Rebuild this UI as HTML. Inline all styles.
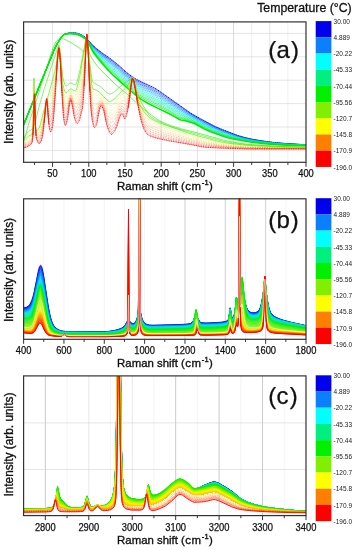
<!DOCTYPE html>
<html><head><meta charset="utf-8"><style>
html,body{margin:0;padding:0;background:#fff;width:355px;height:550px;overflow:hidden}
svg{display:block}
</style></head><body>
<svg width="355" height="550" viewBox="0 0 355 550" font-family="'Liberation Sans', Arial, Helvetica, sans-serif">
<rect width="355" height="550" fill="#fff"/>
<text x="257.2" y="12.1" font-size="12.3" fill="#111" stroke="#111" stroke-width="0.3">Temperature (°C)</text>
<g stroke="#d4d4d4" stroke-width="0.6"><line x1="52.56" y1="21.9" x2="52.56" y2="162.3" stroke="#d2d2d2"/><line x1="70.67" y1="21.9" x2="70.67" y2="162.3" stroke="#e6e6e6"/><line x1="88.77" y1="21.9" x2="88.77" y2="162.3" stroke="#bdbdbd"/><line x1="106.87" y1="21.9" x2="106.87" y2="162.3" stroke="#e6e6e6"/><line x1="124.97" y1="21.9" x2="124.97" y2="162.3" stroke="#d2d2d2"/><line x1="143.08" y1="21.9" x2="143.08" y2="162.3" stroke="#e6e6e6"/><line x1="161.18" y1="21.9" x2="161.18" y2="162.3" stroke="#bdbdbd"/><line x1="179.28" y1="21.9" x2="179.28" y2="162.3" stroke="#e6e6e6"/><line x1="197.38" y1="21.9" x2="197.38" y2="162.3" stroke="#d2d2d2"/><line x1="215.49" y1="21.9" x2="215.49" y2="162.3" stroke="#e6e6e6"/><line x1="233.59" y1="21.9" x2="233.59" y2="162.3" stroke="#bdbdbd"/><line x1="251.69" y1="21.9" x2="251.69" y2="162.3" stroke="#e6e6e6"/><line x1="269.79" y1="21.9" x2="269.79" y2="162.3" stroke="#d2d2d2"/><line x1="287.90" y1="21.9" x2="287.90" y2="162.3" stroke="#e6e6e6"/><line x1="23.6" y1="33.40" x2="306.0" y2="33.40"/><line x1="23.6" y1="56.80" x2="306.0" y2="56.80"/><line x1="23.6" y1="80.20" x2="306.0" y2="80.20"/><line x1="23.6" y1="103.60" x2="306.0" y2="103.60"/><line x1="23.6" y1="127.00" x2="306.0" y2="127.00"/><line x1="23.6" y1="150.40" x2="306.0" y2="150.40"/></g>
<clipPath id="clipa"><rect x="23.6" y="21.9" width="282.4" height="140.4"/></clipPath><g clip-path="url(#clipa)" fill="none" stroke-linejoin="round"><path d="M23.6 124.4L23.8 124.4 53.6 51.2 55.4 47.2 57.4 43.4 61.2 37.3 62.8 35.7 64.4 34.5 66.6 33.6 69.0 33.1 75.6 33.0 77.6 33.4 81.0 34.8 83.0 35.8 85.4 37.5 87.8 39.8 92.8 45.3 96.0 48.2 102.2 53.0 109.2 57.8 112.6 60.4 119.2 65.8 126.6 72.5 133.0 77.3 136.2 79.3 153.6 87.6 157.2 89.6 190.8 113.2 200.4 118.7 215.6 126.7 222.0 129.4 238.0 135.6 244.8 137.5 252.2 139.2 262.2 140.9 274.8 142.6 288.4 143.7 305.8 144.7" stroke="#0000f0" stroke-width="0.95" stroke-dasharray="1.6 0.4"/><path d="M23.6 124.4L23.8 124.4 53.6 51.2 55.4 47.2 57.6 43.0 61.2 37.3 62.8 35.7 64.4 34.5 66.6 33.7 69.0 33.1 75.6 33.1 77.6 33.5 81.2 34.9 83.2 36.0 85.6 37.8 88.0 40.2 92.8 45.7 96.4 49.0 102.4 53.8 112.6 61.3 119.2 66.8 126.6 73.4 133.2 78.4 136.6 80.5 153.8 88.9 157.2 90.7 190.6 113.6 200.8 119.4 215.2 126.9 222.2 129.9 237.6 135.7 244.4 137.7 252.0 139.4 261.8 141.0 274.6 142.7 288.6 143.8 305.8 144.8" stroke="#0025f4" stroke-width="0.7" stroke-dasharray="1.4 0.5"/><path d="M23.6 124.4L23.8 124.4 53.6 51.2 55.4 47.2 57.6 43.0 61.2 37.3 62.8 35.7 64.4 34.5 66.8 33.6 69.2 33.1 75.6 33.1 77.8 33.6 81.2 35.0 83.2 36.1 85.6 37.8 88.0 40.3 93.0 46.3 96.8 49.9 102.6 54.6 112.6 62.1 119.2 67.7 126.6 74.4 133.4 79.5 136.8 81.6 157.2 91.8 178.8 106.5 190.2 113.9 201.4 120.2 214.6 127.1 222.4 130.4 237.2 135.8 244.2 137.8 251.8 139.5 261.8 141.2 274.6 142.8 288.8 143.9 305.8 144.8" stroke="#0049f9" stroke-width="0.7" stroke-dasharray="1.4 0.5"/><path d="M23.6 124.4L23.8 124.4 53.6 51.2 55.4 47.2 57.6 43.0 61.2 37.3 62.8 35.7 64.4 34.5 66.6 33.7 69.2 33.2 75.6 33.2 77.8 33.7 81.2 35.1 83.4 36.3 85.6 37.9 88.0 40.4 93.0 46.7 97.0 50.5 102.8 55.4 114.2 64.4 126.8 75.5 133.6 80.6 137.4 82.9 157.2 93.0 179.0 107.6 190.0 114.4 202.6 121.4 213.8 127.1 222.2 130.7 236.4 135.8 243.4 137.8 251.4 139.6 261.6 141.3 274.4 142.9 289.0 144.0 305.8 144.9" stroke="#006efd" stroke-width="0.7" stroke-dasharray="1.4 0.5"/><path d="M23.6 124.4L23.8 124.4 53.6 51.2 55.4 47.2 57.6 43.0 61.2 37.3 62.8 35.7 64.4 34.5 66.6 33.7 69.2 33.2 75.6 33.3 77.8 33.8 81.2 35.2 83.4 36.4 85.6 38.0 88.0 40.5 93.0 47.1 97.4 51.4 103.0 56.3 115.0 66.0 126.6 76.2 133.8 81.8 138.0 84.3 157.2 94.1 180.4 109.4 191.4 115.8 204.0 122.6 212.8 127.1 221.8 131.0 235.4 135.8 242.6 137.9 251.2 139.8 261.4 141.4 274.2 143.0 289.2 144.1 305.8 145.0" stroke="#008ffd" stroke-width="0.7" stroke-dasharray="1.4 0.5"/><path d="M23.6 124.4L23.8 124.4 53.6 51.2 55.4 47.2 57.4 43.4 61.2 37.3 62.8 35.7 64.4 34.4 66.6 33.7 69.2 33.2 75.4 33.4 77.6 33.8 81.0 35.2 83.2 36.4 85.6 38.1 88.0 40.7 93.2 47.7 97.6 52.2 103.2 57.1 116.8 68.5 126.4 77.0 134.2 83.0 137.0 84.8 141.2 87.1 158.0 95.8 180.4 110.3 203.4 122.9 211.6 127.0 220.8 131.0 233.4 135.5 240.8 137.7 250.6 139.9 260.8 141.5 274.0 143.1 289.4 144.2 305.8 145.0" stroke="#00acf9" stroke-width="0.7" stroke-dasharray="1.4 0.5"/><path d="M23.6 124.4L23.8 124.4 53.6 51.2 55.4 47.2 57.6 43.0 61.2 37.3 62.8 35.7 64.4 34.4 66.6 33.7 69.2 33.3 75.4 33.4 77.6 33.9 81.0 35.3 83.2 36.5 85.6 38.2 88.0 40.8 93.2 48.1 98.0 53.1 103.4 58.0 117.0 69.6 126.2 77.8 134.4 84.2 137.4 86.1 141.8 88.6 158.4 97.2 180.0 110.9 195.6 119.1 204.6 124.0 210.2 126.8 218.8 130.7 229.2 134.4 239.2 137.5 250.2 140.0 260.6 141.7 273.8 143.2 289.6 144.4 305.8 145.1" stroke="#00c9f4" stroke-width="0.7" stroke-dasharray="1.4 0.5"/><path d="M23.6 124.4L23.8 124.4 53.6 51.2 55.4 47.2 57.6 43.0 61.2 37.3 62.8 35.7 64.4 34.4 66.6 33.7 69.2 33.3 75.4 33.5 77.6 34.0 81.2 35.4 83.4 36.7 85.6 38.3 88.0 41.0 93.2 48.5 98.4 54.1 104.4 59.6 125.8 78.5 134.6 85.4 137.8 87.5 142.0 89.9 158.8 98.7 179.8 111.8 195.4 119.5 204.2 124.4 208.6 126.6 217.4 130.5 228.0 134.4 238.6 137.6 249.6 140.1 260.2 141.8 273.6 143.3 289.8 144.5 305.8 145.2" stroke="#00e6f0" stroke-width="0.7" stroke-dasharray="1.4 0.5"/><path d="M23.6 124.4L23.8 124.4 53.6 51.2 57.2 43.7 61.2 37.3 62.6 35.8 64.2 34.6 65.6 34.0 68.8 33.4 74.2 33.5 77.0 33.9 80.6 35.3 83.2 36.6 85.6 38.3 88.0 41.1 93.4 49.2 96.0 52.2 99.0 55.2 105.8 61.7 125.4 79.1 131.2 83.9 135.6 87.2 142.8 91.6 159.6 100.4 179.6 112.6 185.8 115.4 195.2 120.0 207.8 126.7 217.0 130.9 227.6 134.7 238.0 137.8 249.4 140.3 260.2 142.0 273.4 143.4 290.0 144.6 305.8 145.3" stroke="#00e9d0" stroke-width="0.7" stroke-dasharray="1.4 0.5"/><path d="M23.6 124.4L23.8 124.4 53.6 51.2 57.0 44.1 61.0 37.6 62.4 36.0 64.2 34.5 65.2 34.1 68.6 33.4 73.4 33.5 76.4 33.8 79.2 34.8 82.6 36.4 85.6 38.4 88.0 41.2 92.2 48.0 93.8 50.2 97.0 53.8 102.2 59.0 110.6 66.9 125.4 80.2 131.6 85.3 136.4 88.9 143.4 93.2 161.0 102.4 173.8 110.0 179.4 113.5 185.8 116.1 195.2 120.5 207.2 127.0 216.6 131.2 227.4 135.1 237.6 138.0 249.2 140.5 260.0 142.1 273.2 143.6 290.2 144.7 305.8 145.3" stroke="#00ecb0" stroke-width="0.7" stroke-dasharray="1.4 0.5"/><path d="M23.6 124.4L23.8 124.4 53.6 51.2 56.8 44.5 61.0 37.6 62.0 36.4 64.0 34.7 65.2 34.1 68.0 33.6 70.2 33.4 72.8 33.5 76.2 33.9 78.8 34.7 82.4 36.3 85.6 38.5 88.0 41.4 93.4 50.1 96.0 53.3 99.2 56.7 105.8 63.4 113.2 70.3 126.0 81.8 134.0 88.3 138.2 91.3 142.0 93.7 161.8 104.1 171.0 109.4 179.8 114.8 186.0 117.0 195.0 121.0 205.6 126.8 214.2 130.7 225.8 135.0 236.2 137.9 250.8 141.0 266.8 143.1 285.2 144.5 305.8 145.4" stroke="#00ef90" stroke-width="0.7" stroke-dasharray="1.4 0.5"/><path d="M23.6 124.4L23.8 124.4 53.6 51.2 56.8 44.5 61.0 37.6 62.0 36.4 64.0 34.7 65.0 34.2 67.8 33.6 70.0 33.4 72.6 33.5 76.0 33.9 78.8 34.8 82.6 36.5 85.8 38.8 88.2 41.9 92.2 48.8 93.8 51.1 97.2 55.2 102.8 61.2 108.8 67.2 115.4 73.4 126.2 83.0 134.4 89.8 138.8 93.0 142.6 95.3 165.2 107.3 174.0 112.3 179.6 115.7 186.0 117.8 195.0 121.6 205.8 127.5 214.0 131.2 225.6 135.4 235.0 138.0 250.4 141.2 266.2 143.2 274.0 143.9 285.4 144.7 305.8 145.5" stroke="#00ef6e" stroke-width="0.7" stroke-dasharray="1.4 0.5"/><path d="M23.6 124.4L23.8 124.4 53.6 51.2 56.6 44.8 60.8 37.8 61.8 36.6 63.8 34.8 65.0 34.2 67.2 33.7 69.6 33.5 72.2 33.6 76.0 34.0 78.8 34.9 82.6 36.6 85.8 38.9 88.0 41.7 92.2 49.2 94.2 52.2 97.6 56.3 104.4 63.7 111.4 70.8 120.6 79.3 128.6 86.2 136.2 92.4 139.6 94.9 143.8 97.4 166.2 109.1 174.0 113.5 179.4 116.8 181.0 117.4 186.2 118.8 195.0 122.3 205.8 128.2 213.8 131.7 225.4 135.8 233.8 138.1 250.2 141.4 265.6 143.3 273.6 144.0 285.4 144.8 305.8 145.6" stroke="#00ee49" stroke-width="0.7"/><path d="M23.6 124.4L23.8 124.4 53.6 51.2 56.6 44.8 60.8 37.8 61.8 36.6 63.8 34.8 65.0 34.1 67.0 33.8 69.6 33.5 72.0 33.6 76.0 34.1 78.8 35.0 82.6 36.8 85.8 39.0 88.0 41.9 92.4 50.1 94.4 53.1 98.0 57.5 106.0 66.5 112.0 72.6 120.4 80.4 129.2 88.0 137.4 94.7 140.6 97.0 145.2 99.8 151.8 103.3 167.2 111.0 174.0 114.7 179.2 117.9 181.0 118.5 186.2 119.7 195.0 122.9 205.8 128.9 213.6 132.2 225.2 136.3 232.8 138.3 250.0 141.6 265.2 143.5 273.4 144.2 285.8 144.9 305.8 145.7" stroke="#00ec25" stroke-width="0.7"/><path d="M23.6 124.4L23.8 124.4 53.6 51.2 56.6 44.8 60.8 37.8 61.8 36.6 63.8 34.8 65.0 34.1 66.6 33.9 69.4 33.6 71.8 33.7 75.8 34.2 78.8 35.1 82.8 37.0 85.8 39.2 88.0 42.1 92.4 50.7 94.6 54.1 98.2 58.7 107.0 68.9 112.4 74.5 119.6 81.2 129.0 89.5 138.2 97.2 142.4 100.1 148.8 103.7 156.0 107.4 167.8 113.0 174.2 116.4 179.0 119.3 181.0 120.0 186.4 120.9 194.4 123.6 196.8 124.7 205.4 129.6 210.0 131.6 223.8 136.5 228.0 137.8 231.8 138.7 250.2 142.0 265.0 143.7 273.2 144.4 286.6 145.2 305.8 145.8" stroke="#00eb00" stroke-width="1.6"/><path d="M23.6 139.0L24.6 137.5 26.0 134.0 27.6 127.6 29.4 121.6 46.4 69.4 51.4 52.9 53.2 47.7 55.2 43.0 56.4 41.1 58.4 39.8 60.8 38.7 62.0 38.5 63.6 38.9 67.0 40.5 72.8 43.6 79.2 47.9 80.4 48.8 83.0 51.4 84.2 52.0 84.6 51.6 85.0 49.9 86.4 41.2 86.8 40.1 87.0 40.1 87.6 42.6 88.8 51.2 90.4 55.6 91.8 58.1 95.0 63.0 97.6 66.2 101.2 70.3 115.2 84.2 127.2 94.2 137.4 103.7 141.4 107.2 147.4 112.0 156.2 118.6 159.4 120.7 163.8 122.8 171.6 125.9 181.0 128.8 200.6 133.7 223.0 140.0 228.8 141.3 237.8 142.9 248.4 144.4 268.4 145.8 288.0 146.7 305.8 147.0" stroke="#14ec00" stroke-width="0.6"/><path d="M23.6 140.0L25.4 135.7 26.8 133.3 28.2 131.8 31.2 129.8 32.4 128.7 33.4 127.3 34.2 125.4 35.6 120.7 38.8 107.7 44.0 89.6 58.4 45.5 58.8 45.0 59.0 45.1 59.4 46.4 62.6 75.5 63.4 79.7 64.8 84.4 65.6 85.8 66.0 86.0 66.4 85.9 67.4 85.4 69.6 83.4 70.8 83.0 71.8 83.3 74.4 84.8 75.4 85.0 76.2 84.1 77.2 81.4 80.2 69.2 85.8 39.2 86.4 36.8 86.8 36.0 87.0 36.1 87.2 36.8 87.6 39.7 88.8 53.2 91.2 74.2 92.0 79.4 92.8 82.0 94.0 83.0 99.8 86.2 107.6 93.2 108.8 93.8 110.0 94.0 111.6 93.6 113.6 92.6 118.6 88.0 121.6 85.5 126.8 81.9 129.6 79.5 130.6 79.0 131.4 79.2 132.2 80.3 133.4 83.3 135.8 90.5 139.0 102.4 139.8 104.6 141.0 106.9 143.8 111.4 146.8 115.2 149.8 117.9 153.8 120.3 157.6 122.0 164.2 124.6 179.8 129.4 216.4 139.5 223.0 141.1 228.6 142.3 242.4 144.3 254.6 145.3 282.6 146.8 305.8 147.3" stroke="#33ed00" stroke-width="0.6"/><path d="M23.6 141.0L25.8 138.5 27.8 136.7 28.6 136.1 30.6 135.3 31.4 134.7 32.0 134.0 32.2 133.1 32.8 124.7 33.4 110.0 34.0 78.0 34.8 107.8 35.6 127.4 36.0 131.0 37.0 130.6 38.0 129.4 39.2 127.7 40.4 124.5 43.8 110.7 49.0 92.9 54.8 71.3 56.2 64.8 58.0 49.6 58.4 47.2 58.8 46.1 59.0 46.1 59.4 47.3 60.6 55.8 62.8 83.8 63.6 87.5 64.6 90.9 65.4 92.6 66.0 93.0 67.0 92.5 69.4 89.7 70.4 89.0 71.6 89.2 74.2 90.7 75.4 91.0 76.2 90.1 77.2 87.3 80.4 73.1 85.8 39.8 86.4 36.9 86.8 36.0 87.0 36.1 87.4 38.6 88.8 57.9 90.6 75.7 91.6 83.9 92.4 87.9 92.8 88.7 93.2 89.0 96.4 90.2 99.6 92.2 103.6 96.6 107.0 100.0 108.4 101.0 109.8 101.4 111.4 100.9 114.0 99.3 116.6 97.0 121.0 92.0 125.2 88.4 126.8 86.8 128.4 84.4 132.2 77.8 132.6 77.2 133.0 77.0 133.4 77.4 133.8 78.4 136.0 88.0 138.2 95.2 139.8 99.6 142.2 104.2 149.0 114.8 149.8 115.8 151.2 117.0 154.6 119.3 163.2 123.6 170.0 126.6 182.4 131.1 195.8 135.3 215.8 140.7 222.4 142.2 228.2 143.2 242.2 144.9 256.4 145.9 283.6 147.1 305.8 147.5" stroke="#52ee00" stroke-width="0.7"/><path d="M23.6 142.0L27.8 138.1 31.2 136.2 32.0 135.2 32.2 134.4 32.8 126.6 33.4 112.7 34.0 82.5 34.2 84.9 35.2 118.7 35.8 130.4 36.0 131.6 36.4 132.0 37.0 132.0 38.0 131.3 39.0 130.2 39.6 129.2 41.0 125.0 46.6 100.8 47.0 100.1 48.6 98.3 49.8 95.7 51.0 92.1 52.6 86.2 54.2 78.8 55.6 71.2 56.4 65.3 58.0 50.3 58.4 47.7 58.8 46.4 59.0 46.4 59.4 47.8 60.6 57.3 62.8 87.2 63.6 91.9 64.6 95.6 65.4 97.3 65.8 97.5 66.4 97.2 67.6 95.7 69.6 91.7 70.6 90.6 71.0 90.6 71.6 91.1 74.4 94.6 75.6 95.2 76.0 95.0 76.6 94.0 77.6 91.1 80.8 77.3 82.8 65.6 84.4 53.7 86.0 39.8 86.8 35.8 87.0 35.8 87.2 36.8 87.6 40.8 89.0 61.8 90.6 79.9 91.6 88.5 92.4 92.7 93.0 93.8 94.4 94.9 96.8 95.2 99.0 94.6 100.0 94.7 100.8 95.1 101.8 96.2 104.0 99.1 106.8 103.4 108.0 104.7 109.0 105.5 110.0 105.9 111.0 105.8 112.2 105.2 113.8 104.1 116.8 101.0 121.2 95.0 123.0 93.8 124.6 93.2 125.8 92.0 127.0 90.4 128.2 88.0 132.2 77.9 132.6 77.4 133.0 77.3 133.4 77.7 134.0 79.5 136.0 88.7 138.2 96.8 139.8 101.7 141.2 105.0 142.8 108.1 148.0 116.4 149.8 118.7 153.2 121.1 156.6 122.9 166.2 127.1 172.4 129.5 179.6 132.0 196.2 136.9 214.0 141.3 220.8 142.7 227.0 143.8 238.8 145.2 249.8 146.0 281.2 147.3 305.8 147.7" stroke="#a8f000" stroke-width="0.55" stroke-dasharray="0.8 0.9"/><path d="M23.6 143.0L27.8 139.4 31.0 137.6 32.0 136.4 32.2 135.7 32.8 128.4 33.4 115.2 34.0 86.8 34.2 87.4 34.4 92.6 35.4 124.0 36.0 132.3 36.2 132.8 36.8 133.3 38.2 133.0 39.2 132.1 40.2 130.0 41.4 126.2 42.6 121.3 46.6 100.5 46.8 100.2 47.0 100.2 48.6 102.1 49.8 101.2 51.0 98.5 52.8 91.8 55.4 75.9 58.0 50.9 58.4 48.1 58.8 46.7 59.0 46.7 59.4 48.2 60.6 58.7 62.8 90.5 63.6 96.0 64.6 100.1 65.2 101.5 65.6 101.9 66.0 101.8 66.6 101.2 67.6 99.3 69.6 93.7 70.2 92.5 70.6 92.1 71.0 92.2 71.6 92.9 74.0 97.6 74.8 98.7 75.4 99.3 75.8 99.4 76.6 98.7 77.8 95.6 80.0 87.1 82.6 73.4 84.2 60.2 86.0 40.8 86.8 35.5 87.0 35.6 87.2 36.6 87.6 40.9 89.0 63.6 90.6 84.0 91.6 92.9 92.4 97.3 92.8 98.3 93.6 99.5 94.2 100.0 95.0 100.2 96.8 99.8 98.6 97.7 99.6 97.0 100.4 96.8 101.2 97.1 102.2 98.3 103.8 100.8 106.2 105.8 107.2 107.5 108.6 109.2 109.8 110.1 110.8 110.3 111.6 110.2 113.2 109.1 114.6 107.8 117.0 104.8 119.4 100.6 121.2 98.0 122.0 97.5 123.0 97.1 124.2 97.4 124.6 97.3 125.8 96.0 127.0 94.1 128.2 91.2 132.0 78.6 132.4 77.7 132.8 77.5 133.4 78.1 134.0 79.8 137.0 93.7 139.4 102.6 141.6 108.5 144.0 113.2 148.0 119.3 150.0 121.6 152.0 123.0 154.4 124.3 162.6 127.8 169.2 130.3 177.0 132.9 196.6 138.4 211.4 141.8 225.2 144.3 237.8 145.6 249.2 146.4 281.0 147.6 305.8 147.9" stroke="#f4f000" stroke-width="0.55" stroke-dasharray="0.8 0.9"/><path d="M23.6 143.9L28.0 140.6 30.8 139.0 31.8 137.9 32.2 136.9 32.8 130.1 33.4 117.7 34.0 91.0 34.2 89.8 35.6 128.1 36.0 132.8 36.2 133.7 36.8 134.5 38.2 134.8 39.2 134.2 40.2 132.3 41.4 128.9 43.0 122.1 46.6 100.1 46.8 100.0 47.0 100.4 48.4 105.2 48.8 106.1 49.4 106.4 50.0 106.3 50.4 105.9 51.0 104.5 52.8 97.9 54.0 90.2 55.6 77.3 58.0 51.5 58.4 48.5 58.8 47.0 59.0 47.0 59.4 48.7 60.4 57.8 62.8 93.6 63.6 100.0 64.6 104.5 65.2 105.9 65.6 106.1 66.0 105.9 66.6 105.1 67.6 102.8 69.6 95.6 70.2 94.1 70.6 93.5 71.0 93.7 71.6 94.7 74.6 102.1 75.8 103.5 76.4 103.4 76.8 102.9 78.0 100.0 80.0 92.8 82.8 78.4 84.2 65.0 86.2 39.6 86.8 35.3 87.0 35.3 87.2 36.4 87.6 40.9 89.2 68.5 90.6 87.9 91.6 97.2 92.4 101.7 93.0 103.3 94.0 104.8 94.6 105.1 95.4 105.0 96.8 104.2 98.6 100.6 99.8 99.1 100.6 98.5 101.2 98.6 102.2 99.8 103.8 102.6 106.2 108.9 107.4 111.2 108.6 113.0 110.2 114.4 111.0 114.7 112.0 114.4 113.4 113.3 114.8 111.8 117.0 108.6 119.4 103.8 121.2 101.0 122.0 100.5 123.0 100.4 124.2 101.2 124.6 101.3 125.2 100.7 126.0 99.6 127.0 97.7 128.2 94.3 132.0 78.8 132.4 77.9 132.8 77.8 133.4 78.4 134.2 81.0 137.2 95.8 139.2 103.8 140.8 108.9 142.8 113.8 145.6 118.7 149.0 123.3 150.0 124.2 151.8 125.4 156.0 127.4 163.2 130.2 169.0 132.2 185.0 136.8 204.0 141.5 213.2 143.2 221.8 144.5 234.8 145.9 248.2 146.9 280.6 147.8 305.8 148.1" stroke="#ffbe00" stroke-width="0.55" stroke-dasharray="0.8 0.9"/><path d="M23.6 144.7L28.0 141.8 30.6 140.4 31.6 139.3 32.2 138.0 32.8 131.7 33.4 120.0 34.2 92.1 34.6 97.9 35.6 128.3 36.0 133.4 36.2 134.5 36.8 135.7 38.2 136.5 38.8 136.5 39.2 136.2 40.4 134.1 41.8 130.0 43.2 123.3 45.8 104.4 46.6 99.8 46.8 99.9 47.0 100.6 48.8 109.9 49.6 111.2 50.2 111.5 50.6 111.1 51.2 109.7 52.8 103.7 53.8 96.7 55.4 82.4 57.8 54.1 58.4 48.9 58.8 47.3 59.0 47.3 59.4 49.1 60.4 58.8 62.0 85.5 63.0 98.7 63.8 105.1 64.6 108.6 65.0 109.7 65.4 110.2 66.0 109.9 66.6 108.8 67.6 106.1 69.2 98.8 70.0 96.1 70.6 94.9 71.0 95.1 71.4 95.8 72.6 99.2 74.0 104.1 75.0 106.3 75.6 107.2 76.2 107.6 76.8 107.3 77.2 106.7 78.4 103.6 80.0 98.2 82.8 84.3 84.2 69.5 85.6 47.9 86.4 37.9 86.8 35.1 87.0 35.1 87.2 36.2 87.6 41.0 89.4 74.0 90.6 91.6 91.4 99.6 92.4 105.9 93.2 108.1 94.0 109.5 94.6 109.9 95.6 109.5 96.8 108.4 98.6 103.4 99.8 101.2 100.6 100.2 101.0 100.0 101.4 100.2 102.4 101.6 103.8 104.4 106.2 111.8 107.4 114.6 108.8 116.9 110.6 118.7 111.4 118.8 112.2 118.4 113.8 117.0 115.0 115.6 117.0 112.3 119.2 107.3 121.2 103.7 122.0 103.4 123.0 103.5 124.2 104.9 124.6 105.0 125.2 104.5 126.2 102.8 127.2 100.5 128.4 96.4 131.8 79.9 132.2 78.3 132.6 77.9 133.0 78.1 133.4 78.8 134.2 81.3 137.2 96.9 139.4 106.4 141.0 111.7 142.8 116.4 145.6 121.6 148.6 125.5 149.6 126.4 151.0 127.3 154.8 129.2 167.2 133.5 182.2 137.6 203.2 142.5 219.0 145.0 231.8 146.3 247.6 147.3 280.0 148.1 305.8 148.3" stroke="#ff8b00" stroke-width="0.55" stroke-dasharray="0.8 0.9"/><path d="M23.6 145.6L30.2 141.8 31.4 140.6 32.2 139.1 32.8 133.3 33.4 122.2 34.0 98.7 34.2 94.3 34.4 93.7 35.6 128.5 36.2 135.3 37.0 137.0 38.4 138.2 39.0 138.2 39.4 137.9 40.2 136.6 41.0 134.8 42.0 131.6 42.8 128.1 43.4 124.2 45.8 104.6 46.6 99.5 47.0 100.8 48.8 113.4 49.6 115.7 50.2 116.5 50.6 116.4 51.2 115.2 52.6 110.2 53.6 103.3 55.4 85.4 57.4 58.9 58.2 50.8 58.8 47.5 59.0 47.5 59.4 49.5 60.4 59.8 62.0 87.9 63.0 101.7 63.8 108.8 64.6 112.4 65.2 113.9 65.6 114.0 66.2 113.2 66.8 111.8 67.6 109.2 69.2 100.8 70.0 97.6 70.6 96.2 71.0 96.4 71.4 97.3 72.6 101.3 74.0 107.1 75.0 109.6 75.6 110.8 76.2 111.4 76.8 111.4 77.4 110.6 78.6 107.8 80.0 103.3 82.8 89.9 84.2 73.8 86.4 38.1 86.8 34.9 87.0 34.9 87.8 44.2 89.4 76.2 91.0 99.7 91.8 106.5 92.4 109.8 93.4 112.8 94.0 113.9 94.4 114.3 95.4 114.0 96.6 112.8 97.2 111.3 99.0 104.9 100.4 102.0 100.8 101.6 101.2 101.5 102.2 102.6 103.8 106.0 106.2 114.6 108.4 119.7 109.8 121.7 110.8 122.6 111.6 122.7 112.8 121.9 114.6 119.9 116.4 116.9 117.4 114.9 119.2 110.2 121.0 106.6 121.8 106.1 123.0 106.4 124.2 108.3 124.6 108.5 125.4 107.7 126.4 105.8 127.4 102.9 128.4 99.0 131.4 82.1 132.2 78.5 132.6 78.1 133.2 78.7 134.0 80.8 137.2 98.0 138.8 105.5 140.6 112.5 142.6 118.4 145.2 123.6 147.6 126.9 149.8 128.9 153.8 130.9 165.2 134.7 178.8 138.2 202.4 143.5 215.6 145.4 228.8 146.6 247.0 147.7 279.4 148.3 305.8 148.5" stroke="#ff5c00" stroke-width="0.55" stroke-dasharray="0.8 0.9"/><path d="M23.6 146.3L25.6 145.5 30.0 143.0 31.2 141.9 32.2 140.1 32.8 134.7 33.4 124.2 34.0 102.1 34.4 94.0 35.6 128.6 36.2 136.0 37.0 138.1 38.6 139.9 39.0 139.9 39.4 139.7 40.2 138.5 41.0 136.9 42.2 133.1 43.4 126.2 45.8 104.7 46.6 99.2 47.0 100.9 48.8 116.7 49.6 119.8 50.2 121.2 50.4 121.3 50.8 121.0 51.4 119.7 52.8 114.2 53.6 107.9 55.4 88.1 57.4 59.6 58.2 51.3 58.8 47.8 59.0 47.8 59.4 49.8 60.4 60.8 61.8 86.8 63.0 104.5 63.8 112.2 64.6 116.0 65.2 117.5 65.6 117.5 66.2 116.6 66.8 115.0 67.6 112.1 69.2 102.6 70.0 99.0 70.6 97.4 71.0 97.6 71.4 98.7 72.6 103.2 74.0 109.8 75.0 112.7 75.8 114.4 76.4 115.1 77.0 115.0 77.6 114.3 78.8 111.6 80.0 108.1 82.4 97.6 82.8 95.1 84.2 77.7 86.4 38.3 86.8 34.7 87.0 34.7 87.4 38.1 88.0 47.6 89.4 78.3 90.8 101.0 92.2 112.5 93.4 116.8 94.0 118.1 94.4 118.4 94.8 118.4 95.4 118.0 96.8 116.0 98.8 107.7 100.4 103.5 100.8 102.9 101.2 102.8 101.6 103.0 102.2 103.9 103.8 107.6 106.2 117.2 108.4 122.8 110.0 125.4 111.0 126.3 111.8 126.3 113.0 125.3 114.8 123.1 116.4 120.2 117.4 118.0 119.2 112.9 121.0 109.0 121.4 108.6 121.8 108.6 123.0 109.1 124.2 111.5 124.6 111.8 125.4 111.0 126.4 108.9 127.4 105.8 128.4 101.5 131.4 82.6 132.2 78.6 132.4 78.2 132.6 78.2 133.4 79.3 134.2 81.8 137.2 99.0 138.8 107.0 140.6 114.4 142.6 120.6 144.8 125.4 146.8 128.3 149.4 130.8 153.0 132.6 156.2 133.8 163.6 136.0 176.0 139.0 201.6 144.4 211.6 145.7 226.4 147.0 246.4 148.1 305.8 148.6" stroke="#ff3500" stroke-width="0.55" stroke-dasharray="0.8 0.9"/><path d="M23.6 147.0L26.0 146.2 30.2 143.8 31.8 141.8 32.4 140.0 33.4 126.0 34.4 94.3 34.6 95.7 35.4 124.8 35.8 132.2 36.2 136.6 37.0 139.1 38.6 141.4 39.0 141.5 39.4 141.3 40.2 140.3 41.2 138.3 42.4 134.3 43.6 126.4 45.8 104.8 46.6 99.0 47.0 101.0 48.8 119.7 49.6 123.6 50.2 125.4 50.4 125.6 50.8 125.5 51.4 124.3 52.8 118.8 53.6 112.0 55.2 93.3 57.2 62.7 58.2 51.7 58.8 48.0 59.0 48.0 59.4 50.2 60.4 61.6 61.8 88.8 63.2 109.5 63.8 115.3 64.6 119.2 65.2 120.8 65.6 120.7 66.2 119.6 66.8 117.8 67.6 114.7 69.2 104.2 70.2 99.4 70.6 98.5 71.0 98.7 71.4 99.9 72.6 105.0 74.2 113.1 75.4 116.6 76.0 117.9 76.6 118.5 77.2 118.4 78.0 117.4 79.4 114.2 80.0 112.3 82.4 102.2 82.8 99.8 84.2 81.3 86.4 38.5 86.8 34.5 87.0 34.5 87.4 38.1 88.0 47.8 89.4 80.2 90.8 104.0 92.2 115.8 93.4 120.4 94.0 121.8 94.4 122.2 94.8 122.1 95.4 121.7 96.8 119.4 98.8 109.8 100.4 104.9 100.8 104.2 101.2 103.9 101.6 104.2 102.2 105.1 103.8 108.9 106.4 120.2 108.6 126.1 110.2 128.7 111.0 129.6 111.4 129.7 112.0 129.4 113.2 128.3 114.8 126.3 116.6 122.7 117.4 120.8 119.2 115.3 121.0 111.2 121.4 110.8 121.8 110.8 123.0 111.5 124.2 114.3 124.6 114.7 125.4 113.9 126.4 111.7 127.4 108.3 128.4 103.7 131.2 84.3 132.0 79.5 132.4 78.4 132.8 78.5 133.2 79.2 134.2 82.1 137.4 101.0 138.8 108.2 140.6 116.1 142.6 122.7 144.6 127.2 146.4 130.1 149.0 132.5 152.2 134.2 155.4 135.3 161.2 136.9 170.8 139.2 201.0 145.3 208.4 146.2 223.2 147.3 246.2 148.4 305.8 148.8" stroke="#ff1900" stroke-width="0.55" stroke-dasharray="0.8 0.9"/><path d="M23.6 147.6L26.0 146.9 30.0 144.8 31.6 142.9 32.2 141.8 32.4 140.9 33.0 134.3 33.6 123.5 34.4 94.6 34.6 95.2 35.4 124.9 35.8 132.4 36.2 137.2 37.0 139.9 38.6 142.6 39.0 142.8 39.4 142.6 40.2 141.7 41.2 140.0 42.4 136.0 43.6 127.8 45.8 104.9 46.6 98.7 47.0 101.2 48.8 122.3 49.6 126.8 50.2 129.0 50.4 129.3 50.8 129.3 51.4 128.2 52.8 122.7 53.6 115.6 55.2 95.7 57.2 63.3 58.2 52.0 58.8 48.2 59.0 48.2 59.4 50.5 60.4 62.3 61.8 90.4 63.2 111.8 63.8 117.9 64.6 122.0 65.2 123.6 65.6 123.4 66.2 122.3 67.0 119.5 67.8 115.7 69.2 105.6 70.2 100.5 70.6 99.4 70.8 99.4 71.0 99.7 71.4 101.0 72.6 106.5 74.2 115.3 75.4 119.1 76.2 120.9 76.8 121.5 77.4 121.3 78.2 120.3 79.6 117.3 80.0 116.0 82.4 106.2 83.0 101.9 84.2 84.3 86.4 38.7 86.8 34.3 87.0 34.3 87.4 38.0 88.2 51.7 89.4 81.8 90.8 106.6 92.2 118.6 93.4 123.4 94.0 124.9 94.4 125.4 94.8 125.3 95.4 124.8 96.8 122.2 98.8 111.6 100.4 106.0 100.8 105.2 101.2 104.9 101.6 105.1 102.2 106.0 103.8 110.1 106.2 121.5 107.6 126.0 109.0 129.3 110.2 131.4 111.0 132.3 111.8 132.4 112.6 131.8 114.2 129.9 115.2 128.2 117.2 123.8 119.2 117.4 120.6 113.9 121.2 112.9 121.6 112.7 122.0 112.8 123.0 113.6 124.4 117.1 124.6 117.3 125.0 117.0 126.6 113.5 128.2 106.7 131.4 83.4 132.0 79.7 132.4 78.4 132.8 78.7 133.2 79.4 134.2 82.3 137.4 101.9 139.0 110.4 140.6 117.5 142.6 124.4 144.4 128.7 146.2 131.7 148.6 134.0 151.6 135.6 156.6 137.2 167.8 139.8 191.0 144.1 200.6 146.0 206.0 146.8 219.6 147.7 246.2 148.8 305.8 148.9" stroke="#ff0700" stroke-width="0.55" stroke-dasharray="0.8 0.9"/><path d="M23.6 148.0L26.0 147.4 29.8 145.5 31.4 143.8 32.2 142.3 32.4 141.5 33.0 135.2 33.6 125.0 34.4 94.8 34.6 94.8 35.4 125.0 35.8 132.6 36.2 137.6 36.6 139.4 37.2 140.9 38.6 143.5 39.0 143.7 39.4 143.6 40.2 142.8 41.2 141.1 42.4 137.2 43.6 128.8 45.8 104.9 46.6 98.6 47.0 101.2 48.6 122.3 49.2 126.6 49.8 130.0 50.4 131.9 50.6 132.0 51.0 131.7 51.6 130.3 52.8 125.4 53.6 118.0 55.2 97.2 57.2 63.7 58.2 52.2 58.8 48.3 59.0 48.3 59.4 50.7 60.4 62.8 61.8 91.6 63.2 113.3 63.8 119.7 64.6 123.9 65.2 125.5 65.6 125.3 66.2 124.0 67.2 120.4 67.8 117.2 69.2 106.6 70.2 101.1 70.6 100.1 70.8 100.0 71.0 100.4 71.4 101.7 72.6 107.5 74.2 116.8 75.4 120.8 76.2 122.8 76.8 123.5 77.2 123.6 77.6 123.3 78.4 122.2 79.6 119.8 80.0 118.5 81.4 112.4 82.4 109.0 83.0 104.6 84.2 86.4 86.4 38.8 86.8 34.2 87.0 34.2 87.4 38.0 88.2 51.8 89.4 82.9 90.8 108.3 92.2 120.5 93.4 125.5 94.0 127.1 94.4 127.6 94.8 127.5 95.4 126.9 96.8 124.1 98.8 112.8 100.4 106.8 100.8 105.9 101.2 105.6 101.6 105.8 102.2 106.7 103.8 110.9 106.2 122.8 107.6 127.6 109.0 131.0 110.2 133.3 111.0 134.3 111.8 134.3 112.6 133.7 114.2 131.7 115.2 130.1 117.2 125.5 119.2 118.8 120.6 115.2 121.2 114.1 121.6 114.0 122.0 114.1 123.0 115.0 124.4 118.9 124.6 119.0 125.0 118.8 125.6 117.7 126.6 115.2 128.2 108.0 131.4 83.6 132.0 79.8 132.4 78.5 132.8 78.8 133.2 79.5 134.2 82.5 137.4 102.4 138.8 110.1 140.4 117.7 142.4 125.0 144.2 129.6 146.0 132.8 148.2 134.9 151.0 136.4 156.0 138.0 166.6 140.4 190.8 144.6 200.8 146.6 205.8 147.3 217.6 148.0 246.4 149.0 305.8 149.0" stroke="#ff0000" stroke-width="0.8" stroke-dasharray="1.3 0.5"/><path d="M33.0 135.2L33.6 125.0 34.4 94.8 34.6 94.8 35.4 125.0 36.0 135.5 M44.2 123.0L45.8 104.9 46.4 99.3 46.6 98.6 46.8 99.4 47.0 101.2 48.8 124.0 M56.2 80.2L57.4 61.1 58.4 50.4 58.8 48.3 59.0 48.3 59.2 49.1 59.6 52.7 60.4 62.8 61.8 91.6 M84.2 86.4L85.4 58.1 86.2 42.4 86.6 35.9 86.8 34.2 87.0 34.2 87.4 38.0 88.2 51.8 89.8 91.1 M128.2 108.0L129.2 101.2 131.4 83.6 132.0 79.8 132.2 78.9 132.4 78.5 132.8 78.8 133.2 79.5 133.8 81.0 134.2 82.5 135.8 91.8 137.4 102.4" stroke="#ff1a00" stroke-width="0.9"/></g>
<rect x="23.6" y="21.9" width="282.4" height="140.4" fill="none" stroke="#333" stroke-width="1.2"/>
<g stroke="#333" stroke-width="1"><line x1="52.56" y1="162.3" x2="52.56" y2="166.8"/><line x1="88.77" y1="162.3" x2="88.77" y2="166.8"/><line x1="124.97" y1="162.3" x2="124.97" y2="166.8"/><line x1="161.18" y1="162.3" x2="161.18" y2="166.8"/><line x1="197.38" y1="162.3" x2="197.38" y2="166.8"/><line x1="233.59" y1="162.3" x2="233.59" y2="166.8"/><line x1="269.79" y1="162.3" x2="269.79" y2="166.8"/><line x1="306.00" y1="162.3" x2="306.00" y2="166.8"/><line x1="34.46" y1="162.3" x2="34.46" y2="164.9"/><line x1="70.67" y1="162.3" x2="70.67" y2="164.9"/><line x1="106.87" y1="162.3" x2="106.87" y2="164.9"/><line x1="143.08" y1="162.3" x2="143.08" y2="164.9"/><line x1="179.28" y1="162.3" x2="179.28" y2="164.9"/><line x1="215.49" y1="162.3" x2="215.49" y2="164.9"/><line x1="251.69" y1="162.3" x2="251.69" y2="164.9"/><line x1="287.90" y1="162.3" x2="287.90" y2="164.9"/></g>
<g font-size="10.4" text-anchor="middle" fill="#111" stroke="#111" stroke-width="0.25"><text x="52.56" y="177.4" textLength="10.40" lengthAdjust="spacingAndGlyphs">50</text><text x="88.77" y="177.4" textLength="15.60" lengthAdjust="spacingAndGlyphs">100</text><text x="124.97" y="177.4" textLength="15.60" lengthAdjust="spacingAndGlyphs">150</text><text x="161.18" y="177.4" textLength="15.60" lengthAdjust="spacingAndGlyphs">200</text><text x="197.38" y="177.4" textLength="15.60" lengthAdjust="spacingAndGlyphs">250</text><text x="233.59" y="177.4" textLength="15.60" lengthAdjust="spacingAndGlyphs">300</text><text x="269.79" y="177.4" textLength="15.60" lengthAdjust="spacingAndGlyphs">350</text><text x="306.00" y="177.4" textLength="15.60" lengthAdjust="spacingAndGlyphs">400</text></g>
<g font-size="11.4" fill="#111" stroke="#111" stroke-width="0.35"><text x="117.1" y="189.8">Raman shift</text><text x="181.0" y="189.8" letter-spacing="0.45">(cm</text><text x="201.7" y="185.2" font-size="7.6" letter-spacing="0.4">-1</text><text x="209.0" y="189.8">)</text></g>
<text transform="translate(12.9,91.9) rotate(-90)" text-anchor="middle" font-size="11.85" fill="#111" stroke="#111" stroke-width="0.35">Intensity (arb. units)</text>
<g font-size="24" fill="#111" stroke="#111" stroke-width="0.25"><text x="268.3" y="57.5">(</text><text x="276.6" y="57.5">a</text><text x="290.9" y="57.5">)</text></g>
<rect x="315.7" y="21.10" width="15.7" height="16.25" fill="#0000ee"/><rect x="315.7" y="37.30" width="15.7" height="16.25" fill="#0a80ff"/><rect x="315.7" y="53.50" width="15.7" height="16.25" fill="#00ffff"/><rect x="315.7" y="69.70" width="15.7" height="16.25" fill="#00f080"/><rect x="315.7" y="85.90" width="15.7" height="16.25" fill="#00f000"/><rect x="315.7" y="102.10" width="15.7" height="16.25" fill="#80f000"/><rect x="315.7" y="118.30" width="15.7" height="16.25" fill="#ffff00"/><rect x="315.7" y="134.50" width="15.7" height="16.25" fill="#ff8000"/><rect x="315.7" y="150.70" width="15.7" height="16.25" fill="#ff0000"/>
<g font-size="6.5" fill="#222"><text x="333.6" y="23.80">30.00</text><text x="333.6" y="40.00">4.889</text><text x="333.6" y="56.20">-20.22</text><text x="333.6" y="72.40">-45.33</text><text x="333.6" y="88.60">-70.44</text><text x="333.6" y="104.80">-95.56</text><text x="333.6" y="121.00">-120.7</text><text x="333.6" y="137.20">-145.8</text><text x="333.6" y="153.40">-170.9</text><text x="333.6" y="169.60">-196.0</text></g>
<g stroke="#ececec" stroke-width="0.6"><line x1="43.77" y1="198.8" x2="43.77" y2="339.3"/><line x1="63.94" y1="198.8" x2="63.94" y2="339.3"/><line x1="84.11" y1="198.8" x2="84.11" y2="339.3"/><line x1="104.29" y1="198.8" x2="104.29" y2="339.3"/><line x1="124.46" y1="198.8" x2="124.46" y2="339.3"/><line x1="144.63" y1="198.8" x2="144.63" y2="339.3"/><line x1="164.80" y1="198.8" x2="164.80" y2="339.3"/><line x1="184.97" y1="198.8" x2="184.97" y2="339.3" stroke="#c4c4c4" stroke-width="0.8"/><line x1="205.14" y1="198.8" x2="205.14" y2="339.3"/><line x1="225.31" y1="198.8" x2="225.31" y2="339.3" stroke="#c4c4c4" stroke-width="0.8"/><line x1="245.49" y1="198.8" x2="245.49" y2="339.3"/><line x1="265.66" y1="198.8" x2="265.66" y2="339.3" stroke="#c4c4c4" stroke-width="0.8"/><line x1="285.83" y1="198.8" x2="285.83" y2="339.3"/></g>
<clipPath id="clipb"><rect x="23.6" y="198.8" width="282.4" height="140.5"/></clipPath><g clip-path="url(#clipb)" fill="none" stroke-linejoin="round"><clipPath id="arb"><path d="M23.6 193.8L23.6 333.1 30.0 333.8 31.6 333.7 33.0 333.2 34.2 332.2 35.2 330.9 38.8 324.3 39.4 323.6 40.1 323.4 40.8 323.7 41.6 324.7 44.8 331.4 46.4 333.8 47.4 334.7 48.4 335.3 49.6 335.7 51.4 336.0 57.8 336.6 60.8 336.6 62.0 336.2 63.8 334.6 64.3 334.4 65.0 334.7 66.8 336.4 67.6 336.7 68.8 336.9 108.2 336.9 117.6 336.7 123.0 336.4 125.2 336.0 125.8 335.7 126.4 335.2 127.0 333.8 127.4 331.6 127.8 322.6 128.5 209.4 129.0 315.1 129.4 330.4 129.6 332.2 130.0 334.0 130.4 334.8 131.2 335.5 132.8 335.7 134.8 335.5 136.4 334.8 137.4 333.8 138.2 331.8 138.6 329.1 138.8 324.8 139.0 310.8 139.6 164.3 140.2 303.8 140.4 322.5 140.8 330.5 141.2 332.4 141.6 333.3 142.4 334.4 143.8 335.2 145.6 335.6 148.2 335.8 183.4 335.7 193.0 335.5 194.8 335.2 195.6 334.6 196.2 333.3 197.2 329.5 197.5 329.1 197.8 329.6 199.0 333.9 199.6 334.8 200.4 335.2 202.4 335.4 206.8 335.4 224.2 335.1 227.2 334.7 228.4 334.2 229.0 333.0 229.8 329.5 230.2 328.6 230.4 329.0 231.2 332.3 231.6 333.3 232.0 333.6 232.4 333.7 233.2 333.6 233.8 333.3 234.4 332.6 235.0 331.1 236.0 325.9 236.4 324.6 236.6 324.6 236.8 325.0 237.4 326.8 237.6 327.0 237.8 326.8 238.2 324.8 238.4 322.0 238.8 300.7 239.5 163.2 240.2 302.1 240.6 322.8 241.0 327.6 241.6 330.3 242.1 331.2 242.6 331.8 243.2 332.2 244.2 332.5 247.8 332.8 253.6 332.7 257.4 332.3 260.0 331.6 261.4 330.7 262.0 330.0 262.4 329.1 262.8 327.7 263.2 324.8 263.6 318.4 264.6 281.0 264.9 276.6 265.2 284.7 265.8 310.0 266.2 320.6 266.8 327.5 267.2 329.2 268.0 330.8 269.0 331.8 270.4 332.5 272.4 333.0 275.0 333.4 281.2 333.9 306.0 335.2 306.0 193.8 Z"/></clipPath><g clip-path="url(#arb)" stroke="none" opacity="0.62"><path d="M23.6 307.8 26.6 307.1 28.4 306.1 30.0 304.1 31.6 300.8 33.0 296.6 34.2 291.7 38.6 269.6 39.6 266.5 40.2 265.5 40.6 265.3 41.2 265.7 41.8 266.9 43.2 272.6 48.0 304.5 50.6 317.5 52.0 322.0 53.4 325.0 55.2 327.4 57.6 329.2 61.2 330.8 65.0 331.4 87.2 331.7 107.6 331.5 115.8 330.1 119.2 329.1 121.8 328.0 123.4 326.9 124.6 325.7 127.4 320.9 128.3 320.0 129.0 320.3 131.0 322.7 132.4 323.6 133.2 323.6 134.0 323.4 135.4 322.1 136.6 319.9 137.6 316.4 138.2 312.1 138.4 308.5 138.8 268.4 139.3 144.9 139.8 274.6 140.2 308.1 140.6 312.7 141.4 316.5 142.6 320.0 144.2 322.6 145.6 323.8 147.2 324.5 149.2 325.0 152.0 325.2 179.0 324.6 188.0 324.0 190.4 323.5 192.0 322.5 193.2 320.9 195.2 316.7 196.1 315.9 196.6 316.1 197.0 316.7 199.6 321.4 200.6 322.3 202.0 322.8 206.2 323.0 216.2 322.6 222.0 322.1 225.8 321.4 227.8 320.3 228.6 318.9 230.2 307.8 231.6 316.7 232.0 317.3 232.4 317.3 233.2 316.7 233.8 315.9 234.4 314.4 235.0 311.4 236.4 299.2 236.6 299.1 236.8 299.9 237.8 305.1 238.0 305.5 238.4 305.3 239.2 302.9 241.2 293.7 241.6 292.6 242.1 292.0 242.6 292.5 243.0 293.6 246.2 306.5 247.2 309.0 248.2 310.5 250.0 312.0 252.6 312.7 255.6 312.5 257.0 311.9 258.0 311.2 259.6 309.2 261.0 305.5 262.2 299.9 264.0 289.1 264.4 287.5 264.8 287.0 265.2 287.4 265.6 288.9 267.8 302.7 269.0 308.2 270.6 312.4 272.6 315.0 274.4 316.4 276.6 317.6 283.2 320.2 292.8 322.7 306.0 325.6 L306.0 341.3 L23.6 341.3 Z" fill="#0000f0"/><path d="M23.6 308.3 26.6 307.7 28.4 306.7 30.0 304.8 31.6 301.6 33.0 297.5 34.2 292.7 38.6 270.9 39.6 267.8 40.2 266.9 40.6 266.7 41.2 267.2 41.8 268.4 43.2 274.1 48.0 305.5 49.4 313.1 50.6 318.1 52.0 322.5 53.4 325.3 55.4 327.8 57.8 329.5 61.6 331.1 65.4 331.5 89.2 331.8 104.4 331.8 108.0 331.6 116.2 330.2 119.4 329.2 121.8 328.2 123.4 327.1 124.6 325.9 127.4 321.2 128.3 320.3 129.0 320.5 131.0 322.9 132.4 323.8 133.2 323.9 134.0 323.6 135.6 322.1 136.8 319.6 137.6 316.7 138.2 312.5 138.4 308.9 138.8 269.4 139.3 145.2 139.8 274.4 140.2 308.4 140.6 313.0 141.4 316.8 142.6 320.3 144.2 322.9 145.6 324.0 147.2 324.7 149.4 325.2 152.2 325.4 179.4 324.8 188.2 324.2 190.6 323.6 192.2 322.5 193.4 320.6 195.2 316.5 196.1 315.6 196.8 316.2 198.6 320.0 199.6 321.6 200.6 322.5 202.0 323.0 206.4 323.2 216.4 322.8 222.2 322.3 226.0 321.5 227.8 320.5 228.6 319.1 230.2 307.9 231.6 316.9 232.0 317.5 232.4 317.5 233.2 316.9 233.8 316.1 234.4 314.6 235.0 311.5 236.4 299.0 236.6 299.0 236.8 299.7 237.8 305.1 238.0 305.5 238.4 305.3 239.2 302.8 241.2 293.2 241.6 292.0 242.1 291.4 242.6 291.9 243.0 293.1 246.0 306.0 246.8 308.3 247.8 310.2 249.2 311.8 251.0 312.7 253.4 313.0 255.8 312.7 257.4 312.0 258.6 311.0 259.6 309.5 260.4 307.7 262.0 301.2 264.0 288.8 264.4 287.2 264.9 286.5 265.2 287.0 265.6 288.6 267.6 301.7 268.8 307.7 270.4 312.2 272.4 315.0 274.2 316.4 276.4 317.7 283.0 320.2 292.4 322.7 306.0 325.7 L306.0 341.3 L23.6 341.3 Z" fill="#0018f3"/><path d="M23.6 308.8 26.6 308.2 28.4 307.3 30.0 305.5 31.6 302.4 33.0 298.4 34.2 293.6 38.6 272.2 39.6 269.2 40.2 268.3 40.6 268.1 41.2 268.6 41.8 269.8 43.0 274.5 48.0 306.5 49.4 313.8 50.6 318.7 52.0 322.9 53.4 325.6 55.2 327.8 57.6 329.6 61.2 331.1 64.8 331.6 88.4 331.9 104.4 331.9 108.0 331.7 116.2 330.3 119.4 329.4 121.8 328.4 123.4 327.3 124.6 326.1 127.4 321.5 128.3 320.6 129.0 320.8 131.0 323.2 132.4 324.0 134.0 323.9 135.6 322.4 136.8 319.9 137.6 317.0 138.2 312.8 138.4 309.3 138.8 270.3 139.3 145.6 139.8 274.2 140.2 308.7 140.6 313.3 141.4 317.1 142.6 320.6 144.2 323.1 145.6 324.2 147.2 324.9 149.4 325.4 152.2 325.6 179.6 325.0 188.4 324.4 190.8 323.8 192.2 322.7 193.4 320.7 195.4 316.0 196.1 315.3 196.8 316.0 199.4 321.5 200.4 322.6 201.8 323.2 206.0 323.4 216.2 323.0 222.2 322.5 226.0 321.8 227.8 320.8 228.6 319.3 230.2 308.0 231.6 317.1 232.0 317.7 232.4 317.7 233.2 317.1 233.8 316.3 234.4 314.7 235.0 311.5 236.4 298.8 236.6 298.8 236.8 299.6 237.8 305.1 238.0 305.5 238.4 305.3 239.2 302.7 241.2 292.6 241.6 291.4 242.1 290.8 242.6 291.3 243.0 292.6 246.0 306.1 246.8 308.4 247.8 310.4 249.2 312.0 251.0 313.0 253.4 313.3 256.0 312.9 257.6 312.2 258.8 311.0 259.8 309.4 260.6 307.4 262.0 301.4 264.0 288.5 264.4 286.8 264.9 286.1 265.2 286.7 265.6 288.3 267.6 301.9 268.8 307.9 270.4 312.5 272.4 315.2 274.2 316.6 276.4 317.8 282.8 320.3 292.0 322.7 306.0 325.8 L306.0 341.3 L23.6 341.3 Z" fill="#0030f6"/><path d="M23.6 309.3 26.6 308.8 28.4 307.9 30.0 306.2 31.6 303.2 33.0 299.2 34.2 294.6 38.6 273.4 39.6 270.5 40.2 269.7 40.6 269.5 41.2 270.0 41.8 271.3 43.0 276.0 47.8 306.3 49.2 313.6 50.4 318.6 51.8 322.8 53.2 325.6 55.0 327.8 57.6 329.7 61.2 331.2 64.6 331.7 88.2 332.0 108.0 331.8 116.2 330.4 119.4 329.6 121.8 328.6 123.4 327.5 124.6 326.3 127.4 321.7 128.3 320.9 129.0 321.1 131.0 323.4 132.4 324.3 134.0 324.1 135.6 322.6 136.8 320.2 137.6 317.3 138.2 313.2 138.4 309.7 138.8 271.3 139.3 146.0 139.8 274.0 140.2 309.0 140.6 313.7 141.4 317.5 142.6 320.8 144.2 323.3 145.6 324.4 147.2 325.1 149.4 325.6 152.2 325.8 179.6 325.2 188.6 324.5 191.0 323.9 192.4 322.6 193.4 320.9 195.4 315.8 196.1 315.1 196.8 315.8 199.4 321.7 200.4 322.8 201.8 323.4 206.0 323.6 216.2 323.2 222.2 322.7 226.0 322.0 227.8 321.0 228.6 319.5 230.2 308.2 231.6 317.3 232.0 317.9 232.4 317.9 233.2 317.3 233.8 316.5 234.4 314.9 235.0 311.6 236.4 298.6 236.6 298.6 236.8 299.4 237.8 305.2 238.0 305.5 238.4 305.4 239.2 302.7 241.2 292.1 241.6 290.8 242.1 290.1 242.6 290.8 243.0 292.1 245.8 305.6 246.8 308.6 247.8 310.7 249.2 312.3 251.0 313.2 253.4 313.6 256.0 313.2 257.6 312.5 258.8 311.4 259.8 309.8 260.6 307.8 262.0 301.7 264.0 288.2 264.4 286.4 264.9 285.7 265.2 286.3 265.6 288.0 267.6 302.1 268.8 308.2 270.2 312.3 271.2 314.1 272.2 315.2 273.8 316.5 276.0 317.8 282.6 320.3 291.6 322.7 306.0 325.8 L306.0 341.3 L23.6 341.3 Z" fill="#0047f8"/><path d="M23.6 309.9 26.6 309.3 28.4 308.5 30.0 306.9 31.6 304.0 32.8 300.8 34.0 296.4 38.6 274.7 39.6 271.9 40.2 271.1 40.6 270.9 41.2 271.4 41.8 272.7 43.0 277.4 47.8 307.2 49.2 314.4 50.4 319.1 51.8 323.2 53.2 325.9 55.0 328.0 57.6 329.8 61.2 331.3 64.6 331.8 88.2 332.1 108.0 331.9 116.2 330.6 119.4 329.7 121.8 328.7 123.4 327.7 124.6 326.5 127.4 322.0 128.3 321.2 129.0 321.4 131.0 323.6 132.4 324.5 134.0 324.3 135.6 322.9 136.8 320.5 137.6 317.6 138.2 313.5 138.4 310.1 138.8 272.2 139.3 146.3 139.8 273.8 140.2 309.3 140.6 314.0 141.4 317.8 142.6 321.1 144.2 323.5 145.6 324.7 147.2 325.3 149.4 325.8 152.2 326.0 179.8 325.4 188.8 324.7 191.0 324.1 192.4 322.9 193.6 320.6 195.4 315.6 196.1 314.8 196.8 315.6 198.4 319.9 199.4 321.9 200.4 323.0 201.6 323.6 205.6 323.8 215.8 323.5 222.0 323.0 226.0 322.2 227.8 321.2 228.6 319.8 230.2 308.3 231.6 317.5 232.0 318.1 232.4 318.1 233.2 317.5 233.8 316.7 234.4 315.1 235.0 311.8 236.4 298.5 236.6 298.5 236.8 299.3 237.8 305.2 238.0 305.6 238.4 305.4 239.2 302.6 241.2 291.6 241.6 290.2 242.1 289.5 242.6 290.2 243.0 291.6 245.8 305.7 246.6 308.3 247.6 310.6 249.0 312.4 250.8 313.4 253.4 313.9 256.0 313.5 257.6 312.8 258.8 311.7 259.8 310.1 260.6 308.1 262.0 301.9 264.2 286.9 264.9 285.3 265.2 285.9 265.6 287.7 267.6 302.3 268.8 308.5 270.2 312.6 271.2 314.3 272.2 315.5 273.8 316.7 276.0 318.0 282.4 320.4 291.0 322.6 306.0 325.9 L306.0 341.3 L23.6 341.3 Z" fill="#005ffb"/><path d="M23.6 310.4 26.8 309.8 28.6 309.0 30.2 307.3 31.6 304.8 32.8 301.6 34.0 297.3 38.6 276.0 39.6 273.2 40.2 272.5 40.6 272.4 41.2 272.9 41.8 274.2 43.0 278.9 47.8 308.2 49.2 315.1 50.4 319.7 51.8 323.6 53.4 326.5 55.4 328.5 57.8 330.1 61.4 331.5 64.8 331.9 89.4 332.2 108.2 332.0 116.4 330.7 119.6 329.8 122.0 328.8 123.4 327.9 124.6 326.8 127.4 322.3 128.3 321.4 129.0 321.6 131.0 323.9 132.4 324.7 134.0 324.6 135.6 323.1 136.8 320.7 137.6 318.0 138.2 313.9 138.4 310.5 138.8 273.1 139.3 146.7 139.8 273.6 140.2 309.6 140.6 314.3 141.4 318.1 142.6 321.4 144.2 323.8 145.6 324.9 147.2 325.5 149.4 326.0 152.4 326.2 180.2 325.5 189.0 324.9 191.0 324.3 192.4 323.1 193.6 320.7 195.4 315.4 196.1 314.6 196.8 315.4 199.2 321.8 200.2 323.1 201.6 323.8 205.8 324.0 216.2 323.7 222.4 323.2 226.2 322.4 227.8 321.5 228.6 320.0 230.2 308.4 231.2 315.9 231.8 318.1 232.2 318.4 232.8 318.1 234.0 316.4 235.0 311.9 236.4 298.3 236.6 298.3 236.8 299.2 237.8 305.2 238.0 305.6 238.4 305.5 239.2 302.6 241.2 291.1 241.6 289.6 242.1 288.9 242.6 289.6 243.0 291.1 245.8 305.8 246.6 308.5 247.6 310.8 249.0 312.6 251.0 313.8 253.6 314.2 256.2 313.8 257.8 313.0 259.0 311.8 260.0 310.1 260.8 307.8 262.2 301.0 264.2 286.6 264.9 284.9 265.2 285.5 265.6 287.4 267.4 301.2 268.6 307.9 270.0 312.4 271.0 314.3 272.0 315.5 273.6 316.8 275.6 317.9 282.0 320.4 290.4 322.6 306.0 326.0 L306.0 341.3 L23.6 341.3 Z" fill="#0077fe"/><path d="M23.6 310.9 26.8 310.4 28.6 309.6 30.2 308.0 31.6 305.6 32.8 302.5 34.0 298.2 38.6 277.4 39.6 274.7 40.2 273.9 40.6 273.8 41.2 274.4 41.8 275.7 43.0 280.4 47.6 308.1 49.0 315.0 50.2 319.6 51.6 323.6 53.2 326.5 55.2 328.6 57.8 330.2 61.4 331.6 64.8 332.0 90.2 332.3 108.4 332.1 116.6 330.8 119.8 329.9 122.0 329.0 123.4 328.1 124.6 327.0 127.4 322.5 128.3 321.7 129.0 321.9 131.0 324.1 132.4 325.0 134.0 324.8 135.6 323.4 137.0 320.5 138.0 316.0 138.4 311.0 138.6 301.5 139.3 147.0 139.8 273.4 140.2 309.9 140.6 314.6 141.4 318.4 142.6 321.6 144.2 324.0 145.6 325.1 147.2 325.7 149.4 326.2 152.4 326.3 180.4 325.7 189.2 325.0 191.2 324.4 192.6 323.0 193.6 320.9 195.4 315.2 196.1 314.3 196.8 315.3 199.2 322.0 200.2 323.3 201.4 324.0 205.4 324.3 215.8 323.9 222.4 323.4 226.2 322.6 227.8 321.7 228.6 320.2 230.2 308.6 231.2 316.1 231.8 318.3 232.2 318.6 232.8 318.3 234.0 316.6 235.0 312.0 236.4 298.1 236.6 298.2 236.8 299.1 237.8 305.3 238.0 305.7 238.4 305.6 239.4 301.5 241.2 290.6 241.6 289.0 242.1 288.3 242.6 289.1 243.0 290.7 245.8 306.0 246.6 308.7 247.6 311.1 249.0 312.9 251.0 314.0 253.6 314.4 256.2 314.1 257.8 313.3 259.0 312.1 260.0 310.4 260.8 308.2 262.2 301.2 264.2 286.3 264.9 284.5 265.2 285.1 265.6 287.1 267.4 301.4 268.6 308.3 270.0 312.7 270.8 314.2 272.0 315.7 273.6 317.0 275.6 318.1 281.8 320.4 289.8 322.5 306.0 326.0 L306.0 341.3 L23.6 341.3 Z" fill="#008cfd"/><path d="M23.6 311.4 26.8 310.9 28.6 310.2 30.2 308.7 31.6 306.4 32.8 303.4 34.0 299.2 38.6 278.8 39.6 276.1 40.2 275.4 40.6 275.4 41.0 275.7 41.6 276.7 42.8 281.0 47.6 309.0 49.0 315.7 50.2 320.2 51.6 324.0 53.2 326.8 55.2 328.7 57.8 330.4 61.2 331.7 64.4 332.1 89.6 332.4 108.4 332.2 116.6 330.9 119.8 330.1 122.0 329.2 123.4 328.3 124.6 327.2 127.4 322.8 128.3 322.0 129.0 322.2 131.0 324.4 132.4 325.2 134.0 325.0 135.6 323.6 137.0 320.8 138.0 316.3 138.4 311.4 138.6 302.1 139.3 147.4 139.8 273.2 140.2 310.1 140.6 315.0 141.4 318.7 142.6 321.9 144.0 324.0 145.4 325.2 147.0 325.9 149.2 326.3 152.2 326.5 180.4 325.9 185.8 325.6 189.4 325.2 191.4 324.5 192.6 323.3 193.6 321.1 195.4 315.0 196.1 314.0 196.8 315.1 198.4 320.4 199.2 322.3 200.2 323.6 201.4 324.2 205.6 324.5 216.0 324.2 222.4 323.6 226.2 322.9 227.8 321.9 228.6 320.4 230.2 308.7 231.2 316.3 231.8 318.5 232.2 318.8 232.8 318.5 234.0 316.8 235.0 312.1 236.4 298.0 236.6 298.0 236.8 298.9 237.8 305.4 238.0 305.8 238.4 305.7 239.4 301.5 241.2 290.1 241.6 288.4 242.1 287.7 242.6 288.5 243.0 290.2 245.8 306.2 246.6 309.0 247.6 311.3 249.0 313.1 251.0 314.3 253.6 314.7 256.2 314.4 257.8 313.6 259.0 312.5 260.0 310.8 260.8 308.5 262.2 301.5 264.2 286.0 264.9 284.1 265.2 284.7 265.6 286.8 267.4 301.6 268.6 308.6 270.0 313.0 271.8 315.7 273.4 317.1 275.4 318.2 281.4 320.5 288.8 322.3 306.0 326.1 L306.0 341.3 L23.6 341.3 Z" fill="#009ffa"/><path d="M23.6 311.9 26.8 311.5 28.6 310.8 30.2 309.4 31.6 307.2 32.8 304.2 34.0 300.2 38.4 280.9 39.4 278.0 40.0 277.1 40.4 276.9 41.0 277.2 41.6 278.3 42.8 282.6 47.6 310.0 49.0 316.5 50.2 320.8 51.6 324.4 53.2 327.0 55.2 328.9 57.8 330.5 61.2 331.8 64.3 332.3 90.4 332.5 108.6 332.2 116.8 331.0 119.8 330.3 122.0 329.4 123.4 328.5 124.6 327.4 127.4 323.1 128.3 322.3 129.0 322.5 131.0 324.6 132.4 325.4 134.0 325.3 135.6 323.9 137.0 321.0 138.0 316.7 138.4 311.8 138.6 302.6 139.3 147.8 139.8 272.9 140.2 310.4 140.6 315.3 141.2 318.3 142.4 321.7 144.0 324.2 145.4 325.4 147.0 326.1 149.2 326.5 152.2 326.7 180.6 326.1 186.0 325.8 189.6 325.4 191.6 324.6 192.8 323.2 193.8 320.6 195.4 314.8 196.1 313.8 196.4 314.0 196.8 314.9 199.0 322.1 200.0 323.6 201.2 324.3 205.2 324.7 215.6 324.4 222.2 323.9 226.2 323.1 227.8 322.1 228.6 320.6 230.2 308.9 231.2 316.5 231.8 318.7 232.2 319.0 232.8 318.7 234.0 317.0 235.0 312.2 236.4 297.9 236.6 297.9 236.8 298.9 237.8 305.5 238.0 305.9 238.4 305.8 239.4 301.5 241.2 289.6 241.6 287.9 242.1 287.0 242.6 288.0 243.0 289.7 245.6 305.5 246.4 308.6 247.4 311.2 248.8 313.2 250.8 314.5 253.6 315.0 256.4 314.6 257.8 313.9 259.0 312.8 260.0 311.2 260.8 308.9 262.2 301.8 264.2 285.7 264.9 283.7 265.2 284.3 265.6 286.5 267.4 301.9 268.4 308.0 269.8 312.9 270.6 314.4 271.8 316.0 273.2 317.1 275.2 318.3 281.2 320.5 288.2 322.3 306.0 326.2 L306.0 341.3 L23.6 341.3 Z" fill="#00b2f8"/><path d="M23.6 312.4 26.8 312.0 28.6 311.4 30.2 310.1 31.6 307.9 32.8 305.1 34.0 301.1 38.4 282.2 39.4 279.5 40.0 278.6 40.4 278.4 41.0 278.8 41.6 279.9 42.8 284.1 47.6 311.0 48.8 316.4 50.2 321.3 51.6 324.7 53.2 327.3 55.2 329.1 58.0 330.7 61.6 332.0 64.8 332.4 92.4 332.6 104.6 332.6 109.0 332.3 116.8 331.2 119.8 330.4 122.0 329.6 123.4 328.7 124.6 327.6 127.4 323.4 128.3 322.6 129.2 322.9 131.4 325.2 132.6 325.7 134.2 325.4 135.8 323.8 137.2 320.7 138.0 317.0 138.4 312.2 138.6 303.2 139.3 148.1 139.8 272.7 140.2 310.7 140.6 315.6 141.2 318.6 142.4 322.0 144.0 324.5 145.4 325.6 147.0 326.3 149.2 326.7 152.2 326.9 180.8 326.3 186.2 326.0 189.6 325.6 191.6 324.8 192.8 323.4 193.8 320.8 195.4 314.7 196.1 313.5 196.4 313.8 196.8 314.8 199.0 322.4 200.0 323.9 201.2 324.6 205.2 324.9 215.6 324.6 222.2 324.1 226.2 323.3 227.8 322.4 228.6 320.9 230.2 309.0 231.2 316.7 231.8 319.0 232.2 319.2 232.8 319.0 234.0 317.2 234.6 315.0 235.0 312.3 236.4 297.7 236.6 297.8 236.8 298.8 237.8 305.6 238.0 306.1 238.2 306.2 238.4 305.9 239.4 301.6 241.2 289.1 241.6 287.3 242.1 286.4 242.6 287.4 243.0 289.3 245.6 305.7 246.4 308.9 247.4 311.5 248.8 313.5 250.8 314.8 253.6 315.3 256.4 314.9 258.0 314.1 259.2 312.9 260.2 311.1 261.0 308.6 262.2 302.2 264.2 285.4 264.9 283.2 265.2 284.0 265.6 286.3 267.2 300.6 268.4 308.3 269.8 313.2 270.6 314.7 271.6 316.0 273.0 317.2 275.0 318.4 280.8 320.5 287.2 322.2 306.0 326.2 L306.0 341.3 L23.6 341.3 Z" fill="#00c5f5"/><path d="M23.6 312.9 26.8 312.6 28.6 312.0 30.2 310.8 31.6 308.7 32.8 305.9 34.0 302.0 38.4 283.6 39.4 280.9 40.0 280.1 40.4 279.9 40.8 280.1 41.4 281.0 42.6 284.8 47.6 311.9 48.8 317.1 50.2 321.8 51.6 325.1 53.2 327.5 55.2 329.3 58.2 331.0 61.6 332.2 65.0 332.5 93.4 332.7 104.8 332.7 109.2 332.4 117.0 331.3 119.8 330.6 122.0 329.7 123.4 328.9 124.6 327.8 127.4 323.6 128.3 322.8 129.2 323.2 131.4 325.4 132.6 325.9 134.2 325.6 135.8 324.1 137.2 321.0 138.0 317.4 138.4 312.6 138.6 303.7 139.3 148.5 139.8 272.5 140.2 311.0 140.6 316.0 141.2 318.9 142.4 322.3 144.0 324.7 145.4 325.8 147.0 326.5 149.2 326.9 152.2 327.1 181.0 326.5 186.4 326.2 189.8 325.7 191.8 324.9 193.0 323.3 194.0 320.3 195.4 314.5 196.1 313.3 196.4 313.6 196.8 314.7 198.2 320.3 199.0 322.6 199.8 323.9 201.0 324.7 205.0 325.1 215.6 324.9 222.6 324.3 226.4 323.5 227.8 322.6 228.6 321.1 230.2 309.1 231.2 316.9 231.8 319.2 232.2 319.5 232.8 319.2 234.0 317.4 234.6 315.2 235.0 312.5 236.4 297.6 236.6 297.7 236.8 298.7 237.8 305.7 238.0 306.2 238.2 306.3 238.4 306.1 239.4 301.6 241.2 288.7 241.6 286.7 242.1 285.8 242.6 286.8 243.0 288.9 245.6 305.9 246.4 309.1 247.4 311.8 249.0 314.0 251.0 315.2 253.8 315.6 256.6 315.2 258.0 314.5 259.2 313.3 260.2 311.5 261.0 309.0 262.4 301.0 264.2 285.1 264.9 282.8 265.2 283.6 265.6 286.0 267.2 300.8 268.4 308.7 269.8 313.5 270.6 315.0 271.6 316.3 273.0 317.4 275.0 318.6 280.6 320.6 286.6 322.1 306.0 326.3 L306.0 341.3 L23.6 341.3 Z" fill="#00d8f2"/><path d="M23.6 313.4 27.0 313.1 28.8 312.5 30.2 311.4 31.6 309.4 32.8 306.7 34.0 302.9 38.4 284.8 39.4 282.2 40.0 281.4 40.4 281.2 40.8 281.4 41.4 282.3 42.6 286.1 47.4 311.8 48.6 317.1 50.0 321.8 51.6 325.5 53.2 327.8 55.2 329.5 58.2 331.1 61.6 332.3 64.8 332.6 93.8 332.8 104.8 332.8 109.4 332.5 117.2 331.4 120.0 330.7 122.2 329.8 124.6 328.0 127.4 323.9 128.3 323.1 129.2 323.5 131.4 325.7 132.6 326.2 134.2 325.9 135.8 324.4 137.2 321.3 138.0 317.7 138.4 313.0 138.6 304.3 139.3 148.8 139.8 272.2 140.2 311.3 140.6 316.3 141.2 319.2 142.4 322.6 144.0 324.9 145.4 326.0 147.0 326.7 149.2 327.1 152.4 327.3 181.2 326.7 186.6 326.4 190.0 325.9 191.8 325.2 193.0 323.6 194.0 320.6 195.4 314.3 196.1 313.0 196.4 313.3 196.8 314.5 198.8 322.5 199.8 324.2 201.0 325.0 205.2 325.4 215.8 325.1 222.6 324.5 226.4 323.7 227.8 322.9 228.6 321.3 230.2 309.3 231.2 317.1 231.8 319.4 232.2 319.7 232.8 319.4 234.0 317.7 234.6 315.4 235.0 312.6 236.4 297.5 236.6 297.6 236.8 298.6 237.8 305.9 238.0 306.4 238.2 306.5 238.4 306.2 239.4 301.7 241.4 287.0 242.1 285.1 242.6 286.2 243.0 288.4 245.6 306.2 246.4 309.4 247.4 312.1 249.0 314.3 251.0 315.5 253.8 316.0 256.6 315.5 258.0 314.8 259.2 313.7 260.2 311.9 261.0 309.4 262.4 301.4 264.2 284.8 264.9 282.4 265.2 283.2 265.6 285.8 267.2 301.2 268.2 308.0 269.6 313.3 270.4 315.0 271.4 316.3 272.8 317.6 274.6 318.6 280.2 320.7 285.8 322.1 306.0 326.4 L306.0 341.3 L23.6 341.3 Z" fill="#00e6eb"/><path d="M23.6 314.0 27.0 313.7 28.8 313.1 30.4 311.9 31.8 309.8 33.0 306.9 34.2 302.9 38.4 285.4 39.4 282.7 40.0 281.9 40.4 281.8 40.8 281.9 41.4 282.9 42.6 286.7 47.4 312.4 48.6 317.6 50.0 322.2 51.4 325.5 53.0 327.8 55.0 329.5 58.0 331.2 61.4 332.4 64.4 332.8 93.4 333.0 104.8 332.9 109.4 332.7 117.2 331.6 120.0 330.9 122.2 330.0 124.6 328.3 127.4 324.2 128.3 323.4 129.2 323.8 131.4 326.0 132.6 326.4 134.2 326.2 135.8 324.7 137.2 321.7 138.0 318.1 138.4 313.4 138.6 304.9 139.3 149.2 139.8 272.0 140.2 311.6 140.6 316.7 141.2 319.6 142.4 322.9 143.8 325.0 145.2 326.2 146.8 326.9 149.0 327.3 152.0 327.5 181.4 327.0 186.8 326.6 190.2 326.1 192.0 325.3 193.0 323.9 194.0 320.8 195.4 314.1 196.1 312.6 196.6 313.5 198.8 322.8 199.6 324.3 200.8 325.2 204.8 325.7 215.2 325.4 222.4 324.9 226.4 324.0 227.8 323.1 228.6 321.6 230.2 309.5 231.2 317.4 231.8 319.7 232.2 320.0 232.8 319.7 234.0 317.9 234.6 315.7 235.0 312.8 236.4 297.5 236.6 297.6 236.8 298.6 237.8 306.1 238.0 306.6 238.2 306.7 238.4 306.4 239.4 301.7 241.4 286.3 242.1 284.3 242.4 284.8 242.8 286.5 245.4 305.4 246.2 309.0 247.2 312.0 248.8 314.5 250.8 315.8 253.6 316.4 256.6 315.9 258.2 315.1 259.4 313.8 260.4 311.9 261.2 309.1 262.4 301.8 264.2 284.5 264.9 281.9 265.2 282.8 265.6 285.5 267.2 301.5 268.2 308.5 269.6 313.8 270.4 315.4 271.4 316.7 272.8 317.9 274.6 319.0 280.2 321.0 285.8 322.4 306.0 326.6 L306.0 341.3 L23.6 341.3 Z" fill="#00e8d6"/><path d="M23.6 314.6 27.0 314.3 28.8 313.8 30.4 312.6 31.8 310.5 33.0 307.6 34.2 303.7 38.6 285.3 39.6 282.9 40.4 282.3 40.8 282.5 41.4 283.4 42.6 287.3 47.2 312.1 48.4 317.4 49.8 322.1 51.4 325.8 53.0 328.1 55.0 329.8 58.0 331.4 61.4 332.5 64.3 332.9 93.4 333.1 104.8 333.1 109.4 332.8 117.2 331.8 120.0 331.1 122.2 330.2 124.6 328.5 127.4 324.5 128.3 323.7 129.2 324.0 131.4 326.2 132.6 326.7 134.2 326.4 135.8 325.0 137.2 322.0 138.0 318.5 138.4 313.9 138.6 305.5 139.3 149.6 139.8 271.8 140.2 311.9 140.6 317.0 141.2 319.9 142.4 323.2 143.8 325.3 145.2 326.5 146.8 327.1 149.0 327.6 152.0 327.8 181.4 327.2 186.8 326.9 190.2 326.4 192.0 325.6 193.2 323.8 194.0 321.0 195.4 313.9 196.1 312.2 196.6 313.3 198.0 320.2 198.8 323.1 199.6 324.7 200.8 325.5 204.8 325.9 215.2 325.7 222.4 325.1 226.4 324.3 227.8 323.4 228.6 321.9 230.2 309.7 231.2 317.6 231.8 320.0 232.2 320.3 232.8 320.0 234.0 318.2 234.6 315.9 235.0 313.1 236.4 297.4 236.6 297.5 236.8 298.6 237.8 306.3 238.0 306.8 238.2 306.9 238.4 306.7 239.4 301.8 241.4 285.6 242.1 283.4 242.4 284.0 242.8 285.8 245.4 305.6 246.2 309.4 247.2 312.4 248.8 314.9 250.8 316.2 253.8 316.8 256.8 316.3 258.4 315.4 259.6 314.0 260.4 312.3 261.2 309.6 262.4 302.2 264.2 284.2 264.9 281.5 265.2 282.4 265.6 285.3 267.2 301.9 268.2 309.0 269.4 313.7 270.2 315.5 271.2 316.9 272.6 318.2 274.4 319.3 279.8 321.2 285.6 322.6 306.0 326.8 L306.0 341.3 L23.6 341.3 Z" fill="#00eac1"/><path d="M23.6 315.1 27.0 314.9 28.8 314.4 30.4 313.3 31.8 311.2 33.0 308.4 34.2 304.4 38.6 285.9 39.6 283.4 40.4 282.8 40.8 283.0 41.4 284.0 42.6 287.9 47.2 312.8 48.4 318.0 49.8 322.6 51.2 325.8 52.8 328.2 54.8 329.8 57.8 331.4 61.0 332.6 64.0 333.0 92.2 333.3 109.2 333.0 117.0 332.0 119.8 331.3 122.0 330.5 124.6 328.7 127.4 324.7 128.3 324.0 129.2 324.3 131.4 326.5 132.6 327.0 134.2 326.7 135.8 325.3 137.2 322.3 138.0 318.8 138.4 314.3 138.6 306.1 139.3 150.0 139.8 271.6 140.2 312.3 140.6 317.4 141.2 320.3 142.4 323.5 143.8 325.6 145.2 326.7 146.8 327.4 149.0 327.8 152.0 328.0 181.6 327.5 187.0 327.2 190.4 326.6 192.2 325.8 193.2 324.1 194.0 321.3 195.6 312.8 196.1 311.9 196.6 313.0 198.6 322.9 199.4 324.7 200.6 325.7 202.0 326.1 204.6 326.2 215.2 326.0 222.6 325.4 226.6 324.5 228.0 323.5 228.6 322.2 230.2 309.9 231.2 317.9 231.8 320.3 232.2 320.6 232.8 320.3 234.0 318.5 234.6 316.2 235.0 313.3 236.4 297.4 236.8 298.7 237.8 306.5 238.0 307.0 238.2 307.2 238.4 306.9 239.4 301.9 241.4 284.8 242.1 282.6 242.4 283.2 242.8 285.2 245.4 305.9 246.2 309.7 247.2 312.8 248.6 315.0 249.6 315.9 250.8 316.6 253.8 317.1 256.8 316.7 258.4 315.8 259.6 314.4 260.4 312.8 261.2 310.1 262.4 302.6 264.2 284.0 264.9 281.0 265.4 283.3 267.2 302.3 268.2 309.5 269.4 314.2 270.2 316.0 271.2 317.3 272.6 318.6 274.4 319.6 279.8 321.5 285.6 322.9 306.0 327.0 L306.0 341.3 L23.6 341.3 Z" fill="#00ecac"/><path d="M23.6 315.7 27.0 315.5 28.8 315.1 30.4 313.9 31.8 311.9 33.0 309.1 34.2 305.2 38.6 286.5 39.6 284.0 40.4 283.3 40.8 283.6 41.4 284.5 42.6 288.5 47.0 312.4 48.2 317.8 49.6 322.5 51.0 325.8 52.6 328.2 54.6 329.9 57.6 331.5 61.0 332.8 64.0 333.2 92.2 333.4 109.2 333.1 117.0 332.1 119.8 331.5 122.0 330.7 124.6 328.9 127.4 325.0 128.3 324.3 129.2 324.6 131.4 326.7 132.6 327.2 134.2 327.0 135.8 325.5 137.2 322.7 138.0 319.2 138.4 314.7 138.6 306.6 139.3 150.5 139.8 271.4 140.2 312.6 140.6 317.8 141.2 320.7 142.4 323.8 143.8 325.9 145.2 327.0 146.8 327.7 149.0 328.1 152.2 328.3 182.0 327.7 187.4 327.4 190.6 326.9 191.6 326.5 192.4 325.9 193.4 323.9 194.2 320.7 195.6 312.5 196.1 311.5 196.6 312.8 198.6 323.3 199.4 325.1 200.6 326.1 202.2 326.4 204.6 326.5 215.4 326.3 222.8 325.7 226.6 324.8 228.0 323.8 228.6 322.5 230.2 310.1 231.2 318.2 231.8 320.6 232.2 320.9 232.8 320.6 234.0 318.8 234.6 316.5 235.0 313.5 236.4 297.4 236.8 298.7 237.8 306.7 238.0 307.3 238.2 307.4 238.4 307.2 239.5 301.3 241.4 284.1 242.1 281.8 242.4 282.4 242.8 284.5 245.4 306.2 246.2 310.1 247.2 313.2 248.6 315.4 249.6 316.3 250.8 316.9 253.8 317.5 256.8 317.1 258.4 316.2 259.6 314.9 260.4 313.3 261.2 310.7 262.4 303.1 264.2 283.7 264.9 280.6 265.4 283.0 267.0 300.9 268.0 308.9 269.2 314.2 270.0 316.1 271.0 317.5 272.4 318.8 274.0 319.8 279.4 321.7 285.6 323.2 306.0 327.1 L306.0 341.3 L23.6 341.3 Z" fill="#00ee97"/><path d="M23.6 316.3 27.2 316.1 29.0 315.6 30.6 314.4 32.0 312.2 33.2 309.3 34.4 305.2 38.6 287.0 39.6 284.5 40.4 283.9 40.8 284.1 41.4 285.1 42.4 288.3 47.0 313.1 48.2 318.4 49.6 323.0 51.0 326.2 52.6 328.5 54.6 330.2 57.6 331.7 61.0 332.9 64.0 333.3 92.8 333.6 109.4 333.3 117.2 332.3 120.0 331.6 122.2 330.8 124.6 329.2 127.4 325.3 128.3 324.6 129.2 324.9 131.4 327.0 132.6 327.5 133.6 327.4 134.4 327.1 136.0 325.6 137.2 323.0 138.0 319.6 138.4 315.2 138.6 307.2 139.3 150.9 139.8 271.1 140.2 312.9 140.6 318.2 141.2 321.0 142.4 324.2 143.8 326.2 145.2 327.3 146.8 327.9 149.0 328.3 152.2 328.5 182.4 328.0 187.6 327.6 190.8 327.1 192.4 326.2 193.4 324.3 194.2 321.0 195.6 312.3 196.1 311.1 196.6 312.5 197.8 320.1 198.6 323.7 199.4 325.4 200.4 326.3 201.8 326.7 204.2 326.8 214.8 326.6 222.6 326.0 226.6 325.1 228.0 324.1 228.6 322.7 230.2 310.3 231.2 318.5 231.8 320.9 232.2 321.2 232.8 320.9 234.0 319.1 234.6 316.7 235.0 313.7 236.4 297.4 236.8 298.7 237.8 307.0 238.0 307.6 238.2 307.7 238.4 307.5 239.5 301.5 241.4 283.5 242.1 280.9 242.4 281.6 242.8 283.9 245.2 305.3 246.0 309.7 247.0 313.1 248.4 315.6 249.4 316.6 250.6 317.3 252.2 317.8 253.8 318.0 255.4 317.9 257.0 317.5 258.6 316.5 259.8 315.1 260.6 313.3 261.4 310.3 262.6 301.8 264.2 283.4 264.9 280.1 265.4 282.7 267.0 301.3 268.0 309.5 269.2 314.7 270.0 316.5 271.0 318.0 272.4 319.2 274.0 320.2 279.4 322.1 285.6 323.5 306.0 327.3 L306.0 341.3 L23.6 341.3 Z" fill="#00f083"/><path d="M23.6 316.8 27.2 316.7 29.0 316.2 30.6 315.1 32.0 313.0 33.2 310.0 34.4 305.9 38.6 287.6 39.6 285.0 40.4 284.4 40.8 284.6 41.4 285.6 42.4 288.9 47.0 313.7 48.2 318.9 49.4 322.9 50.8 326.2 52.4 328.6 54.2 330.1 57.4 331.8 61.0 333.1 64.0 333.5 92.8 333.7 109.4 333.4 117.2 332.4 120.0 331.8 122.2 331.0 124.6 329.4 127.4 325.6 128.3 324.9 129.2 325.2 131.4 327.3 132.6 327.7 133.6 327.7 134.4 327.4 136.0 325.9 137.2 323.4 138.0 320.0 138.4 315.6 138.6 307.8 139.3 151.3 139.8 270.9 140.2 313.2 140.6 318.5 141.2 321.4 142.4 324.5 143.8 326.5 145.2 327.5 146.8 328.2 149.0 328.6 152.2 328.8 182.4 328.2 187.6 327.9 190.8 327.4 192.4 326.5 193.4 324.7 194.2 321.3 195.6 312.0 196.1 310.8 196.6 312.3 198.4 323.4 199.2 325.5 200.4 326.6 202.0 327.0 204.4 327.1 215.0 326.9 222.6 326.3 226.6 325.4 228.0 324.4 228.6 323.0 230.2 310.6 231.2 318.7 231.8 321.2 232.2 321.5 232.8 321.2 234.0 319.4 234.6 317.0 235.0 314.0 236.4 297.4 236.8 298.8 237.8 307.2 238.2 308.0 238.6 307.2 239.6 300.7 241.4 282.8 242.1 280.1 242.4 280.8 242.8 283.3 245.2 305.6 246.0 310.1 247.0 313.5 248.4 316.0 249.4 317.0 250.6 317.7 252.2 318.2 253.8 318.4 255.4 318.3 257.0 317.9 258.6 317.0 259.8 315.6 260.6 313.8 261.4 310.9 262.4 304.2 264.2 283.2 264.9 279.6 265.4 282.4 267.0 301.8 268.0 310.0 269.2 315.2 270.0 317.0 271.0 318.4 272.4 319.6 274.0 320.6 279.2 322.4 285.4 323.7 306.0 327.5 L306.0 341.3 L23.6 341.3 Z" fill="#00ef6b"/><path d="M23.6 317.4 27.2 317.3 29.0 316.9 30.6 315.7 32.0 313.7 33.2 310.8 34.4 306.7 38.6 288.2 39.6 285.6 40.4 284.9 40.8 285.2 41.4 286.2 42.4 289.5 47.0 314.4 48.2 319.5 49.4 323.4 50.8 326.6 52.4 328.9 54.2 330.3 57.4 332.0 61.0 333.2 64.0 333.6 92.8 333.8 109.4 333.6 117.2 332.6 120.0 332.0 122.2 331.2 124.6 329.6 127.4 325.9 128.3 325.2 129.2 325.5 131.4 327.5 132.6 328.0 134.4 327.7 136.0 326.1 137.2 323.7 138.0 320.4 138.4 316.0 138.6 308.3 139.3 151.7 139.8 270.7 140.2 313.6 140.4 317.2 141.0 321.0 142.2 324.4 143.6 326.5 145.0 327.7 146.6 328.4 148.8 328.8 151.8 329.0 182.6 328.5 188.0 328.2 191.0 327.6 192.6 326.7 193.6 324.5 194.4 320.5 195.6 311.8 196.1 310.4 196.6 312.1 198.4 323.8 199.2 325.9 200.2 326.8 201.6 327.2 204.2 327.4 215.0 327.2 222.8 326.6 225.4 326.1 226.8 325.6 228.2 324.4 228.8 322.4 230.2 310.8 231.2 319.0 231.8 321.5 232.2 321.8 232.8 321.6 234.0 319.7 234.6 317.3 235.0 314.2 236.4 297.4 236.8 298.8 237.8 307.5 238.2 308.3 238.6 307.5 239.6 300.9 241.4 282.1 242.1 279.2 242.4 280.0 242.8 282.6 245.2 306.0 246.0 310.5 247.0 313.9 248.6 316.6 250.8 318.1 254.0 318.8 255.8 318.6 257.2 318.2 258.8 317.2 260.0 315.7 260.8 313.8 261.6 310.4 262.8 300.7 264.2 283.0 264.9 279.2 265.4 282.1 266.8 300.1 267.8 309.3 269.0 315.1 269.8 317.1 270.8 318.6 272.2 319.9 273.8 320.9 279.0 322.6 285.4 324.0 306.0 327.7 L306.0 341.3 L23.6 341.3 Z" fill="#00ee53"/><path d="M23.6 318.0 27.2 317.9 29.0 317.5 30.6 316.4 32.0 314.4 33.2 311.5 34.4 307.4 38.6 288.7 39.6 286.1 40.4 285.5 40.8 285.7 41.4 286.8 42.4 290.2 46.8 314.1 48.0 319.3 49.2 323.3 50.6 326.6 52.2 328.9 54.0 330.4 57.2 332.1 60.8 333.3 63.8 333.8 91.8 334.0 109.2 333.7 117.0 332.8 122.0 331.5 124.6 329.8 127.4 326.1 128.3 325.5 129.2 325.8 131.4 327.8 132.6 328.3 134.4 327.9 136.0 326.4 137.2 324.0 138.0 320.7 138.4 316.5 138.6 308.9 139.3 152.1 139.8 270.4 140.2 313.9 140.4 317.6 141.0 321.4 142.2 324.8 143.6 326.8 145.0 328.0 146.6 328.6 148.8 329.1 152.0 329.2 182.8 328.7 188.2 328.4 191.2 327.9 192.6 327.0 193.6 325.0 194.4 320.9 195.6 311.5 196.1 310.0 196.6 311.9 197.6 319.8 198.4 324.3 199.2 326.3 200.2 327.2 201.8 327.6 204.2 327.7 215.2 327.5 223.0 326.8 225.4 326.4 226.8 325.9 228.2 324.7 228.8 322.7 230.2 311.0 231.2 319.3 231.8 321.8 232.2 322.1 232.8 321.9 234.0 320.1 234.6 317.6 235.0 314.5 236.4 297.4 236.8 298.9 237.8 307.8 238.2 308.7 238.6 307.9 239.6 301.1 241.4 281.4 242.1 278.4 242.4 279.2 242.8 282.0 244.6 301.6 245.8 310.0 247.2 314.9 248.2 316.6 249.4 317.8 250.8 318.6 252.6 319.1 254.6 319.2 256.4 318.9 257.8 318.4 259.0 317.5 259.8 316.5 260.6 314.9 261.4 312.0 262.2 307.0 264.2 282.8 264.9 278.7 265.4 281.8 266.8 300.6 267.8 309.9 269.0 315.6 269.8 317.6 270.8 319.1 272.2 320.3 273.8 321.3 278.8 322.9 285.2 324.3 306.0 327.9 L306.0 341.3 L23.6 341.3 Z" fill="#00ed3c"/><path d="M23.6 318.5 27.2 318.5 29.0 318.1 30.6 317.1 32.0 315.1 33.2 312.3 34.4 308.2 38.6 289.3 39.6 286.6 40.4 286.0 40.8 286.2 41.4 287.3 42.4 290.8 46.8 314.8 48.0 319.9 49.2 323.8 50.6 326.9 52.2 329.2 53.8 330.5 57.0 332.2 60.6 333.4 63.8 333.9 91.8 334.1 109.2 333.9 117.0 333.0 122.0 331.7 124.6 330.1 127.4 326.4 128.3 325.8 129.2 326.1 131.4 328.1 132.6 328.5 134.4 328.2 136.0 326.7 137.2 324.4 138.0 321.1 138.4 316.9 138.6 309.5 139.3 152.5 139.8 270.2 140.2 314.2 140.4 317.9 141.0 321.7 142.2 325.1 143.6 327.1 145.0 328.2 146.6 328.9 148.8 329.3 151.8 329.5 182.8 329.0 188.2 328.7 191.2 328.1 192.2 327.7 192.8 327.1 193.8 324.7 195.6 311.3 196.1 309.6 196.6 311.8 198.2 323.9 199.0 326.4 200.0 327.4 201.4 327.8 203.8 328.0 214.6 327.8 222.8 327.2 225.4 326.7 226.8 326.2 228.2 325.0 228.8 323.0 230.2 311.2 231.2 319.6 231.8 322.1 232.2 322.5 232.8 322.2 234.0 320.4 234.6 317.9 235.0 314.7 236.4 297.4 236.8 299.0 237.8 308.2 238.2 309.1 238.6 308.3 239.6 301.4 241.4 280.8 242.1 277.5 242.4 278.4 242.8 281.4 244.4 299.9 245.6 309.4 247.0 314.8 248.0 316.7 249.2 318.0 250.6 318.9 252.4 319.4 254.4 319.6 256.2 319.4 257.8 318.8 259.0 318.0 259.8 317.0 260.6 315.5 261.6 311.7 262.4 306.0 264.2 282.6 264.9 278.2 265.4 281.5 266.8 301.1 267.8 310.6 269.0 316.2 269.8 318.1 270.6 319.3 272.0 320.6 273.6 321.5 278.6 323.2 285.2 324.6 306.0 328.1 L306.0 341.3 L23.6 341.3 Z" fill="#00ec24"/><path d="M23.6 319.1 27.2 319.1 29.2 318.7 30.8 317.5 32.2 315.4 33.4 312.4 34.6 308.2 38.6 289.9 39.6 287.2 40.4 286.5 40.8 286.8 41.4 287.9 42.4 291.4 46.6 314.5 47.8 319.7 49.0 323.7 50.4 327.0 52.0 329.3 53.8 330.8 56.8 332.3 60.6 333.6 63.8 334.1 92.4 334.3 109.4 334.0 117.4 333.1 122.2 331.8 124.8 330.1 127.4 326.7 128.2 326.1 129.2 326.4 131.4 328.3 132.8 328.8 134.6 328.3 136.2 326.8 137.2 324.7 138.0 321.5 138.4 317.3 138.6 310.0 139.3 152.9 139.8 269.9 140.2 314.5 140.4 318.3 141.0 322.1 142.2 325.4 143.6 327.4 145.0 328.5 146.6 329.1 148.8 329.6 151.8 329.7 183.2 329.3 188.4 328.9 191.4 328.4 192.4 327.9 193.0 327.2 193.8 325.2 194.6 320.3 195.6 311.1 196.1 309.3 196.6 311.6 198.2 324.4 198.8 326.4 199.8 327.6 201.2 328.1 203.4 328.3 213.8 328.1 222.6 327.5 225.4 327.0 226.8 326.5 228.2 325.3 228.8 323.3 230.2 311.4 231.2 319.9 231.8 322.4 232.2 322.8 232.8 322.5 234.0 320.7 234.6 318.2 235.0 315.0 236.4 297.5 236.8 299.1 237.8 308.5 238.2 309.5 238.6 308.7 239.6 301.7 241.4 280.2 242.1 276.7 242.4 277.6 242.8 280.9 244.4 300.2 245.6 309.8 247.0 315.3 248.0 317.2 249.2 318.5 250.6 319.3 252.4 319.9 254.4 320.0 256.2 319.8 257.8 319.3 259.0 318.5 259.8 317.5 260.6 316.0 261.6 312.3 262.4 306.6 264.2 282.4 264.9 277.8 265.4 281.3 266.8 301.7 267.6 309.8 268.8 316.1 269.6 318.2 270.6 319.7 271.8 320.9 273.4 321.8 278.4 323.5 285.0 324.8 306.0 328.3 L306.0 341.3 L23.6 341.3 Z" fill="#00eb0c"/><path d="M23.6 320.0 27.2 320.1 29.2 319.7 30.8 318.6 32.2 316.5 33.4 313.6 34.6 309.3 38.6 291.0 39.6 288.3 40.4 287.7 40.8 287.9 41.4 289.0 42.4 292.6 46.4 314.5 47.6 319.8 48.8 323.9 50.2 327.2 51.8 329.5 53.6 331.0 56.4 332.4 60.4 333.8 63.8 334.3 91.6 334.5 109.2 334.2 118.0 333.2 120.8 332.6 123.0 331.8 124.6 330.7 126.2 328.9 127.8 326.7 128.5 324.4 129.2 326.8 130.8 328.4 132.0 329.1 133.0 329.3 134.2 329.0 135.2 328.4 136.2 327.3 137.2 325.3 138.0 322.1 138.4 318.2 138.6 311.5 139.4 153.5 140.2 314.7 140.4 318.8 141.0 322.7 142.0 325.5 143.6 327.9 145.0 329.0 146.6 329.6 148.8 330.0 152.0 330.2 183.4 329.7 188.8 329.4 191.6 328.9 192.6 328.3 193.2 327.6 194.0 325.2 195.6 312.1 196.1 309.9 196.6 312.1 198.2 325.0 198.8 327.0 199.8 328.2 201.2 328.6 203.6 328.8 213.8 328.7 222.6 328.0 225.4 327.6 226.8 327.1 228.2 325.9 228.8 324.0 230.2 312.2 231.2 320.6 231.8 323.1 232.2 323.5 232.8 323.2 234.0 321.5 234.6 319.0 235.0 315.8 236.4 298.5 236.8 300.1 237.8 309.5 238.0 310.3 238.2 310.5 238.4 310.2 238.8 308.2 239.5 299.5 240.2 295.8 241.4 281.7 242.1 278.3 242.4 279.2 242.8 282.5 245.0 307.2 245.8 312.2 246.8 315.9 247.6 317.6 248.4 318.7 250.6 320.2 252.2 320.7 254.0 320.9 255.8 320.8 257.4 320.3 259.0 319.4 260.2 317.9 261.0 316.0 261.8 312.4 262.8 303.7 264.2 282.8 264.9 277.7 265.4 281.5 266.8 302.9 267.6 311.0 268.8 317.1 269.6 319.1 270.4 320.3 271.6 321.5 273.2 322.5 278.2 324.1 285.0 325.4 306.0 328.7 L306.0 341.3 L23.6 341.3 Z" fill="#0ceb00"/><path d="M23.6 321.2 27.2 321.3 29.2 321.0 30.8 320.0 32.2 318.0 33.4 315.1 34.6 311.0 38.6 292.8 39.6 290.0 40.4 289.4 41.2 290.3 42.2 293.4 46.4 315.8 47.6 321.0 48.8 324.9 50.2 328.0 51.6 330.0 53.4 331.4 55.8 332.6 61.4 334.3 67.0 334.6 105.2 334.7 111.8 334.3 118.0 333.6 121.0 333.0 123.2 332.2 124.8 331.2 126.2 329.7 127.8 327.3 128.5 320.8 129.0 326.8 129.4 327.9 130.2 328.7 131.6 329.7 133.2 329.9 134.8 329.4 136.2 328.0 137.2 326.0 138.0 323.1 138.4 319.5 138.6 313.8 139.4 154.4 140.2 314.5 140.4 319.3 141.0 323.4 142.0 326.3 143.4 328.4 144.8 329.6 146.4 330.2 148.6 330.7 151.8 330.9 183.2 330.5 188.6 330.2 191.6 329.7 192.6 329.2 193.2 328.6 194.0 326.5 194.6 323.1 195.8 312.7 196.2 311.5 196.6 313.1 198.2 325.8 198.8 327.8 199.8 329.0 201.2 329.4 203.4 329.6 213.4 329.5 222.4 328.9 225.2 328.5 226.8 328.0 228.2 326.8 228.8 324.9 230.2 313.5 231.2 321.7 231.8 324.2 232.2 324.5 232.8 324.3 234.0 322.7 234.6 320.3 235.0 317.2 236.4 300.5 236.8 302.1 237.8 311.2 238.2 312.1 238.4 311.7 238.8 308.7 239.5 292.9 240.2 297.3 241.4 285.5 242.1 282.3 242.4 283.2 242.8 286.4 245.0 309.6 245.8 314.2 246.8 317.6 248.4 320.1 249.4 320.9 250.8 321.6 252.6 322.1 254.4 322.2 256.2 322.0 257.6 321.6 259.0 320.8 260.2 319.4 261.0 317.6 261.8 314.2 262.8 305.6 264.4 280.9 264.9 278.1 265.4 282.3 266.6 301.9 267.6 312.7 268.6 317.9 269.4 320.0 270.2 321.3 271.4 322.5 273.0 323.4 278.0 325.0 285.0 326.3 306.0 329.4 L306.0 341.3 L23.6 341.3 Z" fill="#24ec00"/><path d="M23.6 322.5 27.2 322.6 29.2 322.3 30.8 321.4 32.2 319.5 33.4 316.7 34.6 312.6 38.6 294.5 39.6 291.8 40.4 291.1 41.2 292.0 42.2 295.1 46.4 317.2 48.6 325.3 50.0 328.4 51.4 330.4 53.0 331.7 55.2 332.8 58.6 333.9 61.6 334.6 70.8 334.9 106.4 334.9 114.4 334.4 120.6 333.5 123.0 332.8 124.8 331.8 126.4 330.3 127.6 328.5 128.0 325.8 128.5 316.7 129.0 327.0 129.4 328.7 131.0 330.2 132.8 330.7 134.6 330.2 136.2 328.7 137.2 326.8 138.0 324.0 138.4 320.7 138.6 315.8 139.4 155.2 140.2 314.2 140.4 319.8 141.0 324.2 142.0 327.1 143.4 329.2 144.8 330.2 146.4 330.9 148.8 331.4 152.0 331.6 183.2 331.2 188.8 330.9 191.8 330.4 193.2 329.5 194.0 327.7 194.8 323.3 195.8 314.6 196.2 313.0 196.6 314.2 198.2 326.5 199.0 328.9 200.0 329.9 201.6 330.3 204.0 330.4 215.0 330.2 223.2 329.6 225.6 329.2 227.0 328.7 228.2 327.7 228.8 325.9 230.2 314.9 231.2 322.8 231.8 325.2 232.2 325.6 233.0 325.3 233.6 324.6 234.2 323.3 235.0 318.6 236.4 302.4 236.8 304.0 237.8 312.8 238.2 313.5 238.4 313.0 238.8 308.5 239.5 282.9 240.2 298.0 240.4 298.1 240.6 296.8 241.6 287.7 242.0 286.2 242.2 286.4 242.8 290.2 244.8 310.6 245.8 316.2 246.8 319.3 248.4 321.6 250.8 323.0 254.4 323.5 256.2 323.3 257.8 322.8 259.4 321.8 260.6 320.1 261.4 317.9 262.0 314.8 262.8 307.5 264.4 281.6 264.9 278.5 265.4 283.0 266.6 303.8 267.4 312.9 268.4 318.7 269.0 320.5 270.0 322.2 271.2 323.4 272.8 324.4 277.8 325.9 284.8 327.1 306.0 330.0 L306.0 341.3 L23.6 341.3 Z" fill="#3ced00"/><path d="M23.6 323.7 27.2 323.9 29.2 323.7 30.8 322.8 32.2 320.9 33.4 318.2 34.6 314.2 38.8 295.5 39.6 293.5 40.4 292.8 41.2 293.7 42.2 296.8 46.2 317.5 48.4 325.8 49.6 328.5 51.0 330.6 52.6 332.1 54.6 333.0 58.2 334.2 61.4 334.8 75.6 335.2 107.6 335.1 116.6 334.5 122.4 333.5 124.2 332.8 125.6 331.8 127.0 330.4 127.6 329.2 128.0 325.3 128.5 311.6 129.0 327.0 129.4 329.4 130.0 330.2 130.8 330.8 132.8 331.3 134.8 330.7 136.4 329.1 137.4 327.1 138.0 324.9 138.6 317.7 139.4 156.1 140.2 313.6 140.4 320.2 140.8 323.9 141.8 327.4 143.4 329.9 144.8 330.9 146.6 331.6 149.0 332.0 152.2 332.2 182.8 331.9 188.8 331.6 191.8 331.2 192.8 330.8 193.4 330.2 194.2 328.2 195.8 316.6 196.3 314.6 196.8 316.7 197.8 324.9 198.4 328.1 199.2 330.0 200.4 330.8 204.8 331.2 216.2 331.0 223.6 330.4 227.0 329.6 228.2 328.6 228.8 326.9 230.2 316.2 231.4 325.1 232.0 326.5 232.8 326.5 234.0 325.0 234.6 322.8 236.4 304.3 236.8 305.8 237.8 314.2 238.0 314.7 238.2 314.6 238.4 313.8 238.8 307.2 239.5 266.9 240.0 291.5 240.4 299.5 241.6 291.3 242.0 290.1 242.2 290.3 242.8 293.9 244.2 308.3 245.2 315.5 246.4 320.1 247.2 321.7 248.0 322.7 249.4 323.7 251.2 324.4 253.6 324.7 256.0 324.6 257.8 324.2 259.2 323.4 260.2 322.3 261.0 320.8 261.8 317.8 262.6 311.8 264.4 282.3 264.9 278.9 265.4 283.9 266.4 302.5 267.2 313.0 268.2 319.5 268.8 321.4 269.8 323.2 271.0 324.4 272.6 325.3 277.6 326.8 284.8 328.0 306.0 330.7 L306.0 341.3 L23.6 341.3 Z" fill="#53ee00"/><path d="M23.6 324.9 27.4 325.2 29.4 324.9 31.0 324.0 32.4 322.0 33.6 319.2 34.8 315.1 38.8 297.2 39.6 295.2 40.4 294.6 41.2 295.5 42.2 298.5 46.2 318.9 48.2 326.2 49.4 329.0 50.6 330.9 52.2 332.4 54.0 333.3 57.8 334.4 61.2 335.0 64.3 334.8 68.0 335.3 80.6 335.5 109.0 335.3 118.4 334.6 123.6 333.5 125.0 332.9 126.2 332.0 127.2 330.8 127.6 329.8 128.0 324.6 128.5 306.4 129.0 326.9 129.4 330.1 129.8 330.8 130.6 331.5 132.6 332.0 133.8 331.8 134.8 331.4 136.4 329.8 137.6 327.3 138.4 322.9 138.8 308.3 139.5 156.9 140.2 312.8 140.4 320.5 140.8 324.6 141.8 328.1 143.4 330.6 144.8 331.6 146.6 332.3 149.0 332.7 152.4 332.9 182.4 332.7 188.6 332.4 191.8 332.0 193.4 331.1 194.2 329.4 194.8 326.6 196.0 317.3 196.4 316.2 196.8 317.7 198.4 328.9 199.2 330.8 200.4 331.6 204.8 332.0 216.0 331.8 223.4 331.2 227.0 330.5 228.2 329.5 228.8 327.8 230.2 317.5 231.6 326.9 232.2 327.7 233.2 327.3 234.2 325.6 234.8 322.8 236.4 306.2 236.8 307.6 237.8 315.6 238.0 316.0 238.2 315.7 238.4 314.6 238.8 305.7 239.5 250.8 240.0 287.6 240.4 300.9 240.6 301.2 240.8 300.3 241.8 294.2 242.0 293.9 242.2 294.2 242.8 297.7 244.2 311.1 245.0 316.6 246.0 320.8 247.4 323.5 248.6 324.6 250.4 325.5 252.8 325.9 255.4 326.0 257.4 325.6 259.0 324.9 260.2 323.8 261.0 322.4 262.0 318.6 262.8 311.7 264.4 283.0 264.9 279.2 265.2 281.6 266.4 304.5 267.2 315.0 268.2 321.1 268.8 322.8 269.6 324.2 270.8 325.4 272.4 326.3 277.4 327.7 284.8 328.9 306.0 331.3 L306.0 341.3 L23.6 341.3 Z" fill="#6bef00"/><path d="M23.6 326.1 27.4 326.4 29.4 326.2 31.0 325.3 32.4 323.4 33.6 320.7 34.8 316.7 38.8 299.0 39.6 297.0 40.4 296.4 41.2 297.3 42.2 300.3 46.0 319.3 48.0 326.7 49.2 329.5 50.4 331.3 52.0 332.8 53.8 333.7 57.6 334.7 61.0 335.2 64.3 334.8 66.8 335.4 68.8 335.6 96.6 335.7 106.8 335.6 114.6 335.2 121.0 334.5 124.4 333.6 126.6 332.0 127.2 331.2 127.6 330.0 128.0 323.6 128.5 301.0 129.0 326.5 129.4 330.3 129.8 331.2 130.6 331.9 132.6 332.5 134.8 331.9 135.8 331.1 136.6 330.1 137.8 327.4 138.4 323.9 138.8 311.5 139.5 157.7 140.2 311.6 140.4 320.7 140.8 325.3 141.8 328.8 143.2 331.0 144.6 332.1 146.4 332.9 148.8 333.3 152.4 333.5 182.2 333.3 188.8 333.1 192.0 332.6 193.0 332.3 193.6 331.7 194.4 329.9 196.0 319.2 196.4 317.7 196.8 318.8 198.4 329.6 199.2 331.5 200.6 332.4 205.2 332.7 217.0 332.4 224.0 331.9 227.2 331.2 228.2 330.3 228.8 328.7 230.2 318.7 231.6 327.8 232.2 328.6 232.8 328.5 233.4 328.1 234.2 326.7 234.8 324.0 236.4 308.0 236.8 309.4 237.8 316.9 238.0 317.2 238.2 316.8 238.4 315.4 238.8 304.3 239.5 235.0 240.0 283.8 240.4 302.2 240.6 303.5 240.8 303.1 241.6 298.8 242.0 297.9 242.2 298.1 242.8 301.5 244.8 317.7 245.8 322.0 247.0 324.5 248.2 325.7 250.0 326.6 252.6 327.1 255.4 327.1 257.6 326.8 259.2 326.0 260.4 324.8 261.2 323.4 262.0 320.4 262.8 313.8 264.4 283.8 264.9 279.5 265.2 282.2 266.4 306.5 267.2 316.9 268.2 322.6 268.8 324.1 269.6 325.4 270.8 326.5 272.4 327.3 277.8 328.7 285.0 329.7 306.0 331.9 L306.0 341.3 L23.6 341.3 Z" fill="#83f000"/><path d="M23.6 326.8 27.4 327.1 29.4 326.9 31.0 326.1 32.4 324.4 33.6 321.9 34.8 318.1 38.8 301.4 39.6 299.5 40.4 298.9 41.2 299.8 42.2 302.8 45.8 319.9 47.8 327.1 48.8 329.4 50.0 331.3 51.4 332.7 53.0 333.7 56.2 334.6 60.2 335.3 62.0 335.3 64.4 334.7 67.6 335.6 73.6 335.8 107.8 335.7 117.6 335.1 123.2 334.2 124.8 333.6 126.2 332.7 127.2 331.4 127.6 330.1 128.0 322.7 128.5 296.7 129.0 326.0 129.4 330.4 129.8 331.4 130.4 332.0 131.4 332.6 132.6 332.7 134.8 332.2 136.6 330.5 137.8 327.8 138.4 324.6 138.8 313.9 139.5 158.1 140.0 278.9 140.4 320.4 140.6 323.9 141.2 327.4 142.0 329.6 143.2 331.3 144.6 332.4 146.4 333.1 148.8 333.5 152.2 333.7 182.2 333.5 188.8 333.3 192.0 332.9 193.6 332.1 194.4 330.5 195.0 327.8 196.0 320.5 196.5 318.7 196.8 319.5 198.0 327.9 198.6 330.5 199.4 332.0 200.6 332.6 205.2 332.9 217.0 332.7 224.0 332.2 227.2 331.5 228.2 330.7 228.8 329.1 230.2 319.4 231.6 328.3 232.0 329.0 232.4 329.1 233.6 328.4 234.2 327.3 234.8 324.7 236.4 309.3 236.8 310.6 237.8 317.8 238.0 318.0 238.2 317.5 238.4 315.9 238.8 303.1 239.5 221.4 240.4 304.0 240.6 306.0 240.8 306.2 241.8 302.7 242.1 302.6 242.4 303.5 244.6 318.8 245.4 322.2 246.4 324.6 247.6 326.1 249.2 327.0 251.6 327.6 254.6 327.7 257.0 327.5 258.8 326.9 260.2 325.8 261.2 324.2 262.2 320.4 262.8 315.3 264.4 284.0 264.9 279.3 265.2 282.3 266.2 304.4 267.0 316.4 268.0 322.9 268.6 324.5 269.4 325.8 270.6 326.9 272.0 327.6 277.2 328.9 284.8 330.0 306.0 332.1 L306.0 341.3 L23.6 341.3 Z" fill="#9bf000"/><path d="M23.6 327.5 27.4 327.8 29.4 327.6 31.0 326.9 32.4 325.4 33.6 323.0 34.8 319.5 38.8 303.8 39.6 302.0 40.4 301.5 41.2 302.4 42.2 305.2 45.8 321.4 47.6 327.5 48.6 329.7 49.8 331.6 51.2 333.0 53.0 333.9 56.4 334.8 60.4 335.4 62.0 335.4 64.3 334.5 66.8 335.5 68.0 335.7 78.2 335.9 109.2 335.8 118.8 335.1 123.8 334.2 125.2 333.6 126.4 332.7 127.2 331.5 127.6 330.1 128.0 321.8 128.5 292.4 129.0 325.6 129.4 330.5 129.8 331.6 130.4 332.3 131.4 332.8 132.4 333.0 133.6 332.9 134.8 332.4 136.6 330.8 137.6 328.8 138.2 326.5 138.6 322.8 138.8 316.1 139.6 158.6 140.0 272.7 140.4 320.0 140.6 324.0 141.2 327.7 142.0 329.9 143.2 331.5 144.6 332.6 146.4 333.3 152.2 333.9 182.6 333.7 189.0 333.4 192.2 333.1 193.6 332.5 194.4 331.1 195.2 327.6 196.2 320.7 196.6 319.8 197.0 321.2 198.0 328.1 198.6 330.7 199.4 332.2 200.6 332.8 205.2 333.2 216.8 332.9 224.0 332.4 227.2 331.8 228.2 331.0 228.8 329.5 230.2 320.1 231.6 328.8 232.0 329.4 232.4 329.6 233.6 328.9 234.2 327.8 234.8 325.4 236.4 310.6 236.8 311.9 237.8 318.7 238.0 318.8 238.2 318.2 238.4 316.4 238.8 301.7 239.5 207.8 240.4 305.7 240.8 309.2 241.8 307.2 242.1 307.2 242.4 308.1 244.4 320.1 245.2 323.2 246.0 325.1 247.2 326.6 248.8 327.5 251.4 328.1 254.6 328.3 257.2 328.0 259.0 327.4 260.4 326.3 261.4 324.7 262.4 320.5 263.0 314.5 264.4 284.4 264.9 279.0 265.2 282.4 266.2 306.1 267.0 318.0 267.8 323.1 268.4 324.9 269.2 326.3 270.4 327.4 271.8 328.1 276.8 329.3 284.6 330.3 306.0 332.3 L306.0 341.3 L23.6 341.3 Z" fill="#b2f000"/><path d="M23.6 328.2 27.4 328.5 29.4 328.4 31.0 327.7 32.4 326.3 33.6 324.2 34.8 320.9 38.8 306.2 39.6 304.5 40.4 304.0 41.2 304.9 42.2 307.7 45.6 322.1 47.6 328.4 48.6 330.5 49.8 332.2 51.2 333.4 52.8 334.2 56.2 335.0 60.2 335.6 62.0 335.4 64.3 334.4 66.8 335.6 68.2 335.8 82.6 336.0 110.6 335.8 119.6 335.2 124.2 334.3 125.6 333.6 126.6 332.7 127.2 331.7 127.6 330.2 128.0 321.0 128.5 288.1 129.0 325.2 129.4 330.7 129.8 331.8 130.4 332.5 131.2 333.0 132.4 333.2 133.6 333.1 134.8 332.7 135.8 332.0 136.8 330.8 137.8 328.7 138.4 325.8 138.8 318.0 139.6 159.0 140.4 319.4 140.6 324.1 141.0 327.2 141.8 329.8 143.0 331.6 144.4 332.7 146.0 333.4 148.4 333.8 151.6 334.0 182.4 333.8 189.0 333.6 192.2 333.3 193.8 332.6 194.6 331.2 195.2 328.6 196.2 322.1 196.6 320.8 197.0 321.8 198.6 331.0 199.4 332.5 200.6 333.1 205.0 333.4 216.8 333.1 224.0 332.7 227.2 332.1 228.2 331.4 228.8 329.9 230.2 320.8 231.6 329.2 232.0 329.9 232.4 330.0 233.2 329.7 233.8 329.1 234.4 327.8 235.0 324.7 236.4 311.9 236.8 313.1 237.8 319.6 238.0 319.6 238.2 318.9 238.4 316.8 238.8 300.4 239.5 194.2 240.4 307.3 240.8 312.3 241.0 312.6 241.8 311.8 242.0 311.8 242.4 312.7 244.2 321.6 245.4 325.3 246.6 327.1 248.2 328.0 250.8 328.6 254.2 328.8 257.2 328.5 259.2 327.9 260.6 326.8 261.6 325.1 262.4 321.8 263.0 316.3 264.4 284.8 264.9 278.8 265.2 282.6 266.2 307.9 266.8 317.5 267.6 323.4 268.2 325.3 269.0 326.7 270.0 327.7 271.4 328.4 276.2 329.6 284.2 330.6 306.0 332.5 L306.0 341.3 L23.6 341.3 Z" fill="#caf000"/><path d="M23.6 328.8 27.6 329.2 29.6 329.0 31.2 328.4 32.6 327.0 33.8 324.9 34.8 322.3 38.8 308.6 39.6 307.0 40.4 306.6 41.2 307.5 42.0 309.4 45.6 323.6 47.4 328.9 48.4 330.9 49.6 332.5 51.0 333.6 52.8 334.4 56.4 335.2 60.4 335.7 62.0 335.5 64.3 334.4 66.8 335.7 68.6 336.0 94.6 336.1 106.6 336.0 114.8 335.7 121.2 335.2 124.6 334.4 126.0 333.6 127.0 332.4 127.6 330.3 127.8 327.7 128.5 283.8 129.0 324.7 129.4 330.8 129.8 332.0 130.4 332.8 131.2 333.2 132.4 333.5 133.6 333.4 134.8 333.0 135.8 332.3 136.8 331.2 137.8 329.1 138.4 326.2 138.8 318.7 139.6 159.5 140.4 319.6 140.6 324.4 141.0 327.6 141.8 330.1 143.0 331.9 144.4 332.9 146.0 333.6 151.4 334.2 182.2 334.0 192.2 333.5 193.8 333.0 194.6 331.8 195.2 329.6 196.4 322.4 196.7 321.8 197.0 322.5 198.6 331.2 199.4 332.7 200.8 333.3 205.4 333.6 217.4 333.3 224.2 332.9 227.2 332.4 228.2 331.7 228.8 330.3 230.2 321.6 231.2 328.1 231.8 330.1 232.2 330.4 232.8 330.4 234.0 329.3 234.6 327.7 235.0 325.4 236.4 313.1 236.8 314.3 237.6 319.9 237.8 320.4 238.0 320.4 238.4 317.2 238.6 311.9 239.5 180.4 240.4 308.9 240.8 315.2 241.2 316.3 242.0 316.5 242.4 317.3 244.0 323.4 244.8 325.7 245.8 327.3 247.2 328.4 249.4 329.1 252.8 329.3 256.4 329.2 258.8 328.7 260.4 327.7 261.6 326.0 262.6 321.9 263.2 315.4 264.9 278.5 265.2 282.9 266.6 316.8 267.4 323.7 268.0 325.8 268.8 327.2 269.8 328.1 271.2 328.9 275.8 329.9 284.0 330.9 306.0 332.7 L306.0 341.3 L23.6 341.3 Z" fill="#e1f000"/><path d="M23.6 329.5 27.6 329.8 29.6 329.7 31.2 329.2 32.6 328.0 33.8 326.0 34.8 323.7 38.6 311.4 39.4 309.8 40.2 309.1 41.0 309.7 42.0 311.9 45.6 325.0 47.4 329.8 48.4 331.6 49.6 333.0 51.0 334.0 52.6 334.7 56.8 335.5 60.8 335.8 62.0 335.6 64.4 334.5 67.0 335.8 69.2 336.1 102.2 336.2 118.2 335.7 122.4 335.2 125.0 334.4 126.4 333.4 127.2 332.1 127.6 330.3 127.8 327.5 128.5 279.5 129.0 324.3 129.4 330.9 130.2 332.8 131.0 333.4 132.2 333.7 133.6 333.6 134.8 333.2 135.8 332.6 136.8 331.5 137.8 329.4 138.4 326.7 138.8 319.2 139.6 159.9 140.4 319.9 140.6 324.8 141.0 327.9 141.8 330.4 143.0 332.2 144.4 333.2 146.0 333.8 151.4 334.4 182.8 334.2 192.4 333.7 194.0 333.1 194.8 331.8 196.4 323.7 196.8 322.8 197.2 324.1 198.2 329.9 198.8 332.0 199.6 333.1 200.8 333.5 205.4 333.8 217.4 333.6 224.2 333.2 227.2 332.6 228.2 332.0 228.8 330.7 230.2 322.3 231.2 328.5 231.8 330.5 232.2 330.8 232.8 330.8 234.0 329.8 234.6 328.3 235.0 326.1 236.4 314.4 236.8 315.5 237.6 320.8 237.8 321.2 238.0 321.1 238.4 317.6 238.6 311.7 239.5 166.6 240.2 297.0 240.6 315.8 241.2 320.0 242.4 321.8 244.6 327.2 245.6 328.4 247.0 329.2 251.2 329.8 257.0 329.6 259.8 328.8 261.4 327.2 262.4 324.4 263.2 317.4 264.9 278.3 266.6 318.7 267.4 324.9 268.0 326.6 268.6 327.6 269.6 328.6 270.8 329.2 275.2 330.2 283.8 331.1 306.0 332.9 L306.0 341.3 L23.6 341.3 Z" fill="#f9f000"/><path d="M23.6 329.9 29.6 330.2 31.2 329.7 32.6 328.6 33.8 326.8 34.8 324.5 38.8 312.3 39.6 311.0 40.2 310.6 41.0 311.2 42.0 313.3 45.4 325.3 47.4 330.4 48.4 332.1 49.6 333.3 51.0 334.2 52.6 334.8 57.0 335.6 60.8 335.9 62.0 335.7 64.4 334.5 67.0 335.9 69.4 336.2 104.8 336.2 119.6 335.6 123.2 335.1 125.4 334.4 126.6 333.4 127.2 332.2 127.6 330.3 127.8 327.2 128.5 273.7 129.0 323.6 129.4 330.9 130.2 333.0 131.0 333.6 132.0 333.9 133.4 333.8 134.8 333.4 135.8 332.8 136.8 331.8 137.8 329.8 138.4 327.0 138.8 319.7 139.6 160.3 140.4 320.2 140.6 325.1 141.0 328.3 141.8 330.7 142.8 332.2 144.0 333.2 145.6 333.8 147.8 334.2 151.0 334.5 182.6 334.3 192.4 333.9 194.0 333.4 194.8 332.3 195.4 330.2 196.4 324.6 196.8 323.5 197.2 324.4 198.2 330.0 198.8 332.1 199.6 333.3 200.8 333.7 205.4 333.9 217.4 333.7 224.2 333.4 227.2 332.8 228.2 332.2 228.8 330.9 230.2 322.9 231.2 328.9 231.8 330.8 232.2 331.1 232.8 331.1 234.0 330.2 234.6 328.7 235.0 326.6 236.4 315.4 236.8 316.5 237.6 321.4 237.8 321.8 238.0 321.6 238.4 318.0 238.6 311.9 239.5 163.2 240.2 297.4 240.6 316.9 241.2 321.5 244.4 327.8 245.6 329.0 247.0 329.7 251.6 330.2 257.4 329.9 260.0 329.0 260.8 328.4 261.6 327.3 262.6 324.0 263.2 318.3 264.9 278.0 266.6 319.6 267.2 324.6 267.8 326.7 268.4 327.8 269.4 328.8 270.6 329.5 275.0 330.5 283.6 331.4 306.0 333.1 L306.0 341.3 L23.6 341.3 Z" fill="#ffe000"/><path d="M23.6 330.2 29.6 330.5 31.2 330.1 32.6 329.1 33.8 327.3 35.0 324.7 38.8 313.4 39.6 312.1 40.2 311.8 41.0 312.3 42.0 314.5 45.4 326.0 47.2 330.5 48.2 332.1 49.4 333.4 50.8 334.3 52.4 334.9 56.8 335.6 60.8 336.0 62.0 335.7 63.8 334.6 64.4 334.4 67.0 335.9 69.4 336.2 105.0 336.3 120.0 335.7 123.4 335.2 125.6 334.4 126.6 333.5 127.2 332.3 127.6 330.1 127.8 326.7 128.5 267.4 129.0 322.7 129.4 330.8 130.2 333.1 131.0 333.8 132.0 334.0 133.4 334.0 134.8 333.6 136.0 332.9 137.0 331.7 137.8 330.1 138.4 327.4 138.8 320.2 139.6 160.7 140.4 320.4 140.6 325.4 141.0 328.6 141.8 331.0 142.8 332.4 144.0 333.3 145.6 334.0 147.8 334.4 151.0 334.6 183.0 334.4 192.6 334.0 194.2 333.4 195.0 332.2 196.6 324.6 196.9 324.0 197.2 324.6 198.8 332.2 199.6 333.4 200.8 333.8 205.4 334.1 217.2 333.9 224.2 333.5 227.2 333.0 228.2 332.4 228.8 331.2 230.2 323.4 231.2 329.2 231.8 331.1 232.2 331.4 233.0 331.3 233.6 330.9 234.2 330.1 235.0 327.1 236.4 316.3 236.8 317.3 237.6 322.0 237.8 322.3 238.0 322.0 238.4 318.4 238.6 312.3 239.5 163.2 240.2 297.9 240.6 317.5 241.0 321.4 241.4 322.8 244.6 328.5 245.8 329.5 247.2 330.0 252.4 330.4 257.8 330.0 259.2 329.6 260.4 329.0 261.8 327.2 262.4 325.4 262.8 323.1 263.4 315.7 264.9 277.6 266.4 317.4 267.2 325.0 267.8 327.1 268.4 328.1 269.4 329.1 270.6 329.8 275.0 330.8 283.4 331.6 306.0 333.3 L306.0 341.3 L23.6 341.3 Z" fill="#ffcc00"/><path d="M23.6 330.5 29.8 330.9 31.4 330.4 32.8 329.3 34.0 327.6 35.0 325.4 38.8 314.5 39.6 313.2 40.2 312.9 41.0 313.5 41.8 315.1 45.4 326.8 47.2 331.0 48.2 332.5 49.4 333.7 50.8 334.5 52.4 335.0 57.0 335.7 60.8 336.0 62.0 335.7 64.3 334.4 66.8 335.9 68.8 336.3 105.4 336.3 120.4 335.7 123.8 335.2 125.8 334.4 126.6 333.6 127.2 332.4 127.6 330.0 127.8 326.2 128.5 261.2 129.0 321.9 129.4 330.8 130.2 333.3 130.8 333.8 131.8 334.2 133.2 334.2 134.8 333.8 136.0 333.1 137.0 332.0 137.8 330.4 138.4 327.8 138.8 320.7 139.6 161.1 140.4 320.6 140.6 325.8 141.0 328.9 141.8 331.3 142.8 332.7 144.0 333.5 145.6 334.1 150.8 334.7 183.0 334.5 192.6 334.2 194.2 333.7 195.0 332.6 195.6 330.6 196.6 325.3 197.0 324.6 197.4 325.7 198.8 332.3 199.6 333.5 201.0 334.0 205.8 334.2 217.6 334.0 224.4 333.6 227.2 333.2 228.2 332.6 228.8 331.4 230.2 324.0 231.2 329.6 231.8 331.3 232.2 331.6 233.0 331.5 233.6 331.2 234.2 330.4 235.0 327.5 236.4 317.2 236.8 318.1 237.6 322.5 237.8 322.8 238.0 322.5 238.4 318.8 238.6 312.7 239.5 163.2 240.2 298.4 240.6 318.1 241.0 322.1 241.4 323.5 244.4 328.8 245.6 329.8 247.2 330.3 252.6 330.7 257.8 330.2 260.4 329.2 261.8 327.6 262.4 325.8 262.8 323.6 263.4 316.3 264.9 277.3 266.4 318.0 267.2 325.5 267.8 327.4 268.4 328.5 269.4 329.4 270.6 330.1 275.0 331.0 283.4 331.9 306.0 333.5 L306.0 341.3 L23.6 341.3 Z" fill="#ffb700"/><path d="M23.6 330.8 29.8 331.2 31.4 330.8 32.8 329.8 34.0 328.2 35.0 326.1 38.8 315.6 39.6 314.4 40.2 314.1 41.0 314.7 41.8 316.2 45.2 326.9 47.0 331.1 48.0 332.6 49.2 333.8 50.6 334.6 52.2 335.1 57.0 335.8 60.8 336.1 62.0 335.8 64.3 334.4 66.8 335.9 68.8 336.3 105.2 336.4 120.4 335.8 123.8 335.3 125.8 334.5 126.6 333.8 127.2 332.4 127.6 329.9 127.8 325.8 128.5 255.0 129.0 321.1 129.4 330.7 129.8 332.6 130.2 333.4 130.8 334.0 131.8 334.3 133.2 334.4 134.8 334.0 136.0 333.3 137.0 332.3 137.8 330.7 138.4 328.1 138.8 321.2 139.6 161.4 140.4 320.9 140.6 326.1 141.0 329.2 141.6 331.1 142.6 332.7 143.8 333.6 145.4 334.2 150.6 334.8 182.8 334.7 192.6 334.3 194.2 333.9 195.0 333.0 197.0 325.1 197.4 326.0 198.4 331.1 199.0 332.9 199.8 333.8 201.0 334.1 205.6 334.3 217.6 334.1 224.4 333.8 227.2 333.4 228.2 332.8 228.8 331.7 230.2 324.5 231.2 329.9 231.8 331.6 232.2 331.8 233.0 331.8 234.2 330.7 235.0 327.9 236.4 318.1 236.8 319.0 237.6 323.1 237.8 323.3 238.0 322.9 238.4 319.2 238.6 313.1 239.5 163.2 240.2 298.8 240.6 318.7 241.0 322.8 241.4 324.3 244.4 329.2 245.6 330.1 247.2 330.6 252.6 330.9 257.8 330.5 260.4 329.5 261.8 327.9 262.4 326.2 262.8 324.1 263.4 316.9 264.9 276.9 266.4 318.7 267.2 325.9 267.8 327.8 268.4 328.8 269.4 329.7 270.6 330.4 275.2 331.3 306.0 333.7 L306.0 341.3 L23.6 341.3 Z" fill="#ffa200"/><path d="M23.6 331.1 29.8 331.6 31.4 331.2 32.8 330.3 34.0 328.7 35.0 326.8 38.8 316.7 39.6 315.5 40.2 315.2 41.0 315.8 41.8 317.3 45.2 327.6 47.0 331.6 48.0 333.0 49.2 334.0 50.6 334.8 52.2 335.2 57.2 335.9 60.8 336.1 62.0 335.8 64.3 334.4 66.8 335.9 68.8 336.4 105.8 336.4 121.0 335.8 124.2 335.4 126.0 334.5 126.8 333.6 127.4 331.5 127.8 325.3 128.5 248.7 129.0 320.2 129.4 330.7 129.8 332.7 130.2 333.5 130.8 334.1 131.8 334.5 133.4 334.5 135.0 334.1 136.2 333.4 137.2 332.2 138.0 330.4 138.4 328.5 138.8 321.7 139.6 161.8 140.4 321.1 140.6 326.4 141.0 329.5 141.6 331.4 142.6 332.9 143.8 333.8 145.4 334.4 150.4 334.9 183.2 334.8 192.8 334.4 194.4 334.0 195.2 333.0 196.8 326.1 197.1 325.6 197.4 326.2 198.4 331.1 199.0 333.0 199.8 333.9 201.0 334.3 205.6 334.4 217.6 334.3 224.4 334.0 227.2 333.5 228.2 333.0 228.8 331.9 230.2 325.1 231.2 330.2 231.8 331.8 232.2 332.1 233.0 332.0 234.2 331.0 235.0 328.4 236.4 319.0 236.8 319.8 237.6 323.6 237.8 323.8 238.0 323.4 238.4 319.6 238.6 313.4 239.5 163.2 240.2 299.3 240.6 319.3 241.0 323.5 241.4 325.0 243.4 328.4 244.4 329.7 245.6 330.5 247.4 330.9 253.2 331.1 258.0 330.6 259.4 330.2 260.6 329.6 261.4 328.8 262.0 327.8 262.8 324.6 263.4 317.5 264.9 276.5 266.4 319.3 267.0 325.3 267.4 327.1 268.2 328.8 269.2 329.9 270.4 330.6 275.0 331.6 283.0 332.3 306.0 333.9 L306.0 341.3 L23.6 341.3 Z" fill="#ff8d00"/><path d="M23.6 331.4 29.8 331.9 31.4 331.6 32.8 330.8 34.0 329.3 35.0 327.5 38.8 317.8 39.6 316.7 40.2 316.5 41.0 317.0 41.8 318.5 45.0 327.8 46.8 331.7 47.8 333.1 49.0 334.1 50.4 334.9 52.0 335.3 57.0 336.0 60.8 336.2 62.0 335.9 64.3 334.3 65.0 334.6 66.8 336.0 68.8 336.4 105.8 336.5 121.2 335.9 124.2 335.5 126.0 334.7 126.8 333.7 127.4 331.5 127.8 324.8 128.5 242.0 129.0 319.3 129.4 330.6 129.8 332.7 130.2 333.6 130.8 334.3 131.6 334.6 133.2 334.7 134.8 334.4 136.2 333.6 137.2 332.5 138.0 330.7 138.4 328.8 138.8 322.2 139.6 162.2 140.4 321.3 140.6 326.7 141.0 329.8 141.6 331.7 142.6 333.2 143.8 334.0 145.4 334.6 150.4 335.0 183.6 334.9 193.0 334.5 194.4 334.2 195.2 333.3 197.1 326.2 199.0 333.1 199.8 334.1 201.0 334.4 205.6 334.6 217.6 334.4 224.4 334.1 227.2 333.7 228.2 333.2 228.8 332.2 230.2 325.6 231.2 330.5 231.8 332.1 232.2 332.3 233.0 332.2 234.2 331.3 235.0 328.8 236.4 319.9 236.8 320.7 237.6 324.1 237.8 324.3 238.0 323.8 238.4 319.9 238.6 313.8 239.5 163.2 240.2 299.8 240.6 319.8 241.0 324.1 241.4 325.8 243.2 328.8 244.2 330.0 245.6 330.8 247.4 331.2 253.4 331.4 258.0 330.9 260.6 329.8 262.0 328.1 262.8 325.1 263.4 318.2 264.9 276.3 266.4 320.0 267.0 325.8 267.4 327.5 268.2 329.2 269.2 330.2 270.4 330.8 275.0 331.9 306.0 334.0 L306.0 341.3 L23.6 341.3 Z" fill="#ff7700"/><path d="M23.6 331.7 30.0 332.3 31.6 331.9 32.8 331.3 34.0 329.9 35.0 328.2 38.8 319.1 39.6 318.0 40.2 317.8 41.0 318.4 41.8 319.8 45.0 328.6 46.8 332.2 47.8 333.4 49.0 334.4 52.0 335.4 57.2 336.1 60.8 336.2 62.0 335.9 63.8 334.5 64.3 334.3 65.0 334.6 66.8 336.0 68.8 336.5 106.6 336.5 121.8 336.0 124.6 335.5 126.2 334.6 127.0 333.3 127.4 331.4 127.8 324.3 128.5 234.6 129.0 318.3 129.4 330.5 130.0 333.4 130.6 334.2 131.4 334.7 133.0 334.9 134.8 334.5 136.2 333.8 137.2 332.8 138.0 331.1 138.4 329.2 138.8 322.7 139.6 162.6 140.4 321.5 140.8 329.0 141.2 330.9 141.8 332.4 142.8 333.6 144.2 334.4 146.2 334.9 149.0 335.1 182.4 335.0 192.8 334.7 194.6 334.3 195.4 333.3 197.2 326.7 197.6 327.5 199.0 333.2 199.6 334.0 200.4 334.4 207.4 334.7 224.4 334.3 227.2 333.9 228.4 333.2 229.0 331.8 230.2 326.2 231.6 332.0 232.4 332.6 233.8 332.0 234.4 331.2 235.0 329.2 236.4 320.8 236.8 321.5 237.4 324.2 237.8 324.8 238.2 323.0 238.4 320.3 238.8 299.3 239.5 163.2 240.2 300.2 240.6 320.4 241.0 324.8 241.4 326.5 242.8 328.9 244.0 330.3 245.4 331.1 247.4 331.5 253.4 331.6 258.0 331.1 260.6 330.1 262.0 328.4 262.8 325.6 263.4 319.0 264.9 276.3 266.4 320.7 267.0 326.3 267.4 327.9 268.2 329.5 269.2 330.5 270.4 331.1 275.0 332.1 306.0 334.2 L306.0 341.3 L23.6 341.3 Z" fill="#ff5f00"/><path d="M23.6 332.0 30.0 332.6 31.6 332.4 33.0 331.6 34.2 330.3 35.2 328.6 38.8 320.3 39.6 319.3 40.2 319.1 41.0 319.7 41.8 321.1 45.0 329.4 46.6 332.4 47.6 333.6 48.8 334.5 51.8 335.5 57.4 336.2 60.8 336.3 62.0 335.9 63.8 334.5 64.3 334.3 65.0 334.6 66.8 336.1 68.8 336.5 106.6 336.6 121.8 336.0 124.6 335.6 126.2 334.8 127.0 333.3 127.4 331.4 127.8 323.7 128.5 227.2 129.0 317.3 129.4 330.4 130.0 333.4 130.6 334.4 131.4 334.9 133.0 335.0 134.8 334.7 136.2 334.0 137.2 333.0 138.0 331.4 138.4 329.6 138.8 323.2 139.6 162.9 140.4 321.7 140.8 329.3 141.2 331.3 141.8 332.7 142.8 333.8 144.2 334.5 146.2 335.0 149.0 335.2 182.6 335.1 192.8 334.9 194.6 334.5 195.4 333.7 197.3 327.2 197.6 327.8 199.0 333.3 199.6 334.2 200.4 334.6 207.4 334.8 224.4 334.4 227.2 334.0 228.4 333.4 229.0 332.0 230.2 326.7 231.6 332.3 232.4 332.8 233.8 332.3 234.4 331.5 235.0 329.6 236.4 321.7 236.8 322.3 237.4 324.8 237.8 325.2 238.2 323.4 238.4 320.7 238.8 299.6 239.5 163.2 240.2 300.6 240.6 321.0 241.0 325.5 241.6 327.8 243.0 329.9 244.4 331.1 246.2 331.6 249.2 331.9 254.6 331.8 258.8 331.1 261.0 330.1 262.2 328.3 263.0 324.7 263.4 319.7 264.9 276.3 266.4 321.4 267.0 326.8 267.4 328.3 268.2 329.9 269.2 330.8 270.6 331.5 275.2 332.4 306.0 334.4 L306.0 341.3 L23.6 341.3 Z" fill="#ff4700"/><path d="M23.6 332.3 30.0 333.0 31.6 332.7 33.0 332.1 34.2 330.9 35.2 329.3 38.8 321.6 39.6 320.7 40.2 320.5 40.8 320.8 41.6 322.0 44.8 329.7 46.6 332.9 48.6 334.7 51.6 335.6 57.4 336.2 60.8 336.3 62.0 336.0 63.8 334.5 64.3 334.3 65.0 334.6 66.8 336.1 68.8 336.6 106.8 336.6 122.0 336.1 124.8 335.7 126.2 334.9 127.0 333.4 127.4 331.3 127.8 323.1 128.5 219.8 129.0 316.3 129.4 330.3 130.0 333.5 130.6 334.5 131.4 335.0 133.0 335.2 135.0 334.8 136.4 334.1 137.4 333.0 138.2 331.0 138.6 328.1 139.0 309.1 139.6 163.3 140.4 321.9 140.8 329.6 141.6 332.6 142.4 333.7 143.8 334.6 145.8 335.1 148.6 335.4 182.6 335.2 192.8 335.0 194.6 334.7 195.4 334.0 196.0 332.6 197.0 328.4 197.3 327.8 199.0 333.4 199.6 334.3 200.4 334.7 207.0 335.0 224.2 334.6 227.2 334.2 228.4 333.6 229.0 332.3 230.2 327.3 231.6 332.5 232.4 333.1 233.8 332.6 234.4 331.8 235.0 330.1 236.4 322.6 236.8 323.2 237.4 325.4 237.6 325.7 237.8 325.7 238.2 323.8 238.4 321.1 238.8 299.9 239.5 163.1 240.2 301.1 240.6 321.5 241.0 326.1 241.6 328.5 242.8 330.3 244.4 331.5 246.4 332.0 249.8 332.1 254.8 332.0 258.8 331.3 261.0 330.3 262.2 328.7 263.0 325.2 263.4 320.5 264.9 276.4 266.2 318.8 266.8 326.2 267.2 328.1 268.0 329.9 269.0 331.0 270.4 331.7 275.0 332.7 306.0 334.6 L306.0 341.3 L23.6 341.3 Z" fill="#ff3000"/><path d="M23.6 332.6 30.0 333.3 31.6 333.1 33.0 332.5 34.2 331.5 35.2 330.0 38.8 322.8 39.6 322.0 40.2 321.8 40.8 322.2 41.6 323.2 44.8 330.4 46.4 333.1 48.4 334.8 51.4 335.7 57.4 336.3 60.8 336.4 62.0 336.0 63.8 334.5 64.3 334.3 65.0 334.5 66.8 336.1 68.8 336.6 106.8 336.7 122.2 336.2 124.8 335.8 126.2 335.0 127.0 333.5 127.4 331.4 127.8 322.7 128.5 214.2 129.0 315.5 129.4 330.2 130.0 333.7 130.6 334.7 131.4 335.2 133.0 335.4 135.0 335.0 136.4 334.4 137.4 333.3 138.2 331.3 138.6 328.5 139.0 309.8 139.6 163.7 140.4 322.1 140.8 330.0 141.6 332.9 142.4 333.9 143.8 334.8 145.6 335.2 148.4 335.5 192.8 335.1 194.8 334.8 195.6 334.0 197.4 328.3 197.8 329.1 199.0 333.6 199.6 334.5 200.4 334.8 206.8 335.1 224.2 334.7 227.2 334.4 228.4 333.8 229.0 332.6 230.2 327.8 231.6 332.8 232.4 333.3 233.8 332.8 234.4 332.1 235.0 330.5 236.4 323.5 236.8 324.0 237.4 326.0 237.6 326.3 237.8 326.2 238.4 321.4 238.8 300.2 239.5 163.1 240.2 301.5 240.6 322.1 241.0 326.8 241.6 329.3 242.6 330.9 244.2 331.9 246.6 332.3 251.0 332.4 255.4 332.2 259.2 331.4 261.0 330.6 262.2 329.1 263.0 325.8 263.6 317.3 264.9 276.4 266.2 319.6 266.8 326.7 267.2 328.6 268.0 330.3 269.0 331.3 270.4 332.0 275.0 332.9 306.0 334.8 L306.0 341.3 L23.6 341.3 Z" fill="#ff1800"/></g><path d="M23.6 307.8L26.6 307.1 28.4 306.1 30.0 304.1 31.6 300.8 33.0 296.6 34.2 291.7 38.6 269.6 39.6 266.5 40.2 265.5 40.6 265.3 41.2 265.7 41.8 266.9 43.2 272.6 48.0 304.5 49.4 312.3 50.6 317.5 52.0 322.0 53.4 325.0 55.2 327.4 57.6 329.2 59.4 330.2 61.2 330.8 63.0 331.2 65.0 331.4 87.2 331.7 103.4 331.7 107.6 331.5 111.6 331.0 115.8 330.1 119.2 329.1 121.8 328.0 123.4 326.9 124.6 325.7 125.6 324.2 127.4 320.9 128.3 320.0 129.0 320.3 131.0 322.7 132.4 323.6 133.2 323.6 134.0 323.4 135.4 322.1 136.6 319.9 137.6 316.4 138.2 312.1 138.4 308.5 138.8 268.4 139.3 144.9 139.8 274.6 140.2 308.1 140.6 312.7 141.4 316.5 142.6 320.0 144.2 322.6 145.6 323.8 147.2 324.5 149.2 325.0 152.0 325.2 179.0 324.6 188.0 324.0 190.4 323.5 192.0 322.5 193.2 320.9 195.2 316.7 195.6 316.1 196.1 315.9 196.6 316.1 197.0 316.7 198.6 319.9 199.6 321.4 200.6 322.3 202.0 322.8 206.2 323.0 216.2 322.6 222.0 322.1 225.8 321.4 227.0 320.9 227.8 320.3 228.6 318.9 229.0 317.0 230.2 307.8 230.4 308.5 231.2 314.9 231.6 316.7 232.0 317.3 232.4 317.3 233.2 316.7 233.8 315.9 234.4 314.4 235.0 311.4 236.4 299.2 236.6 299.1 236.8 299.9 237.8 305.1 238.0 305.5 238.4 305.3 239.2 302.9 241.2 293.7 241.6 292.6 242.1 292.0 242.6 292.5 243.0 293.6 245.2 303.1 246.2 306.5 247.2 309.0 248.2 310.5 249.0 311.4 250.0 312.0 251.2 312.5 252.6 312.7 254.2 312.7 255.6 312.5 257.0 311.9 258.0 311.2 258.8 310.4 259.6 309.2 261.0 305.5 262.2 299.9 264.0 289.1 264.4 287.5 264.8 287.0 265.2 287.4 265.6 288.9 267.8 302.7 269.0 308.2 269.8 310.6 270.6 312.4 271.6 313.9 272.6 315.0 274.4 316.4 276.6 317.6 279.6 318.9 283.2 320.2 292.8 322.7 306.0 325.6" stroke="#0000f0" stroke-width="0.8"/><path d="M23.6 308.3L26.6 307.7 28.4 306.7 30.0 304.8 31.6 301.6 33.0 297.5 34.2 292.7 38.6 270.9 39.6 267.8 40.2 266.9 40.6 266.7 41.2 267.2 41.8 268.4 43.2 274.1 48.0 305.5 49.4 313.1 50.6 318.1 52.0 322.5 53.4 325.3 55.4 327.8 57.8 329.5 59.6 330.4 61.6 331.1 65.4 331.5 89.2 331.8 104.4 331.8 108.0 331.6 112.0 331.0 116.2 330.2 119.4 329.2 121.8 328.2 123.4 327.1 124.6 325.9 125.6 324.5 127.4 321.2 128.3 320.3 129.0 320.5 131.0 322.9 132.4 323.8 133.2 323.9 134.0 323.6 134.8 323.1 135.6 322.1 136.8 319.6 137.6 316.7 138.2 312.5 138.4 308.9 138.8 269.4 139.3 145.2 139.8 274.4 140.2 308.4 140.6 313.0 141.4 316.8 142.6 320.3 144.2 322.9 145.6 324.0 147.2 324.7 149.4 325.2 152.2 325.4 179.4 324.8 188.2 324.2 190.6 323.6 192.2 322.5 193.4 320.6 195.2 316.5 195.6 315.9 196.1 315.6 196.8 316.2 198.6 320.0 199.6 321.6 200.6 322.5 202.0 323.0 206.4 323.2 216.4 322.8 222.2 322.3 226.0 321.5 227.8 320.5 228.6 319.1 229.0 317.2 230.2 307.9 230.4 308.6 231.2 315.1 231.6 316.9 232.0 317.5 232.4 317.5 233.2 316.9 233.8 316.1 234.4 314.6 235.0 311.5 236.4 299.0 236.6 299.0 236.8 299.7 237.8 305.1 238.0 305.5 238.2 305.5 238.4 305.3 239.2 302.8 241.2 293.2 241.6 292.0 242.1 291.4 242.6 291.9 243.0 293.1 246.0 306.0 246.8 308.3 247.8 310.2 249.2 311.8 251.0 312.7 253.4 313.0 255.8 312.7 257.4 312.0 258.6 311.0 259.6 309.5 260.4 307.7 261.2 305.0 262.0 301.2 264.0 288.8 264.4 287.2 264.9 286.5 265.2 287.0 265.6 288.6 267.6 301.7 268.8 307.7 269.6 310.3 270.4 312.2 271.4 313.9 272.4 315.0 274.2 316.4 276.4 317.7 279.4 319.0 283.0 320.2 292.4 322.7 306.0 325.7" stroke="#0018f3" stroke-width="0.72"/><path d="M23.6 308.8L26.6 308.2 28.4 307.3 30.0 305.5 31.6 302.4 33.0 298.4 34.2 293.6 38.6 272.2 39.6 269.2 40.2 268.3 40.6 268.1 41.2 268.6 41.8 269.8 43.0 274.5 44.2 281.4 48.0 306.5 49.4 313.8 50.6 318.7 52.0 322.9 53.4 325.6 55.2 327.8 57.6 329.6 61.2 331.1 63.0 331.5 64.8 331.6 88.4 331.9 104.4 331.9 108.0 331.7 112.0 331.1 116.2 330.3 119.4 329.4 121.8 328.4 123.4 327.3 124.6 326.1 125.6 324.7 127.4 321.5 128.3 320.6 129.0 320.8 131.0 323.2 132.4 324.0 133.2 324.1 134.0 323.9 134.8 323.3 135.6 322.4 136.8 319.9 137.6 317.0 138.2 312.8 138.4 309.3 138.8 270.3 139.3 145.6 139.8 274.2 140.2 308.7 140.6 313.3 141.4 317.1 142.6 320.6 144.2 323.1 145.6 324.2 147.2 324.9 149.4 325.4 152.2 325.6 179.6 325.0 188.4 324.4 190.8 323.8 192.2 322.7 193.4 320.7 195.4 316.0 196.1 315.3 196.4 315.5 196.8 316.0 198.6 320.1 199.4 321.5 200.4 322.6 201.8 323.2 206.0 323.4 216.2 323.0 222.2 322.5 226.0 321.8 227.8 320.8 228.6 319.3 229.0 317.4 230.2 308.0 230.4 308.8 231.2 315.3 231.6 317.1 232.0 317.7 232.4 317.7 233.2 317.1 233.8 316.3 234.4 314.7 235.0 311.5 236.4 298.8 236.6 298.8 236.8 299.6 237.8 305.1 238.0 305.5 238.2 305.5 238.4 305.3 239.2 302.7 241.2 292.6 241.6 291.4 242.1 290.8 242.6 291.3 243.0 292.6 245.0 302.2 246.0 306.1 246.8 308.4 247.8 310.4 249.2 312.0 251.0 313.0 253.4 313.3 256.0 312.9 257.6 312.2 258.8 311.0 259.8 309.4 260.6 307.4 262.0 301.4 264.0 288.5 264.4 286.8 264.9 286.1 265.2 286.7 265.6 288.3 267.6 301.9 268.8 307.9 269.6 310.6 270.4 312.5 271.4 314.1 272.4 315.2 274.2 316.6 276.4 317.8 282.8 320.3 292.0 322.7 306.0 325.8" stroke="#0030f6" stroke-width="0.72"/><path d="M23.6 309.3L26.6 308.8 28.4 307.9 30.0 306.2 31.6 303.2 33.0 299.2 34.2 294.6 38.6 273.4 39.6 270.5 40.2 269.7 40.6 269.5 41.2 270.0 41.8 271.3 43.0 276.0 44.2 282.8 47.8 306.3 49.2 313.6 50.4 318.6 51.8 322.8 53.2 325.6 55.0 327.8 57.6 329.7 61.2 331.2 64.6 331.7 88.2 332.0 104.2 332.0 108.0 331.8 112.2 331.2 116.2 330.4 119.4 329.6 121.8 328.6 123.4 327.5 124.6 326.3 125.6 324.9 127.4 321.7 128.3 320.9 129.0 321.1 131.0 323.4 132.4 324.3 133.2 324.3 134.0 324.1 134.8 323.5 135.6 322.6 136.8 320.2 137.6 317.3 138.2 313.2 138.4 309.7 138.8 271.3 139.3 146.0 139.8 274.0 140.2 309.0 140.6 313.7 141.4 317.5 142.6 320.8 144.2 323.3 145.6 324.4 147.2 325.1 149.4 325.6 152.2 325.8 179.6 325.2 188.6 324.5 191.0 323.9 192.4 322.6 193.4 320.9 195.4 315.8 196.1 315.1 196.4 315.2 196.8 315.8 198.6 320.2 199.4 321.7 200.4 322.8 201.8 323.4 206.0 323.6 216.2 323.2 222.2 322.7 226.0 322.0 227.8 321.0 228.6 319.5 229.0 317.6 230.2 308.2 230.4 308.9 231.2 315.5 231.6 317.3 232.0 317.9 232.4 317.9 233.2 317.3 233.8 316.5 234.4 314.9 235.0 311.6 236.4 298.6 236.6 298.6 236.8 299.4 237.8 305.2 238.0 305.5 238.2 305.6 238.4 305.4 239.2 302.7 241.2 292.1 241.6 290.8 242.1 290.1 242.6 290.8 243.0 292.1 245.8 305.6 246.8 308.6 247.8 310.7 249.2 312.3 251.0 313.2 253.4 313.6 256.0 313.2 257.6 312.5 258.8 311.4 259.8 309.8 260.6 307.8 262.0 301.7 264.0 288.2 264.4 286.4 264.9 285.7 265.2 286.3 265.6 288.0 267.6 302.1 268.8 308.2 270.2 312.3 271.2 314.1 272.2 315.2 273.8 316.5 276.0 317.8 279.0 319.1 282.6 320.3 291.6 322.7 306.0 325.8" stroke="#0047f8" stroke-width="0.72"/><path d="M23.6 309.9L26.6 309.3 28.4 308.5 30.0 306.9 31.6 304.0 32.8 300.8 34.0 296.4 38.6 274.7 39.6 271.9 40.2 271.1 40.6 270.9 41.2 271.4 41.8 272.7 43.0 277.4 47.8 307.2 49.2 314.4 50.4 319.1 51.8 323.2 53.2 325.9 55.0 328.0 57.6 329.8 61.2 331.3 64.6 331.8 88.2 332.1 104.2 332.1 108.0 331.9 112.2 331.4 116.2 330.6 119.4 329.7 121.8 328.7 123.4 327.7 124.6 326.5 125.6 325.2 127.4 322.0 128.3 321.2 129.0 321.4 131.0 323.6 132.4 324.5 133.2 324.6 134.0 324.3 134.8 323.8 135.6 322.9 136.8 320.5 137.6 317.6 138.2 313.5 138.4 310.1 138.8 272.2 139.3 146.3 139.8 273.8 140.2 309.3 140.6 314.0 141.4 317.8 142.6 321.1 144.2 323.5 145.6 324.7 147.2 325.3 149.4 325.8 152.2 326.0 179.8 325.4 185.2 325.1 188.8 324.7 191.0 324.1 192.4 322.9 193.6 320.6 195.4 315.6 196.1 314.8 196.4 315.0 196.8 315.6 198.4 319.9 199.4 321.9 200.4 323.0 201.6 323.6 205.6 323.8 215.8 323.5 222.0 323.0 226.0 322.2 227.8 321.2 228.6 319.8 229.0 317.8 230.2 308.3 230.4 309.0 231.2 315.7 231.6 317.5 232.0 318.1 232.4 318.1 233.2 317.5 233.8 316.7 234.4 315.1 235.0 311.8 236.4 298.5 236.6 298.5 236.8 299.3 237.8 305.2 238.0 305.6 238.2 305.6 238.4 305.4 239.2 302.6 241.2 291.6 241.6 290.2 242.1 289.5 242.6 290.2 243.0 291.6 245.8 305.7 246.6 308.3 247.6 310.6 249.0 312.4 250.8 313.4 253.4 313.9 256.0 313.5 257.6 312.8 258.8 311.7 259.8 310.1 260.6 308.1 262.0 301.9 264.2 286.9 264.6 285.5 264.9 285.3 265.2 285.9 265.6 287.7 267.6 302.3 268.8 308.5 270.2 312.6 271.2 314.3 272.2 315.5 273.8 316.7 276.0 318.0 278.8 319.2 282.4 320.4 291.0 322.6 306.0 325.9" stroke="#005ffb" stroke-width="0.72"/><path d="M23.6 310.4L26.8 309.8 28.6 309.0 30.2 307.3 31.6 304.8 32.8 301.6 34.0 297.3 38.6 276.0 39.6 273.2 40.2 272.5 40.6 272.4 41.2 272.9 41.8 274.2 43.0 278.9 47.8 308.2 49.2 315.1 50.4 319.7 51.8 323.6 53.4 326.5 55.4 328.5 57.8 330.1 61.4 331.5 64.8 331.9 89.4 332.2 104.4 332.2 108.2 332.0 112.4 331.4 116.4 330.7 119.6 329.8 122.0 328.8 123.4 327.9 124.6 326.8 125.6 325.4 127.4 322.3 128.3 321.4 129.0 321.6 131.0 323.9 132.4 324.7 133.2 324.8 134.0 324.6 134.8 324.0 135.6 323.1 136.8 320.7 137.6 318.0 138.2 313.9 138.4 310.5 138.8 273.1 139.3 146.7 139.8 273.6 140.2 309.6 140.6 314.3 141.4 318.1 142.6 321.4 144.2 323.8 145.6 324.9 147.2 325.5 149.4 326.0 152.4 326.2 180.2 325.5 185.4 325.3 189.0 324.9 191.0 324.3 192.4 323.1 193.6 320.7 195.4 315.4 196.1 314.6 196.4 314.7 196.8 315.4 198.4 320.0 199.2 321.8 200.2 323.1 201.6 323.8 205.8 324.0 216.2 323.7 222.4 323.2 226.2 322.4 227.8 321.5 228.6 320.0 229.0 318.0 230.2 308.4 230.4 309.2 231.2 315.9 231.8 318.1 232.2 318.4 232.8 318.1 233.4 317.5 234.0 316.4 234.6 314.4 235.0 311.9 236.4 298.3 236.6 298.3 236.8 299.2 237.8 305.2 238.0 305.6 238.2 305.7 238.4 305.5 239.2 302.6 241.2 291.1 241.6 289.6 242.1 288.9 242.6 289.6 243.0 291.1 245.8 305.8 246.6 308.5 247.6 310.8 249.0 312.6 250.0 313.3 251.0 313.8 253.6 314.2 256.2 313.8 257.8 313.0 259.0 311.8 260.0 310.1 260.8 307.8 262.2 301.0 264.2 286.6 264.6 285.1 264.9 284.9 265.2 285.5 265.6 287.4 267.4 301.2 268.6 307.9 270.0 312.4 271.0 314.3 272.0 315.5 273.6 316.8 275.6 317.9 278.4 319.2 282.0 320.4 290.4 322.6 306.0 326.0" stroke="#0077fe" stroke-width="0.72"/><path d="M23.6 310.9L26.8 310.4 28.6 309.6 30.2 308.0 31.6 305.6 32.8 302.5 34.0 298.2 38.6 277.4 39.6 274.7 40.2 273.9 40.6 273.8 41.2 274.4 41.8 275.7 43.0 280.4 47.6 308.1 49.0 315.0 50.2 319.6 51.6 323.6 53.2 326.5 55.2 328.6 57.8 330.2 61.4 331.6 64.8 332.0 90.2 332.3 104.4 332.3 108.4 332.1 112.6 331.5 116.6 330.8 119.8 329.9 122.0 329.0 123.4 328.1 124.6 327.0 125.6 325.6 127.4 322.5 128.3 321.7 129.0 321.9 131.0 324.1 132.4 325.0 133.2 325.0 134.0 324.8 134.8 324.3 135.6 323.4 137.0 320.5 138.0 316.0 138.4 311.0 138.6 301.5 139.3 147.0 139.8 273.4 140.2 309.9 140.6 314.6 141.4 318.4 142.6 321.6 144.2 324.0 145.6 325.1 147.2 325.7 149.4 326.2 152.4 326.3 180.4 325.7 185.8 325.4 189.2 325.0 191.2 324.4 192.0 323.8 192.6 323.0 193.6 320.9 195.4 315.2 196.1 314.3 196.4 314.5 196.8 315.3 198.4 320.2 199.2 322.0 200.2 323.3 201.4 324.0 205.4 324.3 215.8 323.9 222.4 323.4 226.2 322.6 227.8 321.7 228.6 320.2 229.0 318.2 230.2 308.6 230.4 309.3 231.2 316.1 231.8 318.3 232.2 318.6 232.8 318.3 233.4 317.7 234.0 316.6 234.6 314.5 235.0 312.0 236.4 298.1 236.6 298.2 236.8 299.1 237.8 305.3 238.0 305.7 238.2 305.8 238.4 305.6 239.4 301.5 241.2 290.6 241.6 289.0 242.1 288.3 242.6 289.1 243.0 290.7 244.8 301.2 245.8 306.0 246.6 308.7 247.6 311.1 249.0 312.9 251.0 314.0 253.6 314.4 256.2 314.1 257.8 313.3 259.0 312.1 260.0 310.4 260.8 308.2 262.2 301.2 264.2 286.3 264.6 284.7 264.9 284.5 265.2 285.1 265.6 287.1 267.4 301.4 268.6 308.3 270.0 312.7 270.8 314.2 272.0 315.7 273.6 317.0 275.6 318.1 278.4 319.3 281.8 320.4 289.8 322.5 306.0 326.0" stroke="#008cfd" stroke-width="0.72"/><path d="M23.6 311.4L26.8 310.9 28.6 310.2 30.2 308.7 31.6 306.4 32.8 303.4 34.0 299.2 38.6 278.8 39.6 276.1 40.2 275.4 40.6 275.4 41.0 275.7 41.6 276.7 42.8 281.0 44.0 287.3 47.6 309.0 49.0 315.7 50.2 320.2 51.6 324.0 53.2 326.8 55.2 328.7 57.8 330.4 61.2 331.7 64.4 332.1 89.6 332.4 104.4 332.4 108.4 332.2 112.6 331.7 116.6 330.9 119.8 330.1 122.0 329.2 123.4 328.3 124.6 327.2 125.6 325.9 127.4 322.8 128.3 322.0 129.0 322.2 131.0 324.4 132.4 325.2 133.2 325.3 134.0 325.0 134.8 324.5 135.6 323.6 137.0 320.8 138.0 316.3 138.4 311.4 138.6 302.1 139.3 147.4 139.8 273.2 140.2 310.1 140.6 315.0 141.4 318.7 142.6 321.9 144.0 324.0 145.4 325.2 147.0 325.9 149.2 326.3 152.2 326.5 180.4 325.9 185.8 325.6 189.4 325.2 191.4 324.5 192.6 323.3 193.6 321.1 195.4 315.0 195.8 314.2 196.1 314.0 196.4 314.3 196.8 315.1 198.4 320.4 199.2 322.3 200.2 323.6 201.4 324.2 205.6 324.5 216.0 324.2 222.4 323.6 226.2 322.9 227.8 321.9 228.6 320.4 229.0 318.4 230.2 308.7 230.4 309.5 231.2 316.3 231.8 318.5 232.2 318.8 232.8 318.5 233.4 317.9 234.0 316.8 234.6 314.7 235.0 312.1 236.4 298.0 236.6 298.0 236.8 298.9 237.8 305.4 238.0 305.8 238.2 305.9 238.4 305.7 239.4 301.5 241.2 290.1 241.6 288.4 242.1 287.7 242.6 288.5 243.0 290.2 244.8 301.3 245.8 306.2 246.6 309.0 247.6 311.3 249.0 313.1 251.0 314.3 253.6 314.7 256.2 314.4 257.8 313.6 259.0 312.5 260.0 310.8 260.8 308.5 262.2 301.5 264.2 286.0 264.6 284.3 264.9 284.1 265.2 284.7 265.6 286.8 267.4 301.6 268.6 308.6 270.0 313.0 270.8 314.5 271.8 315.7 273.4 317.1 275.4 318.2 278.0 319.3 281.4 320.5 288.8 322.3 306.0 326.1" stroke="#009ffa" stroke-width="0.72"/><path d="M23.6 311.9L26.8 311.5 28.6 310.8 30.2 309.4 31.6 307.2 32.8 304.2 34.0 300.2 38.4 280.9 39.4 278.0 40.0 277.1 40.4 276.9 41.0 277.2 41.6 278.3 42.8 282.6 47.6 310.0 49.0 316.5 50.2 320.8 51.6 324.4 53.2 327.0 55.2 328.9 57.8 330.5 61.2 331.8 64.3 332.3 90.4 332.5 104.4 332.5 108.6 332.2 112.8 331.8 116.8 331.0 119.8 330.3 122.0 329.4 123.4 328.5 124.6 327.4 125.6 326.1 127.4 323.1 128.3 322.3 129.0 322.5 131.0 324.6 132.4 325.4 133.2 325.5 134.0 325.3 134.8 324.8 135.6 323.9 137.0 321.0 138.0 316.7 138.4 311.8 138.6 302.6 139.3 147.8 139.8 272.9 140.2 310.4 140.6 315.3 141.2 318.3 142.4 321.7 144.0 324.2 145.4 325.4 147.0 326.1 149.2 326.5 152.2 326.7 180.6 326.1 186.0 325.8 189.6 325.4 191.6 324.6 192.8 323.2 193.8 320.6 195.4 314.8 195.8 314.0 196.1 313.8 196.4 314.0 196.8 314.9 198.2 319.9 199.0 322.1 200.0 323.6 201.2 324.3 202.6 324.6 205.2 324.7 215.6 324.4 222.2 323.9 226.2 323.1 227.8 322.1 228.6 320.6 229.0 318.6 230.2 308.9 230.4 309.6 231.2 316.5 231.8 318.7 232.2 319.0 232.8 318.7 233.4 318.1 234.0 317.0 234.6 314.9 235.0 312.2 236.4 297.9 236.6 297.9 236.8 298.9 237.8 305.5 238.0 305.9 238.2 306.0 238.4 305.8 239.4 301.5 241.2 289.6 241.6 287.9 242.1 287.0 242.6 288.0 243.0 289.7 245.6 305.5 246.4 308.6 247.4 311.2 248.8 313.2 249.8 314.0 250.8 314.5 252.2 314.9 253.6 315.0 255.0 315.0 256.4 314.6 257.8 313.9 259.0 312.8 260.0 311.2 260.8 308.9 262.2 301.8 264.2 285.7 264.6 283.9 264.9 283.7 265.2 284.3 265.6 286.5 267.4 301.9 268.4 308.0 269.8 312.9 270.6 314.4 271.8 316.0 273.2 317.1 275.2 318.3 277.8 319.4 281.2 320.5 288.2 322.3 306.0 326.2" stroke="#00b2f8" stroke-width="0.72"/><path d="M23.6 312.4L26.8 312.0 28.6 311.4 30.2 310.1 31.6 307.9 32.8 305.1 34.0 301.1 38.4 282.2 39.4 279.5 40.0 278.6 40.4 278.4 41.0 278.8 41.6 279.9 42.8 284.1 47.6 311.0 48.8 316.4 50.2 321.3 51.6 324.7 53.2 327.3 55.2 329.1 58.0 330.7 61.6 332.0 64.8 332.4 92.4 332.6 104.6 332.6 109.0 332.3 116.8 331.2 119.8 330.4 122.0 329.6 123.4 328.7 124.6 327.6 125.6 326.3 127.4 323.4 128.3 322.6 128.8 322.6 129.2 322.9 131.4 325.2 132.6 325.7 133.4 325.7 134.2 325.4 135.0 324.8 135.8 323.8 136.6 322.4 137.2 320.7 138.0 317.0 138.4 312.2 138.6 303.2 139.3 148.1 139.8 272.7 140.2 310.7 140.6 315.6 141.2 318.6 142.4 322.0 144.0 324.5 145.4 325.6 147.0 326.3 149.2 326.7 152.2 326.9 180.8 326.3 186.2 326.0 189.6 325.6 191.6 324.8 192.8 323.4 193.8 320.8 195.4 314.7 195.8 313.7 196.1 313.5 196.4 313.8 196.8 314.8 198.2 320.1 199.0 322.4 200.0 323.9 201.2 324.6 202.8 324.8 205.2 324.9 215.6 324.6 222.2 324.1 226.2 323.3 227.8 322.4 228.6 320.9 229.0 318.9 230.2 309.0 230.4 309.8 231.2 316.7 231.8 319.0 232.2 319.2 232.8 319.0 233.4 318.3 234.0 317.2 234.6 315.0 235.0 312.3 236.4 297.7 236.6 297.8 236.8 298.8 237.8 305.6 238.0 306.1 238.2 306.2 238.4 305.9 239.4 301.6 241.2 289.1 241.6 287.3 242.1 286.4 242.6 287.4 243.0 289.3 245.6 305.7 246.4 308.9 247.4 311.5 248.8 313.5 249.8 314.3 250.8 314.8 252.2 315.2 253.6 315.3 255.0 315.3 256.4 314.9 258.0 314.1 259.2 312.9 260.2 311.1 261.0 308.6 262.2 302.2 264.2 285.4 264.6 283.6 264.9 283.2 265.2 284.0 265.6 286.3 267.2 300.6 268.4 308.3 269.0 310.8 269.8 313.2 270.6 314.7 271.6 316.0 273.0 317.2 275.0 318.4 277.6 319.5 280.8 320.5 287.2 322.2 306.0 326.2" stroke="#00c5f5" stroke-width="0.72"/><path d="M23.6 312.9L26.8 312.6 28.6 312.0 30.2 310.8 31.6 308.7 32.8 305.9 34.0 302.0 38.4 283.6 39.4 280.9 40.0 280.1 40.4 279.9 40.8 280.1 41.4 281.0 42.6 284.8 43.8 290.6 47.6 311.9 48.8 317.1 50.2 321.8 51.6 325.1 53.2 327.5 55.2 329.3 58.2 331.0 61.6 332.2 65.0 332.5 93.4 332.7 104.8 332.7 109.2 332.4 117.0 331.3 119.8 330.6 122.0 329.7 123.4 328.9 124.6 327.8 125.6 326.6 127.4 323.6 128.3 322.8 128.8 322.9 129.2 323.2 131.4 325.4 132.6 325.9 133.4 325.9 134.2 325.6 135.0 325.1 135.8 324.1 136.6 322.6 137.2 321.0 138.0 317.4 138.4 312.6 138.6 303.7 139.3 148.5 139.8 272.5 140.2 311.0 140.6 316.0 141.2 318.9 142.4 322.3 144.0 324.7 145.4 325.8 147.0 326.5 149.2 326.9 152.2 327.1 181.0 326.5 186.4 326.2 189.8 325.7 191.0 325.4 191.8 324.9 193.0 323.3 194.0 320.3 195.4 314.5 195.8 313.5 196.1 313.3 196.4 313.6 196.8 314.7 198.2 320.3 199.0 322.6 199.8 323.9 201.0 324.7 202.4 325.0 205.0 325.1 215.6 324.9 222.6 324.3 226.4 323.5 227.8 322.6 228.6 321.1 229.0 319.1 230.2 309.1 230.4 309.9 231.2 316.9 231.8 319.2 232.2 319.5 232.8 319.2 233.4 318.5 234.0 317.4 234.6 315.2 235.0 312.5 236.4 297.6 236.6 297.7 236.8 298.7 237.8 305.7 238.0 306.2 238.2 306.3 238.4 306.1 239.4 301.6 241.2 288.7 241.6 286.7 242.1 285.8 242.6 286.8 243.0 288.9 244.6 300.2 245.6 305.9 246.4 309.1 247.4 311.8 248.2 313.1 249.0 314.0 251.0 315.2 253.8 315.6 255.2 315.5 256.6 315.2 258.0 314.5 259.2 313.3 260.2 311.5 261.0 309.0 262.4 301.0 264.2 285.1 264.6 283.2 264.9 282.8 265.2 283.6 265.6 286.0 267.2 300.8 268.4 308.7 269.0 311.2 269.8 313.5 270.6 315.0 271.6 316.3 273.0 317.4 275.0 318.6 280.6 320.6 286.6 322.1 306.0 326.3" stroke="#00d8f2" stroke-width="0.72"/><path d="M23.6 313.4L27.0 313.1 28.8 312.5 30.2 311.4 31.6 309.4 32.8 306.7 34.0 302.9 38.4 284.8 39.4 282.2 40.0 281.4 40.4 281.2 40.8 281.4 41.4 282.3 42.6 286.1 47.4 311.8 48.6 317.1 50.0 321.8 51.6 325.5 53.2 327.8 55.2 329.5 58.2 331.1 61.6 332.3 64.8 332.6 93.8 332.8 104.8 332.8 109.4 332.5 117.2 331.4 120.0 330.7 122.2 329.8 123.4 329.1 124.6 328.0 125.6 326.8 127.4 323.9 128.3 323.1 129.2 323.5 131.4 325.7 132.6 326.2 133.4 326.2 134.2 325.9 135.0 325.3 135.8 324.4 136.6 322.9 137.2 321.3 138.0 317.7 138.4 313.0 138.6 304.3 139.3 148.8 139.8 272.2 140.2 311.3 140.6 316.3 141.2 319.2 142.4 322.6 144.0 324.9 145.4 326.0 147.0 326.7 149.2 327.1 152.4 327.3 181.2 326.7 186.6 326.4 190.0 325.9 191.8 325.2 192.4 324.6 193.0 323.6 194.0 320.6 195.4 314.3 195.8 313.2 196.1 313.0 196.4 313.3 196.8 314.5 198.0 319.8 198.8 322.5 199.8 324.2 201.0 325.0 202.6 325.3 205.2 325.4 215.8 325.1 222.6 324.5 226.4 323.7 227.8 322.9 228.6 321.3 229.0 319.3 230.2 309.3 230.4 310.1 231.2 317.1 231.8 319.4 232.2 319.7 232.8 319.4 233.4 318.8 234.0 317.7 234.6 315.4 235.0 312.6 236.4 297.5 236.6 297.6 236.8 298.6 237.8 305.9 238.0 306.4 238.2 306.5 238.4 306.2 239.4 301.7 241.4 287.0 241.8 285.5 242.1 285.1 242.6 286.2 243.0 288.4 244.6 300.3 245.6 306.2 246.4 309.4 247.4 312.1 248.2 313.4 249.0 314.3 251.0 315.5 253.8 316.0 255.2 315.9 256.6 315.5 258.0 314.8 259.2 313.7 260.2 311.9 261.0 309.4 261.8 305.5 262.4 301.4 264.2 284.8 264.6 282.8 264.9 282.4 265.2 283.2 265.6 285.8 267.2 301.2 268.2 308.0 268.8 310.8 269.6 313.3 270.4 315.0 271.4 316.3 272.8 317.6 274.6 318.6 277.0 319.6 280.2 320.7 285.8 322.1 306.0 326.4" stroke="#00e6eb" stroke-width="0.72"/><path d="M23.6 314.0L27.0 313.7 28.8 313.1 30.4 311.9 31.8 309.8 33.0 306.9 34.2 302.9 38.4 285.4 39.4 282.7 40.0 281.9 40.4 281.8 40.8 281.9 41.4 282.9 42.6 286.7 47.4 312.4 48.6 317.6 50.0 322.2 51.4 325.5 53.0 327.8 55.0 329.5 58.0 331.2 61.4 332.4 64.4 332.8 93.4 333.0 104.8 332.9 109.4 332.7 117.2 331.6 120.0 330.9 122.2 330.0 123.4 329.3 124.6 328.3 125.6 327.0 127.4 324.2 128.3 323.4 129.2 323.8 131.4 326.0 132.6 326.4 133.4 326.4 134.2 326.2 135.0 325.6 135.8 324.7 136.6 323.2 137.2 321.7 138.0 318.1 138.4 313.4 138.6 304.9 139.3 149.2 139.8 272.0 140.2 311.6 140.6 316.7 141.2 319.6 142.4 322.9 143.8 325.0 145.2 326.2 146.8 326.9 149.0 327.3 152.0 327.5 181.4 327.0 186.8 326.6 190.2 326.1 191.2 325.8 192.0 325.3 193.0 323.9 194.0 320.8 195.4 314.1 195.8 312.9 196.1 312.6 196.6 313.5 198.0 320.0 198.8 322.8 199.6 324.3 200.8 325.2 202.2 325.5 204.8 325.7 215.2 325.4 222.4 324.9 225.0 324.4 226.4 324.0 227.8 323.1 228.6 321.6 229.0 319.6 230.2 309.5 230.4 310.3 231.2 317.4 231.8 319.7 232.2 320.0 232.8 319.7 233.4 319.1 234.0 317.9 234.6 315.7 235.0 312.8 236.4 297.5 236.6 297.6 236.8 298.6 237.8 306.1 238.0 306.6 238.2 306.7 238.4 306.4 239.4 301.7 241.4 286.3 241.8 284.6 242.1 284.3 242.4 284.8 242.8 286.5 245.4 305.4 246.2 309.0 247.2 312.0 248.0 313.5 248.8 314.5 249.8 315.3 250.8 315.8 252.2 316.2 253.6 316.4 255.2 316.3 256.6 315.9 258.2 315.1 259.4 313.8 260.4 311.9 261.2 309.1 262.4 301.8 264.2 284.5 264.6 282.3 264.9 281.9 265.2 282.8 265.6 285.5 267.2 301.5 268.2 308.5 268.8 311.3 269.6 313.8 270.4 315.4 271.4 316.7 272.8 317.9 274.6 319.0 277.0 320.0 280.2 321.0 285.8 322.4 306.0 326.6" stroke="#00e8d6" stroke-width="0.72"/><path d="M23.6 314.6L27.0 314.3 28.8 313.8 30.4 312.6 31.8 310.5 33.0 307.6 34.2 303.7 38.6 285.3 39.6 282.9 40.0 282.4 40.4 282.3 40.8 282.5 41.4 283.4 42.6 287.3 47.2 312.1 48.4 317.4 49.8 322.1 51.4 325.8 53.0 328.1 55.0 329.8 58.0 331.4 61.4 332.5 64.3 332.9 93.4 333.1 104.8 333.1 109.4 332.8 117.2 331.8 120.0 331.1 122.2 330.2 123.4 329.5 124.6 328.5 125.6 327.3 127.4 324.5 128.3 323.7 129.2 324.0 131.4 326.2 132.6 326.7 133.4 326.7 134.2 326.4 135.0 325.9 135.8 325.0 136.6 323.6 137.2 322.0 138.0 318.5 138.4 313.9 138.6 305.5 139.3 149.6 139.8 271.8 140.2 311.9 140.6 317.0 141.2 319.9 142.4 323.2 143.8 325.3 145.2 326.5 146.8 327.1 149.0 327.6 152.0 327.8 181.4 327.2 186.8 326.9 190.2 326.4 192.0 325.6 192.6 324.9 193.2 323.8 194.0 321.0 195.4 313.9 195.8 312.5 196.1 312.2 196.6 313.3 198.0 320.2 198.8 323.1 199.6 324.7 200.8 325.5 202.4 325.8 204.8 325.9 215.2 325.7 222.4 325.1 225.0 324.7 226.4 324.3 227.8 323.4 228.6 321.9 229.0 319.8 230.2 309.7 230.4 310.5 231.2 317.6 231.8 320.0 232.2 320.3 232.8 320.0 233.4 319.4 234.0 318.2 234.6 315.9 235.0 313.1 236.4 297.4 236.6 297.5 236.8 298.6 237.8 306.3 238.0 306.8 238.2 306.9 238.4 306.7 238.8 305.3 239.4 301.8 241.4 285.6 241.8 283.8 242.1 283.4 242.4 284.0 242.8 285.8 245.4 305.6 246.2 309.4 247.2 312.4 248.0 313.9 248.8 314.9 249.8 315.7 250.8 316.2 252.2 316.6 253.8 316.8 255.4 316.6 256.8 316.3 258.4 315.4 259.6 314.0 260.4 312.3 261.2 309.6 262.4 302.2 264.2 284.2 264.6 281.9 264.9 281.5 265.2 282.4 265.6 285.3 267.2 301.9 268.2 309.0 269.4 313.7 270.2 315.5 271.2 316.9 272.6 318.2 274.4 319.3 276.8 320.3 279.8 321.2 285.6 322.6 306.0 326.8" stroke="#00eac1" stroke-width="0.72"/><path d="M23.6 315.1L27.0 314.9 28.8 314.4 30.4 313.3 31.8 311.2 33.0 308.4 34.2 304.4 38.6 285.9 39.6 283.4 40.0 283.0 40.4 282.8 40.8 283.0 41.4 284.0 42.6 287.9 47.2 312.8 48.4 318.0 49.8 322.6 51.2 325.8 52.8 328.2 54.8 329.8 57.8 331.4 61.0 332.6 64.0 333.0 92.2 333.3 104.6 333.2 109.2 333.0 117.0 332.0 119.8 331.3 122.0 330.5 123.4 329.7 124.6 328.7 125.6 327.5 127.4 324.7 128.3 324.0 129.2 324.3 131.4 326.5 132.6 327.0 133.4 327.0 134.2 326.7 135.0 326.1 135.8 325.3 136.6 323.9 137.2 322.3 138.0 318.8 138.4 314.3 138.6 306.1 139.3 150.0 139.8 271.6 140.2 312.3 140.6 317.4 141.2 320.3 142.4 323.5 143.8 325.6 145.2 326.7 146.8 327.4 149.0 327.8 152.0 328.0 181.6 327.5 187.0 327.2 190.4 326.6 191.4 326.3 192.2 325.8 193.2 324.1 194.0 321.3 195.6 312.8 196.1 311.9 196.6 313.0 198.6 322.9 199.4 324.7 200.0 325.4 200.6 325.7 202.0 326.1 204.6 326.2 215.2 326.0 222.6 325.4 225.2 325.0 226.6 324.5 228.0 323.5 228.6 322.2 229.0 320.1 230.2 309.9 230.4 310.7 231.2 317.9 231.8 320.3 232.2 320.6 232.8 320.3 233.4 319.7 234.0 318.5 234.6 316.2 235.0 313.3 236.0 300.6 236.4 297.4 236.6 297.5 236.8 298.7 237.8 306.5 238.0 307.0 238.2 307.2 238.4 306.9 238.8 305.5 239.4 301.9 241.4 284.8 241.8 283.0 242.1 282.6 242.4 283.2 242.8 285.2 244.6 300.5 245.4 305.9 246.2 309.7 247.2 312.8 248.6 315.0 249.6 315.9 250.8 316.6 252.2 317.0 253.8 317.1 255.4 317.0 256.8 316.7 258.4 315.8 259.6 314.4 260.4 312.8 261.2 310.1 262.4 302.6 264.2 284.0 264.6 281.5 264.9 281.0 265.4 283.3 267.2 302.3 268.2 309.5 269.4 314.2 270.2 316.0 271.2 317.3 272.6 318.6 274.4 319.6 276.8 320.6 279.8 321.5 285.6 322.9 306.0 327.0" stroke="#00ecac" stroke-width="0.72"/><path d="M23.6 315.7L27.0 315.5 28.8 315.1 30.4 313.9 31.8 311.9 33.0 309.1 34.2 305.2 38.6 286.5 39.6 284.0 40.0 283.5 40.4 283.3 40.8 283.6 41.4 284.5 42.6 288.5 47.0 312.4 48.2 317.8 49.6 322.5 51.0 325.8 52.6 328.2 54.6 329.9 57.6 331.5 61.0 332.8 64.0 333.2 92.2 333.4 104.6 333.3 109.2 333.1 117.0 332.1 119.8 331.5 122.0 330.7 123.4 329.9 124.6 328.9 125.6 327.7 127.4 325.0 128.3 324.3 129.2 324.6 131.4 326.7 132.6 327.2 133.4 327.2 134.2 327.0 135.0 326.4 135.8 325.5 136.6 324.2 137.2 322.7 138.0 319.2 138.4 314.7 138.6 306.6 139.3 150.5 139.8 271.4 140.2 312.6 140.6 317.8 141.2 320.7 142.4 323.8 143.8 325.9 145.2 327.0 146.8 327.7 149.0 328.1 152.2 328.3 182.0 327.7 187.4 327.4 190.6 326.9 191.6 326.5 192.4 325.9 193.4 323.9 194.2 320.7 195.6 312.5 196.1 311.5 196.6 312.8 197.8 319.8 198.6 323.3 199.4 325.1 200.0 325.7 200.6 326.1 202.2 326.4 204.6 326.5 215.4 326.3 222.8 325.7 225.2 325.3 226.6 324.8 228.0 323.8 228.6 322.5 229.0 320.4 230.2 310.1 230.4 310.9 231.2 318.2 231.8 320.6 232.2 320.9 232.8 320.6 233.4 320.0 234.0 318.8 234.6 316.5 235.0 313.5 236.0 300.6 236.4 297.4 236.6 297.5 236.8 298.7 237.8 306.7 238.0 307.3 238.2 307.4 238.4 307.2 239.0 304.7 239.5 301.3 241.4 284.1 241.8 282.2 242.1 281.8 242.4 282.4 242.8 284.5 244.4 299.0 245.4 306.2 246.2 310.1 247.2 313.2 248.6 315.4 249.6 316.3 250.8 316.9 252.2 317.4 253.8 317.5 255.4 317.5 256.8 317.1 258.4 316.2 259.6 314.9 260.4 313.3 261.2 310.7 262.4 303.1 264.2 283.7 264.6 281.0 264.9 280.6 265.4 283.0 267.0 300.9 268.0 308.9 269.2 314.2 270.0 316.1 271.0 317.5 272.4 318.8 274.0 319.8 276.4 320.8 279.4 321.7 285.6 323.2 306.0 327.1" stroke="#00ee97" stroke-width="0.72"/><path d="M23.6 316.3L27.2 316.1 29.0 315.6 30.6 314.4 32.0 312.2 33.2 309.3 34.4 305.2 38.6 287.0 39.6 284.5 40.0 284.0 40.4 283.9 40.8 284.1 41.4 285.1 42.4 288.3 47.0 313.1 48.2 318.4 49.6 323.0 51.0 326.2 52.6 328.5 54.6 330.2 57.6 331.7 61.0 332.9 64.0 333.3 92.8 333.6 104.8 333.5 109.4 333.3 117.2 332.3 120.0 331.6 122.2 330.8 123.4 330.1 124.6 329.2 125.6 328.0 127.4 325.3 128.3 324.6 129.2 324.9 131.4 327.0 132.6 327.5 133.6 327.4 134.4 327.1 135.2 326.5 136.0 325.6 137.2 323.0 138.0 319.6 138.4 315.2 138.6 307.2 139.3 150.9 139.8 271.1 140.2 312.9 140.6 318.2 141.2 321.0 142.4 324.2 143.8 326.2 145.2 327.3 146.8 327.9 149.0 328.3 152.2 328.5 182.4 328.0 187.6 327.6 190.8 327.1 191.8 326.7 192.4 326.2 193.4 324.3 194.2 321.0 195.6 312.3 196.1 311.1 196.6 312.5 197.8 320.1 198.6 323.7 199.4 325.4 200.4 326.3 201.8 326.7 204.2 326.8 214.8 326.6 222.6 326.0 225.2 325.6 226.6 325.1 228.0 324.1 228.6 322.7 229.0 320.7 230.2 310.3 230.4 311.2 231.2 318.5 231.8 320.9 232.2 321.2 232.8 320.9 233.4 320.3 234.0 319.1 234.6 316.7 235.0 313.7 236.0 300.7 236.4 297.4 236.6 297.5 236.8 298.7 237.8 307.0 238.0 307.6 238.2 307.7 238.4 307.5 239.0 304.9 239.5 301.5 241.4 283.5 241.8 281.3 242.1 280.9 242.4 281.6 242.8 283.9 245.2 305.3 246.0 309.7 247.0 313.1 248.4 315.6 249.4 316.6 250.6 317.3 252.2 317.8 253.8 318.0 255.4 317.9 257.0 317.5 258.6 316.5 259.8 315.1 260.6 313.3 261.4 310.3 262.6 301.8 264.2 283.4 264.6 280.6 264.9 280.1 265.4 282.7 267.0 301.3 268.0 309.5 269.2 314.7 270.0 316.5 271.0 318.0 272.4 319.2 274.0 320.2 276.4 321.2 279.4 322.1 285.6 323.5 306.0 327.3" stroke="#00f083" stroke-width="0.72"/><path d="M23.6 316.8L27.2 316.7 29.0 316.2 30.6 315.1 32.0 313.0 33.2 310.0 34.4 305.9 38.6 287.6 39.6 285.0 40.0 284.6 40.4 284.4 40.8 284.6 41.4 285.6 42.4 288.9 47.0 313.7 48.2 318.9 49.4 322.9 50.8 326.2 52.4 328.6 54.2 330.1 57.4 331.8 61.0 333.1 64.0 333.5 92.8 333.7 104.8 333.6 109.4 333.4 117.2 332.4 120.0 331.8 122.2 331.0 123.4 330.3 124.6 329.4 125.6 328.2 127.4 325.6 128.3 324.9 129.2 325.2 131.4 327.3 132.6 327.7 133.6 327.7 134.4 327.4 135.2 326.8 136.0 325.9 137.2 323.4 138.0 320.0 138.4 315.6 138.6 307.8 139.3 151.3 139.8 270.9 140.2 313.2 140.6 318.5 141.2 321.4 142.4 324.5 143.8 326.5 145.2 327.5 146.8 328.2 149.0 328.6 152.2 328.8 182.4 328.2 187.6 327.9 190.8 327.4 192.4 326.5 193.4 324.7 194.2 321.3 195.6 312.0 196.1 310.8 196.6 312.3 198.4 323.4 199.2 325.5 199.8 326.2 200.4 326.6 202.0 327.0 204.4 327.1 215.0 326.9 222.6 326.3 225.2 325.9 226.6 325.4 228.0 324.4 228.6 323.0 229.0 320.9 230.2 310.6 230.4 311.4 231.2 318.7 231.8 321.2 232.2 321.5 232.8 321.2 233.4 320.6 234.0 319.4 234.6 317.0 235.0 314.0 236.0 300.7 236.4 297.4 236.6 297.5 236.8 298.8 237.8 307.2 238.2 308.0 238.6 307.2 239.6 300.7 241.4 282.8 241.8 280.5 242.1 280.1 242.4 280.8 242.8 283.3 245.2 305.6 246.0 310.1 247.0 313.5 248.4 316.0 249.4 317.0 250.6 317.7 252.2 318.2 253.8 318.4 255.4 318.3 257.0 317.9 258.6 317.0 259.8 315.6 260.6 313.8 261.4 310.9 262.4 304.2 264.2 283.2 264.6 280.2 264.9 279.6 265.4 282.4 267.0 301.8 268.0 310.0 269.2 315.2 270.0 317.0 271.0 318.4 272.4 319.6 274.0 320.6 276.2 321.5 279.2 322.4 285.4 323.7 306.0 327.5" stroke="#00ef6b" stroke-width="0.72"/><path d="M23.6 317.4L27.2 317.3 29.0 316.9 30.6 315.7 32.0 313.7 33.2 310.8 34.4 306.7 38.6 288.2 39.6 285.6 40.0 285.1 40.4 284.9 40.8 285.2 41.4 286.2 42.4 289.5 47.0 314.4 48.2 319.5 49.4 323.4 50.8 326.6 52.4 328.9 54.2 330.3 57.4 332.0 61.0 333.2 64.0 333.6 92.8 333.8 104.8 333.8 109.4 333.6 117.2 332.6 120.0 332.0 122.2 331.2 123.4 330.6 124.6 329.6 127.4 325.9 128.3 325.2 129.2 325.5 131.4 327.5 132.6 328.0 133.6 328.0 134.4 327.7 135.2 327.1 136.0 326.1 137.2 323.7 138.0 320.4 138.4 316.0 138.6 308.3 139.3 151.7 139.8 270.7 140.2 313.6 140.4 317.2 141.0 321.0 142.2 324.4 143.6 326.5 145.0 327.7 146.6 328.4 148.8 328.8 151.8 329.0 182.6 328.5 188.0 328.2 191.0 327.6 192.0 327.2 192.6 326.7 193.2 325.7 193.6 324.5 194.4 320.5 195.6 311.8 196.1 310.4 196.6 312.1 197.8 320.8 198.4 323.8 199.2 325.9 200.2 326.8 201.6 327.2 204.2 327.4 215.0 327.2 222.8 326.6 225.4 326.1 226.8 325.6 227.6 325.1 228.2 324.4 228.8 322.4 230.2 310.8 230.4 311.6 231.2 319.0 231.8 321.5 232.2 321.8 232.8 321.6 233.4 320.9 234.0 319.7 234.6 317.3 235.0 314.2 236.0 300.8 236.4 297.4 236.6 297.6 236.8 298.8 237.8 307.5 238.2 308.3 238.6 307.5 239.6 300.9 241.4 282.1 241.8 279.7 242.1 279.2 242.4 280.0 242.8 282.6 244.4 299.5 245.2 306.0 246.0 310.5 247.0 313.9 247.8 315.6 248.6 316.6 249.6 317.5 250.8 318.1 252.4 318.6 254.0 318.8 255.8 318.6 257.2 318.2 258.8 317.2 260.0 315.7 260.8 313.8 261.6 310.4 262.8 300.7 264.2 283.0 264.6 279.8 264.9 279.2 265.4 282.1 266.8 300.1 267.8 309.3 269.0 315.1 269.8 317.1 270.8 318.6 272.2 319.9 273.8 320.9 276.0 321.8 279.0 322.6 285.4 324.0 306.0 327.7" stroke="#00ee53" stroke-width="0.72"/><path d="M23.6 318.0L27.2 317.9 29.0 317.5 30.6 316.4 32.0 314.4 33.2 311.5 34.4 307.4 38.6 288.7 39.6 286.1 40.0 285.6 40.4 285.5 40.8 285.7 41.4 286.8 42.4 290.2 46.8 314.1 48.0 319.3 49.2 323.3 50.6 326.6 52.2 328.9 54.0 330.4 57.2 332.1 60.8 333.3 63.8 333.8 91.8 334.0 104.6 333.9 109.2 333.7 117.0 332.8 119.8 332.2 122.0 331.5 123.4 330.8 124.6 329.8 127.4 326.1 128.3 325.5 129.2 325.8 131.4 327.8 132.6 328.3 133.6 328.2 134.4 327.9 135.2 327.4 136.0 326.4 137.2 324.0 138.0 320.7 138.4 316.5 138.6 308.9 139.3 152.1 139.8 270.4 140.2 313.9 140.4 317.6 141.0 321.4 142.2 324.8 143.6 326.8 145.0 328.0 146.6 328.6 148.8 329.1 152.0 329.2 182.8 328.7 188.2 328.4 191.2 327.9 192.6 327.0 193.2 326.1 193.6 325.0 194.4 320.9 195.6 311.5 196.1 310.0 196.6 311.9 197.6 319.8 198.4 324.3 199.2 326.3 200.2 327.2 201.8 327.6 204.2 327.7 215.2 327.5 223.0 326.8 225.4 326.4 226.8 325.9 227.6 325.4 228.2 324.7 228.8 322.7 230.2 311.0 230.4 311.8 231.2 319.3 231.8 321.8 232.2 322.1 232.8 321.9 233.4 321.2 234.0 320.1 234.6 317.6 235.0 314.5 236.0 300.8 236.4 297.4 236.6 297.6 236.8 298.9 237.8 307.8 238.2 308.7 238.6 307.9 239.6 301.1 241.4 281.4 241.8 278.9 242.1 278.4 242.4 279.2 242.8 282.0 244.6 301.6 245.8 310.0 246.4 312.6 247.2 314.9 248.2 316.6 249.4 317.8 250.8 318.6 252.6 319.1 254.6 319.2 256.4 318.9 257.8 318.4 259.0 317.5 259.8 316.5 260.6 314.9 261.4 312.0 262.2 307.0 263.0 298.9 264.2 282.8 264.6 279.3 264.9 278.7 265.4 281.8 266.8 300.6 267.8 309.9 269.0 315.6 269.8 317.6 270.8 319.1 272.2 320.3 273.8 321.3 276.0 322.1 278.8 322.9 285.2 324.3 306.0 327.9" stroke="#00ed3c" stroke-width="0.72"/><path d="M23.6 318.5L27.2 318.5 29.0 318.1 30.6 317.1 32.0 315.1 33.2 312.3 34.4 308.2 38.6 289.3 39.6 286.6 40.0 286.1 40.4 286.0 40.8 286.2 41.4 287.3 42.4 290.8 46.8 314.8 48.0 319.9 49.2 323.8 50.6 326.9 52.2 329.2 53.8 330.5 57.0 332.2 60.6 333.4 63.8 333.9 91.8 334.1 104.6 334.1 109.2 333.9 117.0 333.0 119.8 332.4 122.0 331.7 123.4 331.0 124.6 330.1 127.4 326.4 128.3 325.8 129.2 326.1 131.4 328.1 132.6 328.5 133.6 328.5 134.4 328.2 135.2 327.6 136.0 326.7 137.2 324.4 138.0 321.1 138.4 316.9 138.6 309.5 139.3 152.5 139.8 270.2 140.2 314.2 140.4 317.9 141.0 321.7 142.2 325.1 143.6 327.1 145.0 328.2 146.6 328.9 148.8 329.3 151.8 329.5 182.8 329.0 188.2 328.7 191.2 328.1 192.2 327.7 192.8 327.1 193.4 326.0 193.8 324.7 194.4 321.3 195.6 311.3 196.1 309.6 196.6 311.8 198.2 323.9 199.0 326.4 200.0 327.4 201.4 327.8 203.8 328.0 214.6 327.8 222.8 327.2 225.4 326.7 226.8 326.2 227.6 325.7 228.2 325.0 228.8 323.0 230.2 311.2 230.4 312.1 231.2 319.6 231.8 322.1 232.2 322.5 232.8 322.2 233.4 321.6 234.0 320.4 234.6 317.9 235.0 314.7 236.0 300.9 236.4 297.4 236.6 297.6 236.8 299.0 237.8 308.2 238.2 309.1 238.6 308.3 239.6 301.4 241.4 280.8 241.8 278.1 242.1 277.5 242.4 278.4 242.8 281.4 244.4 299.9 245.6 309.4 246.2 312.3 247.0 314.8 248.0 316.7 249.2 318.0 250.6 318.9 252.4 319.4 254.4 319.6 256.2 319.4 257.8 318.8 259.0 318.0 259.8 317.0 260.6 315.5 261.6 311.7 262.4 306.0 264.2 282.6 264.6 278.9 264.9 278.2 265.4 281.5 266.8 301.1 267.8 310.6 269.0 316.2 269.8 318.1 270.6 319.3 272.0 320.6 273.6 321.5 275.8 322.4 278.6 323.2 285.2 324.6 306.0 328.1" stroke="#00ec24" stroke-width="0.72"/><path d="M23.6 319.1L27.2 319.1 29.2 318.7 30.8 317.5 32.2 315.4 33.4 312.4 34.6 308.2 38.6 289.9 39.6 287.2 40.0 286.7 40.4 286.5 40.8 286.8 41.4 287.9 42.4 291.4 46.6 314.5 47.8 319.7 49.0 323.7 50.4 327.0 52.0 329.3 53.8 330.8 56.8 332.3 60.6 333.6 63.8 334.1 92.4 334.3 104.8 334.2 109.4 334.0 117.4 333.1 120.2 332.5 122.2 331.8 123.6 331.1 124.8 330.1 127.4 326.7 128.2 326.1 128.6 326.0 129.2 326.4 131.4 328.3 132.8 328.8 133.8 328.7 134.6 328.3 135.4 327.7 136.2 326.8 137.2 324.7 138.0 321.5 138.4 317.3 138.6 310.0 139.3 152.9 139.8 269.9 140.2 314.5 140.4 318.3 141.0 322.1 142.2 325.4 143.6 327.4 145.0 328.5 146.6 329.1 148.8 329.6 151.8 329.7 183.2 329.3 188.4 328.9 191.4 328.4 192.4 327.9 193.0 327.2 193.8 325.2 194.6 320.3 195.6 311.1 196.1 309.3 196.6 311.6 197.6 320.7 198.2 324.4 198.8 326.4 199.2 327.1 199.8 327.6 201.2 328.1 203.4 328.3 213.8 328.1 222.6 327.5 225.4 327.0 226.8 326.5 227.6 326.0 228.2 325.3 228.8 323.3 230.2 311.4 230.4 312.3 231.2 319.9 231.8 322.4 232.2 322.8 232.8 322.5 233.4 321.9 234.0 320.7 234.6 318.2 235.0 315.0 236.0 300.9 236.4 297.5 236.6 297.7 236.8 299.1 237.8 308.5 238.2 309.5 238.6 308.7 239.6 301.7 241.4 280.2 241.8 277.3 242.1 276.7 242.4 277.6 242.8 280.9 244.4 300.2 245.6 309.8 246.2 312.7 247.0 315.3 248.0 317.2 249.2 318.5 250.6 319.3 252.4 319.9 254.4 320.0 256.2 319.8 257.8 319.3 259.0 318.5 259.8 317.5 260.6 316.0 261.6 312.3 262.4 306.6 264.2 282.4 264.6 278.5 264.9 277.8 265.4 281.3 266.8 301.7 267.6 309.8 268.2 313.6 268.8 316.1 269.6 318.2 270.6 319.7 271.8 320.9 273.4 321.8 275.6 322.7 278.4 323.5 285.0 324.8 306.0 328.3" stroke="#00eb0c" stroke-width="0.72"/><path d="M23.6 320.0L27.2 320.1 29.2 319.7 30.8 318.6 32.2 316.5 33.4 313.6 34.6 309.3 38.6 291.0 39.6 288.3 40.0 287.8 40.4 287.7 40.8 287.9 41.4 289.0 42.4 292.6 46.4 314.5 47.6 319.8 48.8 323.9 50.2 327.2 51.8 329.5 53.6 331.0 56.4 332.4 60.4 333.8 63.8 334.3 91.6 334.5 109.2 334.2 118.0 333.2 120.8 332.6 123.0 331.8 124.6 330.7 126.2 328.9 127.8 326.7 128.5 324.4 129.2 326.8 130.8 328.4 132.0 329.1 133.0 329.3 134.2 329.0 135.2 328.4 136.2 327.3 137.2 325.3 138.0 322.1 138.4 318.2 138.6 311.5 139.4 153.5 139.8 266.8 140.2 314.7 140.4 318.8 141.0 322.7 142.0 325.5 142.8 327.0 143.6 327.9 145.0 329.0 146.6 329.6 148.8 330.0 152.0 330.2 183.4 329.7 188.8 329.4 191.6 328.9 192.6 328.3 193.2 327.6 194.0 325.2 194.6 321.4 195.6 312.1 196.1 309.9 196.6 312.1 197.6 321.3 198.2 325.0 198.8 327.0 199.2 327.7 199.8 328.2 201.2 328.6 203.6 328.8 213.8 328.7 222.6 328.0 225.4 327.6 226.8 327.1 227.6 326.6 228.2 325.9 228.8 324.0 230.2 312.2 230.4 313.1 231.2 320.6 231.8 323.1 232.2 323.5 232.8 323.2 233.4 322.6 234.0 321.5 234.6 319.0 235.0 315.8 236.0 301.9 236.4 298.5 236.6 298.7 236.8 300.1 237.8 309.5 238.0 310.3 238.2 310.5 238.4 310.2 238.8 308.2 239.5 299.5 240.2 295.8 241.4 281.7 241.8 278.9 242.1 278.3 242.4 279.2 242.8 282.5 244.2 299.7 245.0 307.2 245.8 312.2 246.8 315.9 247.6 317.6 248.4 318.7 249.4 319.5 250.6 320.2 252.2 320.7 254.0 320.9 255.8 320.8 257.4 320.3 259.0 319.4 260.2 317.9 261.0 316.0 261.8 312.4 262.8 303.7 264.2 282.8 264.6 278.5 264.9 277.7 265.4 281.5 266.8 302.9 267.6 311.0 268.2 314.7 268.8 317.1 269.6 319.1 270.4 320.3 271.6 321.5 273.2 322.5 275.4 323.3 278.2 324.1 285.0 325.4 306.0 328.7" stroke="#0ceb00" stroke-width="0.72"/><path d="M23.6 321.2L27.2 321.3 29.2 321.0 30.8 320.0 32.2 318.0 33.4 315.1 34.6 311.0 38.6 292.8 39.6 290.0 40.0 289.5 40.4 289.4 40.8 289.6 41.2 290.3 42.2 293.4 46.4 315.8 47.6 321.0 48.8 324.9 50.2 328.0 51.6 330.0 53.4 331.4 55.8 332.6 58.8 333.6 61.4 334.3 63.4 334.5 67.0 334.6 105.2 334.7 111.8 334.3 118.0 333.6 121.0 333.0 123.2 332.2 124.8 331.2 126.2 329.7 127.4 328.1 127.8 327.3 128.5 320.8 129.0 326.8 129.4 327.9 130.2 328.7 131.6 329.7 133.2 329.9 134.8 329.4 136.2 328.0 137.2 326.0 138.0 323.1 138.4 319.5 138.6 313.8 139.4 154.4 139.8 260.3 140.2 314.5 140.4 319.3 141.0 323.4 142.0 326.3 143.4 328.4 144.8 329.6 146.4 330.2 148.6 330.7 151.8 330.9 183.2 330.5 188.6 330.2 191.6 329.7 192.6 329.2 193.2 328.6 194.0 326.5 194.6 323.1 195.8 312.7 196.2 311.5 196.6 313.1 197.6 322.0 198.2 325.8 198.8 327.8 199.2 328.4 199.8 329.0 201.2 329.4 203.4 329.6 213.4 329.5 222.4 328.9 225.2 328.5 226.8 328.0 227.6 327.5 228.2 326.8 228.8 324.9 230.2 313.5 230.4 314.4 231.2 321.7 231.8 324.2 232.2 324.5 232.8 324.3 233.4 323.7 234.0 322.7 234.6 320.3 235.0 317.2 236.0 303.8 236.4 300.5 236.6 300.7 236.8 302.1 237.8 311.2 238.2 312.1 238.4 311.7 238.8 308.7 239.5 292.9 239.6 292.7 240.0 296.9 240.2 297.3 241.4 285.5 241.8 282.8 242.1 282.3 242.4 283.2 242.8 286.4 244.2 302.6 245.0 309.6 245.8 314.2 246.8 317.6 247.6 319.2 248.4 320.1 249.4 320.9 250.8 321.6 252.6 322.1 254.4 322.2 256.2 322.0 257.6 321.6 259.0 320.8 260.2 319.4 261.0 317.6 261.8 314.2 262.8 305.6 264.4 280.9 264.9 278.1 265.4 282.3 266.6 301.9 267.6 312.7 268.6 317.9 269.4 320.0 270.2 321.3 271.4 322.5 273.0 323.4 275.2 324.3 278.0 325.0 285.0 326.3 306.0 329.4" stroke="#24ec00" stroke-width="0.72"/><path d="M23.6 322.5L27.2 322.6 29.2 322.3 30.8 321.4 32.2 319.5 33.4 316.7 34.6 312.6 38.6 294.5 39.6 291.8 40.0 291.2 40.4 291.1 40.8 291.4 41.2 292.0 42.2 295.1 46.4 317.2 47.4 321.4 48.6 325.3 50.0 328.4 51.4 330.4 53.0 331.7 55.2 332.8 58.6 333.9 61.6 334.6 70.8 334.9 106.4 334.9 114.4 334.4 120.6 333.5 123.0 332.8 124.8 331.8 126.4 330.3 127.6 328.5 128.0 325.8 128.5 316.7 129.0 327.0 129.4 328.7 130.0 329.4 131.0 330.2 131.8 330.5 132.8 330.7 134.6 330.2 136.2 328.7 137.2 326.8 138.0 324.0 138.4 320.7 138.6 315.8 139.0 261.4 139.4 155.2 140.2 314.2 140.4 319.8 141.0 324.2 142.0 327.1 143.4 329.2 144.8 330.2 146.4 330.9 148.8 331.4 152.0 331.6 183.2 331.2 188.8 330.9 191.8 330.4 192.6 330.0 193.2 329.5 194.0 327.7 194.8 323.3 195.8 314.6 196.2 313.0 196.6 314.2 198.2 326.5 199.0 328.9 200.0 329.9 201.6 330.3 204.0 330.4 215.0 330.2 223.2 329.6 225.6 329.2 227.0 328.7 228.2 327.7 228.8 325.9 230.2 314.9 230.4 315.7 231.2 322.8 231.8 325.2 232.2 325.6 233.0 325.3 233.6 324.6 234.2 323.3 235.0 318.6 236.0 305.6 236.4 302.4 236.6 302.7 236.8 304.0 237.8 312.8 238.0 313.4 238.2 313.5 238.4 313.0 238.8 308.5 239.5 282.9 240.2 298.0 240.4 298.1 240.6 296.8 241.6 287.7 242.0 286.2 242.2 286.4 242.8 290.2 244.8 310.6 245.8 316.2 246.8 319.3 247.6 320.7 248.4 321.6 249.4 322.3 250.8 323.0 252.6 323.4 254.4 323.5 256.2 323.3 257.8 322.8 259.4 321.8 260.6 320.1 261.4 317.9 262.0 314.8 262.8 307.5 264.4 281.6 264.9 278.5 265.4 283.0 266.6 303.8 267.4 312.9 268.4 318.7 269.0 320.5 270.0 322.2 271.2 323.4 272.8 324.4 275.0 325.2 277.8 325.9 284.8 327.1 306.0 330.0" stroke="#3ced00" stroke-width="0.72"/><path d="M23.6 323.7L27.2 323.9 29.2 323.7 30.8 322.8 32.2 320.9 33.4 318.2 34.6 314.2 38.8 295.5 39.6 293.5 40.0 293.0 40.4 292.8 40.8 293.1 41.2 293.7 42.2 296.8 46.2 317.5 47.2 321.8 48.4 325.8 49.6 328.5 51.0 330.6 52.6 332.1 54.6 333.0 58.2 334.2 61.4 334.8 64.4 334.7 68.2 335.1 75.6 335.2 107.6 335.1 116.6 334.5 120.0 334.0 122.4 333.5 124.2 332.8 125.6 331.8 127.0 330.4 127.6 329.2 128.0 325.3 128.5 311.6 129.0 327.0 129.4 329.4 130.0 330.2 130.8 330.8 131.8 331.2 132.8 331.3 133.8 331.2 134.8 330.7 136.4 329.1 137.4 327.1 138.0 324.9 138.4 321.8 138.6 317.7 139.0 269.6 139.4 156.1 140.2 313.6 140.4 320.2 140.8 323.9 141.8 327.4 142.6 328.9 143.4 329.9 144.8 330.9 146.6 331.6 149.0 332.0 152.2 332.2 182.8 331.9 188.8 331.6 191.8 331.2 192.8 330.8 193.4 330.2 194.2 328.2 194.8 325.0 195.8 316.6 196.3 314.6 196.8 316.7 197.8 324.9 198.4 328.1 199.2 330.0 200.4 330.8 202.2 331.1 204.8 331.2 216.2 331.0 223.6 330.4 225.6 330.1 227.0 329.6 228.2 328.6 228.8 326.9 230.2 316.2 230.4 317.0 231.4 325.1 232.0 326.5 232.4 326.7 232.8 326.5 233.4 326.0 234.0 325.0 234.6 322.8 235.2 317.9 236.0 307.4 236.4 304.3 236.6 304.5 236.8 305.8 237.8 314.2 238.0 314.7 238.2 314.6 238.4 313.8 238.8 307.2 239.5 266.9 240.0 291.5 240.4 299.5 240.6 299.0 241.6 291.3 242.0 290.1 242.2 290.3 242.8 293.9 244.2 308.3 245.2 315.5 246.4 320.1 247.2 321.7 248.0 322.7 249.4 323.7 251.2 324.4 253.6 324.7 256.0 324.6 257.8 324.2 259.2 323.4 260.2 322.3 261.0 320.8 261.8 317.8 262.6 311.8 263.2 304.0 264.4 282.3 264.9 278.9 265.4 283.9 266.4 302.5 267.2 313.0 268.2 319.5 268.8 321.4 269.8 323.2 271.0 324.4 272.6 325.3 274.6 326.1 277.6 326.8 284.8 328.0 306.0 330.7" stroke="#53ee00" stroke-width="0.72"/><path d="M23.6 324.9L27.4 325.2 29.4 324.9 31.0 324.0 32.4 322.0 33.6 319.2 34.8 315.1 38.8 297.2 39.6 295.2 40.0 294.7 40.4 294.6 40.8 294.8 41.2 295.5 42.2 298.5 46.2 318.9 48.2 326.2 49.4 329.0 50.6 330.9 52.2 332.4 54.0 333.3 57.8 334.4 61.2 335.0 64.3 334.8 68.0 335.3 80.6 335.5 109.0 335.3 118.4 334.6 121.4 334.1 123.6 333.5 125.0 332.9 126.2 332.0 127.2 330.8 127.6 329.8 128.0 324.6 128.5 306.4 129.0 326.9 129.4 330.1 129.8 330.8 130.6 331.5 131.6 331.9 132.6 332.0 133.8 331.8 134.8 331.4 136.4 329.8 137.6 327.3 138.4 322.9 138.8 308.3 139.5 156.9 140.2 312.8 140.4 320.5 140.8 324.6 141.8 328.1 142.6 329.6 143.4 330.6 144.8 331.6 146.6 332.3 149.0 332.7 152.4 332.9 182.4 332.7 188.6 332.4 191.8 332.0 192.8 331.6 193.4 331.1 194.2 329.4 194.8 326.6 196.0 317.3 196.4 316.2 196.8 317.7 197.8 325.7 198.4 328.9 199.2 330.8 200.4 331.6 202.0 331.9 204.8 332.0 216.0 331.8 223.4 331.2 225.6 330.9 227.0 330.5 228.2 329.5 228.8 327.8 230.2 317.5 230.4 318.2 231.2 325.0 231.6 326.9 232.2 327.7 232.6 327.6 233.2 327.3 233.8 326.5 234.2 325.6 234.8 322.8 236.4 306.2 236.6 306.4 236.8 307.6 237.8 315.6 238.0 316.0 238.2 315.7 238.4 314.6 238.8 305.7 239.5 250.8 240.0 287.6 240.4 300.9 240.6 301.2 240.8 300.3 241.8 294.2 242.0 293.9 242.2 294.2 242.8 297.7 244.2 311.1 245.0 316.6 246.0 320.8 246.6 322.2 247.4 323.5 248.6 324.6 250.4 325.5 252.8 325.9 255.4 326.0 257.4 325.6 259.0 324.9 260.2 323.8 261.0 322.4 262.0 318.6 262.8 311.7 264.4 283.0 264.9 279.2 265.2 281.6 266.4 304.5 267.2 315.0 268.2 321.1 268.8 322.8 269.6 324.2 270.8 325.4 272.4 326.3 274.4 327.0 277.4 327.7 284.8 328.9 306.0 331.3" stroke="#6bef00" stroke-width="0.72"/><path d="M23.6 326.1L27.4 326.4 29.4 326.2 31.0 325.3 32.4 323.4 33.6 320.7 34.8 316.7 38.8 299.0 39.6 297.0 40.0 296.5 40.4 296.4 40.8 296.6 41.2 297.3 42.2 300.3 46.0 319.3 48.0 326.7 49.2 329.5 50.4 331.3 52.0 332.8 53.8 333.7 57.6 334.7 61.0 335.2 62.2 335.2 64.3 334.8 66.8 335.4 68.8 335.6 96.6 335.7 106.8 335.6 114.6 335.2 121.0 334.5 124.4 333.6 125.6 332.9 126.6 332.0 127.2 331.2 127.6 330.0 128.0 323.6 128.5 301.0 129.0 326.5 129.4 330.3 129.8 331.2 130.6 331.9 131.6 332.4 132.6 332.5 133.8 332.3 134.8 331.9 135.8 331.1 136.6 330.1 137.8 327.4 138.4 323.9 138.8 311.5 139.5 157.7 140.2 311.6 140.4 320.7 140.8 325.3 141.8 328.8 143.2 331.0 144.6 332.1 146.4 332.9 148.8 333.3 152.4 333.5 182.2 333.3 188.8 333.1 192.0 332.6 193.0 332.3 193.6 331.7 194.4 329.9 195.0 326.8 196.0 319.2 196.4 317.7 196.8 318.8 197.8 326.4 198.4 329.6 199.2 331.5 199.8 332.1 200.6 332.4 202.4 332.6 205.2 332.7 217.0 332.4 224.0 331.9 225.8 331.6 227.2 331.2 228.2 330.3 228.8 328.7 230.2 318.7 230.4 319.4 231.2 326.0 231.6 327.8 232.2 328.6 232.8 328.5 233.4 328.1 234.2 326.7 234.8 324.0 236.4 308.0 236.6 308.2 236.8 309.4 237.8 316.9 238.0 317.2 238.2 316.8 238.4 315.4 238.8 304.3 239.5 235.0 240.0 283.8 240.4 302.2 240.6 303.5 240.8 303.1 241.6 298.8 242.0 297.9 242.2 298.1 242.8 301.5 244.0 312.2 244.8 317.7 245.8 322.0 247.0 324.5 248.2 325.7 250.0 326.6 252.6 327.1 255.4 327.1 257.6 326.8 259.2 326.0 260.4 324.8 261.2 323.4 262.0 320.4 262.8 313.8 264.4 283.8 264.9 279.5 265.2 282.2 266.4 306.5 267.2 316.9 268.2 322.6 268.8 324.1 269.6 325.4 270.8 326.5 272.4 327.3 274.6 328.0 277.8 328.7 285.0 329.7 306.0 331.9" stroke="#83f000" stroke-width="0.72"/><path d="M23.6 326.8L27.4 327.1 29.4 326.9 31.0 326.1 32.4 324.4 33.6 321.9 34.8 318.1 38.8 301.4 39.6 299.5 40.0 299.0 40.4 298.9 40.8 299.2 41.2 299.8 42.2 302.8 45.8 319.9 47.8 327.1 48.8 329.4 50.0 331.3 51.4 332.7 53.0 333.7 56.2 334.6 60.2 335.3 62.0 335.3 64.4 334.7 67.6 335.6 73.6 335.8 107.8 335.7 117.6 335.1 121.0 334.7 123.2 334.2 124.8 333.6 126.2 332.7 127.2 331.4 127.6 330.1 128.0 322.7 128.5 296.7 129.0 326.0 129.4 330.4 129.8 331.4 130.4 332.0 131.4 332.6 132.6 332.7 133.8 332.6 134.8 332.2 135.8 331.4 136.6 330.5 137.8 327.8 138.4 324.6 138.8 313.9 139.5 158.1 140.0 278.9 140.4 320.4 140.6 323.9 141.2 327.4 142.0 329.6 143.2 331.3 144.6 332.4 146.4 333.1 148.8 333.5 152.2 333.7 182.2 333.5 188.8 333.3 192.0 332.9 193.0 332.5 193.6 332.1 194.4 330.5 195.0 327.8 196.0 320.5 196.5 318.7 196.8 319.5 198.0 327.9 198.6 330.5 199.4 332.0 200.6 332.6 205.2 332.9 217.0 332.7 224.0 332.2 225.8 331.9 227.2 331.5 228.2 330.7 228.8 329.1 230.2 319.4 230.4 320.2 231.2 326.5 231.6 328.3 232.0 329.0 232.4 329.1 233.0 328.9 233.6 328.4 234.2 327.3 234.8 324.7 236.4 309.3 236.6 309.5 236.8 310.6 237.8 317.8 238.0 318.0 238.2 317.5 238.4 315.9 238.8 303.1 239.5 221.4 240.0 280.8 240.4 304.0 240.6 306.0 240.8 306.2 241.8 302.7 242.1 302.6 242.4 303.5 244.6 318.8 245.4 322.2 246.4 324.6 247.6 326.1 249.2 327.0 251.6 327.6 254.6 327.7 257.0 327.5 258.8 326.9 260.2 325.8 261.2 324.2 262.2 320.4 262.8 315.3 263.4 306.3 264.4 284.0 264.9 279.3 265.2 282.3 266.2 304.4 267.0 316.4 267.4 319.8 268.0 322.9 268.6 324.5 269.4 325.8 270.6 326.9 272.0 327.6 274.2 328.3 277.2 328.9 284.8 330.0 306.0 332.1" stroke="#9bf000" stroke-width="0.72"/><path d="M23.6 327.5L27.4 327.8 29.4 327.6 31.0 326.9 32.4 325.4 33.6 323.0 34.8 319.5 38.8 303.8 39.6 302.0 40.0 301.6 40.4 301.5 41.2 302.4 42.2 305.2 45.8 321.4 47.6 327.5 48.6 329.7 49.8 331.6 51.2 333.0 53.0 333.9 56.4 334.8 60.4 335.4 62.0 335.4 64.3 334.5 66.8 335.5 68.0 335.7 78.2 335.9 109.2 335.8 118.8 335.1 121.8 334.7 123.8 334.2 125.2 333.6 126.4 332.7 127.2 331.5 127.6 330.1 128.0 321.8 128.5 292.4 129.0 325.6 129.4 330.5 129.8 331.6 130.4 332.3 131.4 332.8 132.4 333.0 133.6 332.9 134.8 332.4 135.8 331.7 136.6 330.8 137.6 328.8 138.2 326.5 138.6 322.8 138.8 316.1 139.6 158.6 140.0 272.7 140.4 320.0 140.6 324.0 141.2 327.7 142.0 329.9 143.2 331.5 144.6 332.6 146.4 333.3 148.8 333.7 152.2 333.9 182.6 333.7 189.0 333.4 192.2 333.1 193.6 332.5 194.4 331.1 195.2 327.6 196.2 320.7 196.6 319.8 197.0 321.2 198.0 328.1 198.6 330.7 199.4 332.2 200.6 332.8 205.2 333.2 216.8 332.9 224.0 332.4 225.8 332.2 227.2 331.8 228.2 331.0 228.8 329.5 230.2 320.1 230.4 320.9 231.2 327.1 231.6 328.8 232.0 329.4 232.4 329.6 233.0 329.4 233.6 328.9 234.2 327.8 234.8 325.4 236.4 310.6 236.6 310.8 236.8 311.9 237.4 316.9 237.8 318.7 238.0 318.8 238.2 318.2 238.4 316.4 238.8 301.7 239.5 207.8 240.0 277.8 240.4 305.7 240.6 308.6 240.8 309.2 241.8 307.2 242.1 307.2 242.4 308.1 244.4 320.1 245.2 323.2 246.0 325.1 247.2 326.6 248.8 327.5 251.4 328.1 254.6 328.3 257.2 328.0 259.0 327.4 260.4 326.3 261.4 324.7 262.0 322.7 262.4 320.5 263.0 314.5 264.4 284.4 264.9 279.0 265.2 282.4 266.2 306.1 267.0 318.0 267.8 323.1 268.4 324.9 269.2 326.3 270.4 327.4 271.8 328.1 273.8 328.7 276.8 329.3 284.6 330.3 306.0 332.3" stroke="#b2f000" stroke-width="0.72"/><path d="M23.6 328.2L27.4 328.5 29.4 328.4 31.0 327.7 32.4 326.3 33.6 324.2 34.8 320.9 38.8 306.2 39.6 304.5 40.0 304.1 40.4 304.0 41.2 304.9 42.2 307.7 45.6 322.1 47.6 328.4 48.6 330.5 49.8 332.2 51.2 333.4 52.8 334.2 56.2 335.0 60.2 335.6 62.0 335.4 64.3 334.4 66.8 335.6 68.2 335.8 82.6 336.0 110.6 335.8 119.6 335.2 122.2 334.8 124.2 334.3 125.6 333.6 126.6 332.7 127.2 331.7 127.6 330.2 128.0 321.0 128.5 288.1 129.0 325.2 129.4 330.7 129.8 331.8 130.4 332.5 131.2 333.0 132.4 333.2 133.6 333.1 134.8 332.7 135.8 332.0 136.8 330.8 137.8 328.7 138.4 325.8 138.8 318.0 139.6 159.0 140.0 265.9 140.4 319.4 140.6 324.1 141.0 327.2 141.8 329.8 143.0 331.6 144.4 332.7 146.0 333.4 148.4 333.8 151.6 334.0 182.4 333.8 189.0 333.6 192.2 333.3 193.2 333.0 193.8 332.6 194.6 331.2 195.2 328.6 196.2 322.1 196.6 320.8 197.0 321.8 198.0 328.3 198.6 331.0 199.4 332.5 200.6 333.1 205.0 333.4 216.8 333.1 224.0 332.7 227.2 332.1 228.2 331.4 228.8 329.9 230.2 320.8 230.4 321.5 231.2 327.6 231.6 329.2 232.0 329.9 232.4 330.0 233.2 329.7 233.8 329.1 234.4 327.8 235.0 324.7 236.0 314.4 236.4 311.9 236.6 312.1 236.8 313.1 237.4 317.9 237.8 319.6 238.0 319.6 238.2 318.9 238.4 316.8 238.8 300.4 239.5 194.2 240.0 274.8 240.4 307.3 240.8 312.3 241.0 312.6 241.8 311.8 242.0 311.8 242.4 312.7 244.2 321.6 245.4 325.3 246.6 327.1 248.2 328.0 250.8 328.6 254.2 328.8 257.2 328.5 259.2 327.9 260.6 326.8 261.6 325.1 262.4 321.8 263.0 316.3 263.6 305.8 264.4 284.8 264.9 278.8 265.2 282.6 266.2 307.9 266.8 317.5 267.6 323.4 268.2 325.3 269.0 326.7 270.0 327.7 271.4 328.4 273.4 329.0 276.2 329.6 284.2 330.6 306.0 332.5" stroke="#caf000" stroke-width="0.72"/><path d="M23.6 328.8L27.6 329.2 29.6 329.0 31.2 328.4 32.6 327.0 33.8 324.9 34.8 322.3 38.8 308.6 39.6 307.0 40.0 306.7 40.4 306.6 41.2 307.5 42.0 309.4 45.6 323.6 47.4 328.9 48.4 330.9 49.6 332.5 51.0 333.6 52.8 334.4 56.4 335.2 60.4 335.7 62.0 335.5 64.3 334.4 65.0 334.6 66.8 335.7 68.6 336.0 94.6 336.1 106.6 336.0 114.8 335.7 121.2 335.2 124.6 334.4 126.0 333.6 127.0 332.4 127.6 330.3 127.8 327.7 128.5 283.8 129.0 324.7 129.4 330.8 129.8 332.0 130.4 332.8 131.2 333.2 132.4 333.5 133.6 333.4 134.8 333.0 135.8 332.3 136.8 331.2 137.8 329.1 138.4 326.2 138.8 318.7 139.6 159.5 140.2 304.3 140.4 319.6 140.6 324.4 141.0 327.6 141.8 330.1 143.0 331.9 144.4 332.9 146.0 333.6 148.2 334.0 151.4 334.2 182.2 334.0 189.0 333.8 192.2 333.5 193.8 333.0 194.6 331.8 195.2 329.6 196.4 322.4 196.7 321.8 197.0 322.5 198.0 328.6 198.6 331.2 199.4 332.7 200.8 333.3 205.4 333.6 217.4 333.3 224.2 332.9 227.2 332.4 228.2 331.7 228.8 330.3 230.2 321.6 230.4 322.2 231.2 328.1 231.8 330.1 232.2 330.4 232.8 330.4 233.4 330.0 234.0 329.3 234.6 327.7 235.0 325.4 236.0 315.5 236.4 313.1 236.6 313.3 236.8 314.3 237.6 319.9 237.8 320.4 238.0 320.4 238.4 317.2 238.6 311.9 239.0 271.8 239.5 180.4 240.0 271.6 240.4 308.9 240.8 315.2 241.2 316.3 242.0 316.5 242.4 317.3 244.0 323.4 244.8 325.7 245.8 327.3 247.2 328.4 249.4 329.1 252.8 329.3 256.4 329.2 258.8 328.7 260.4 327.7 261.6 326.0 262.2 324.1 262.6 321.9 263.2 315.4 264.6 280.9 264.9 278.5 265.2 282.9 266.0 305.3 266.6 316.8 267.4 323.7 268.0 325.8 268.8 327.2 269.8 328.1 271.2 328.9 273.0 329.4 275.8 329.9 284.0 330.9 306.0 332.7" stroke="#e1f000" stroke-width="0.72"/><path d="M23.6 329.5L27.6 329.8 29.6 329.7 31.2 329.2 32.6 328.0 33.8 326.0 34.8 323.7 38.6 311.4 39.4 309.8 40.2 309.1 40.6 309.3 41.0 309.7 42.0 311.9 45.6 325.0 47.4 329.8 48.4 331.6 49.6 333.0 51.0 334.0 52.6 334.7 56.8 335.5 60.8 335.8 62.0 335.6 63.8 334.6 64.4 334.5 67.0 335.8 69.2 336.1 102.2 336.2 110.4 336.1 118.2 335.7 122.4 335.2 125.0 334.4 126.4 333.4 127.2 332.1 127.6 330.3 127.8 327.5 128.5 279.5 129.0 324.3 129.4 330.9 129.8 332.2 130.2 332.8 131.0 333.4 132.2 333.7 133.6 333.6 134.8 333.2 135.8 332.6 136.8 331.5 137.8 329.4 138.4 326.7 138.8 319.2 139.6 159.9 140.2 304.4 140.4 319.9 140.6 324.8 141.0 327.9 141.8 330.4 143.0 332.2 144.4 333.2 146.0 333.8 148.2 334.1 151.4 334.4 182.8 334.2 189.2 334.0 192.4 333.7 194.0 333.1 194.8 331.8 195.4 329.5 196.4 323.7 196.8 322.8 197.2 324.1 198.2 329.9 198.8 332.0 199.6 333.1 200.8 333.5 205.4 333.8 217.4 333.6 224.2 333.2 227.2 332.6 228.2 332.0 228.8 330.7 230.2 322.3 230.4 322.9 231.2 328.5 231.8 330.5 232.2 330.8 232.8 330.8 233.4 330.5 234.0 329.8 234.6 328.3 235.0 326.1 236.0 316.7 236.4 314.4 236.6 314.5 236.8 315.5 237.6 320.8 237.8 321.2 238.0 321.1 238.4 317.6 238.6 311.7 239.0 267.5 239.5 166.6 240.2 297.0 240.6 315.8 240.8 318.2 241.2 320.0 242.4 321.8 243.8 325.6 244.6 327.2 245.6 328.4 247.0 329.2 248.8 329.6 251.2 329.8 257.0 329.6 258.6 329.3 259.8 328.8 260.6 328.2 261.4 327.2 262.0 325.9 262.4 324.4 263.2 317.4 264.6 281.0 264.9 278.3 265.2 283.3 266.0 307.5 266.6 318.7 267.4 324.9 268.0 326.6 268.6 327.6 269.6 328.6 270.8 329.2 272.6 329.8 275.2 330.2 283.8 331.1 306.0 332.9" stroke="#f9f000" stroke-width="0.72"/><path d="M23.6 329.9L27.6 330.2 29.6 330.2 31.2 329.7 32.6 328.6 33.8 326.8 34.8 324.5 38.8 312.3 39.6 311.0 40.2 310.6 41.0 311.2 42.0 313.3 45.4 325.3 46.4 328.2 47.4 330.4 48.4 332.1 49.6 333.3 51.0 334.2 52.6 334.8 57.0 335.6 60.8 335.9 62.0 335.7 63.8 334.6 64.4 334.5 67.0 335.9 69.4 336.2 104.8 336.2 112.8 336.0 119.6 335.6 123.2 335.1 125.4 334.4 126.6 333.4 127.2 332.2 127.6 330.3 127.8 327.2 128.5 273.7 129.0 323.6 129.4 330.9 129.8 332.3 130.2 333.0 131.0 333.6 132.0 333.9 133.4 333.8 134.8 333.4 135.8 332.8 136.8 331.8 137.8 329.8 138.4 327.0 138.8 319.7 139.6 160.3 140.2 304.3 140.4 320.2 140.6 325.1 141.0 328.3 141.8 330.7 142.8 332.2 144.0 333.2 145.6 333.8 147.8 334.2 151.0 334.5 182.6 334.3 189.2 334.2 192.4 333.9 194.0 333.4 194.8 332.3 195.4 330.2 196.4 324.6 196.8 323.5 197.2 324.4 198.2 330.0 198.8 332.1 199.6 333.3 200.8 333.7 205.4 333.9 217.4 333.7 224.2 333.4 227.2 332.8 228.2 332.2 228.8 330.9 230.2 322.9 230.4 323.5 231.2 328.9 231.8 330.8 232.2 331.1 232.8 331.1 233.4 330.8 234.0 330.2 234.6 328.7 235.0 326.6 236.0 317.6 236.4 315.4 236.6 315.5 236.8 316.5 237.6 321.4 237.8 321.8 238.0 321.6 238.4 318.0 238.6 311.9 239.0 266.6 239.5 163.2 240.2 297.4 240.6 316.9 240.8 319.4 241.2 321.5 242.4 323.6 244.4 327.8 245.6 329.0 247.0 329.7 248.8 330.0 251.6 330.2 257.4 329.9 258.8 329.5 260.0 329.0 260.8 328.4 261.6 327.3 262.2 325.8 262.6 324.0 263.2 318.3 263.8 305.8 264.6 280.8 264.9 278.0 265.2 283.3 266.0 308.5 266.6 319.6 267.2 324.6 267.8 326.7 268.4 327.8 269.4 328.8 270.6 329.5 272.4 330.0 275.0 330.5 283.6 331.4 306.0 333.1" stroke="#ffe000" stroke-width="0.72"/><path d="M23.6 330.2L27.6 330.6 29.6 330.5 31.2 330.1 32.6 329.1 33.8 327.3 35.0 324.7 38.8 313.4 39.6 312.1 40.2 311.8 41.0 312.3 42.0 314.5 45.4 326.0 47.2 330.5 48.2 332.1 49.4 333.4 50.8 334.3 52.4 334.9 56.8 335.6 60.8 336.0 62.0 335.7 63.8 334.6 64.4 334.4 67.0 335.9 69.4 336.2 105.0 336.3 113.2 336.1 120.0 335.7 123.4 335.2 125.6 334.4 126.6 333.5 127.2 332.3 127.6 330.1 127.8 326.7 128.5 267.4 129.0 322.7 129.4 330.8 129.8 332.4 130.2 333.1 131.0 333.8 132.0 334.0 133.4 334.0 134.8 333.6 136.0 332.9 137.0 331.7 137.8 330.1 138.4 327.4 138.8 320.2 139.6 160.7 140.4 320.4 140.6 325.4 141.0 328.6 141.8 331.0 142.8 332.4 144.0 333.3 145.6 334.0 147.8 334.4 151.0 334.6 183.0 334.4 189.4 334.3 192.6 334.0 194.2 333.4 195.0 332.2 195.6 330.0 196.6 324.6 196.9 324.0 197.2 324.6 198.2 330.0 198.8 332.2 199.6 333.4 200.8 333.8 205.4 334.1 217.2 333.9 224.2 333.5 227.2 333.0 228.2 332.4 228.8 331.2 230.2 323.4 230.4 324.0 231.2 329.2 231.8 331.1 232.2 331.4 233.0 331.3 233.6 330.9 234.2 330.1 235.0 327.1 236.0 318.4 236.4 316.3 236.6 316.4 236.8 317.3 237.6 322.0 237.8 322.3 238.0 322.0 238.4 318.4 238.6 312.3 239.0 266.9 239.5 163.2 240.2 297.9 240.6 317.5 241.0 321.4 241.4 322.8 244.6 328.5 245.8 329.5 247.2 330.0 249.4 330.3 252.4 330.4 257.8 330.0 259.2 329.6 260.4 329.0 261.2 328.2 261.8 327.2 262.4 325.4 262.8 323.1 263.4 315.7 264.6 280.6 264.9 277.6 265.2 283.2 266.4 317.4 267.2 325.0 267.8 327.1 268.4 328.1 269.4 329.1 270.6 329.8 272.4 330.3 275.0 330.8 283.4 331.6 306.0 333.3" stroke="#ffcc00" stroke-width="0.72"/><path d="M23.6 330.5L27.6 330.9 29.8 330.9 31.4 330.4 32.8 329.3 34.0 327.6 35.0 325.4 38.8 314.5 39.6 313.2 40.2 312.9 41.0 313.5 41.8 315.1 45.4 326.8 47.2 331.0 48.2 332.5 49.4 333.7 50.8 334.5 52.4 335.0 57.0 335.7 60.8 336.0 62.0 335.7 63.8 334.6 64.3 334.4 65.0 334.6 66.8 335.9 68.8 336.3 105.4 336.3 113.8 336.1 120.4 335.7 123.8 335.2 125.8 334.4 126.6 333.6 127.2 332.4 127.6 330.0 127.8 326.2 128.5 261.2 129.0 321.9 129.4 330.8 129.8 332.5 130.2 333.3 130.8 333.8 131.8 334.2 133.2 334.2 134.8 333.8 136.0 333.1 137.0 332.0 137.8 330.4 138.4 327.8 138.8 320.7 139.6 161.1 140.4 320.6 140.6 325.8 141.0 328.9 141.8 331.3 142.8 332.7 144.0 333.5 145.6 334.1 147.8 334.5 150.8 334.7 183.0 334.5 192.6 334.2 194.2 333.7 195.0 332.6 195.6 330.6 196.6 325.3 197.0 324.6 197.4 325.7 198.2 330.1 198.8 332.3 199.6 333.5 201.0 334.0 205.8 334.2 217.6 334.0 224.4 333.6 227.2 333.2 228.2 332.6 228.8 331.4 230.2 324.0 230.4 324.6 231.2 329.6 231.8 331.3 232.2 331.6 233.0 331.5 233.6 331.2 234.2 330.4 235.0 327.5 236.0 319.2 236.4 317.2 236.6 317.3 236.8 318.1 237.6 322.5 237.8 322.8 238.0 322.5 238.4 318.8 238.6 312.7 239.0 267.2 239.5 163.2 240.2 298.4 240.6 318.1 241.0 322.1 241.4 323.5 244.4 328.8 245.6 329.8 247.2 330.3 249.4 330.6 252.6 330.7 257.8 330.2 259.2 329.9 260.4 329.2 261.2 328.5 261.8 327.6 262.4 325.8 262.8 323.6 263.4 316.3 264.6 280.4 264.9 277.3 265.2 283.1 266.4 318.0 267.2 325.5 267.8 327.4 268.4 328.5 269.4 329.4 270.6 330.1 272.4 330.6 275.0 331.0 283.4 331.9 306.0 333.5" stroke="#ffb700" stroke-width="0.72"/><path d="M23.6 330.8L27.6 331.2 29.8 331.2 31.4 330.8 32.8 329.8 34.0 328.2 35.0 326.1 38.8 315.6 39.6 314.4 40.2 314.1 41.0 314.7 41.8 316.2 45.2 326.9 47.0 331.1 48.0 332.6 49.2 333.8 50.6 334.6 52.2 335.1 57.0 335.8 60.8 336.1 62.0 335.8 63.8 334.6 64.3 334.4 65.0 334.6 66.8 335.9 68.8 336.3 105.2 336.4 113.6 336.2 120.4 335.8 123.8 335.3 125.8 334.5 126.6 333.8 127.2 332.4 127.6 329.9 127.8 325.8 128.5 255.0 129.0 321.1 129.4 330.7 129.8 332.6 130.2 333.4 130.8 334.0 131.8 334.3 133.2 334.4 134.8 334.0 136.0 333.3 137.0 332.3 137.8 330.7 138.4 328.1 138.8 321.2 139.6 161.4 140.4 320.9 140.6 326.1 141.0 329.2 141.6 331.1 142.6 332.7 143.8 333.6 145.4 334.2 147.6 334.6 150.6 334.8 182.8 334.7 192.6 334.3 194.2 333.9 195.0 333.0 195.6 331.3 196.6 326.1 197.0 325.1 197.4 326.0 198.4 331.1 199.0 332.9 199.8 333.8 201.0 334.1 205.6 334.3 217.6 334.1 224.4 333.8 227.2 333.4 228.2 332.8 228.8 331.7 230.2 324.5 230.4 325.1 231.2 329.9 231.8 331.6 232.2 331.8 233.0 331.8 233.6 331.4 234.2 330.7 235.0 327.9 236.0 320.0 236.4 318.1 236.6 318.2 236.8 319.0 237.6 323.1 237.8 323.3 238.0 322.9 238.4 319.2 238.6 313.1 239.0 267.4 239.5 163.2 240.2 298.8 240.6 318.7 241.0 322.8 241.4 324.3 243.6 328.2 244.4 329.2 245.6 330.1 247.2 330.6 252.6 330.9 257.8 330.5 259.2 330.1 260.4 329.5 261.2 328.8 261.8 327.9 262.4 326.2 262.8 324.1 263.4 316.9 264.6 280.2 264.9 276.9 265.2 283.0 266.4 318.7 266.8 323.4 267.2 325.9 267.8 327.8 268.4 328.8 269.4 329.7 270.6 330.4 272.4 330.9 275.2 331.3 283.4 332.1 306.0 333.7" stroke="#ffa200" stroke-width="0.72"/><path d="M23.6 331.1L27.6 331.5 29.8 331.6 31.4 331.2 32.8 330.3 34.0 328.7 35.0 326.8 38.8 316.7 39.6 315.5 40.2 315.2 41.0 315.8 41.8 317.3 45.2 327.6 47.0 331.6 48.0 333.0 49.2 334.0 50.6 334.8 52.2 335.2 57.2 335.9 60.8 336.1 62.0 335.8 63.8 334.5 64.3 334.4 65.0 334.6 66.8 335.9 68.8 336.4 105.8 336.4 114.4 336.2 121.0 335.8 124.2 335.4 126.0 334.5 126.8 333.6 127.4 331.5 127.8 325.3 128.5 248.7 129.0 320.2 129.4 330.7 129.8 332.7 130.2 333.5 130.8 334.1 131.8 334.5 133.4 334.5 135.0 334.1 136.2 333.4 137.2 332.2 138.0 330.4 138.4 328.5 138.8 321.7 139.0 306.1 139.6 161.8 140.4 321.1 140.6 326.4 141.0 329.5 141.6 331.4 142.6 332.9 143.8 333.8 145.4 334.4 147.4 334.7 150.4 334.9 183.2 334.8 192.8 334.4 194.4 334.0 195.2 333.0 195.8 331.0 196.8 326.1 197.1 325.6 197.4 326.2 198.4 331.1 199.0 333.0 199.8 333.9 201.0 334.3 205.6 334.4 217.6 334.3 224.4 334.0 227.2 333.5 228.2 333.0 228.8 331.9 230.2 325.1 230.4 325.6 231.2 330.2 231.8 331.8 232.2 332.1 233.0 332.0 233.6 331.7 234.2 331.0 235.0 328.4 236.4 319.0 236.6 319.1 236.8 319.8 237.6 323.6 237.8 323.8 238.0 323.4 238.4 319.6 238.6 313.4 239.0 267.7 239.5 163.2 240.2 299.3 240.6 319.3 241.0 323.5 241.4 325.0 243.4 328.4 244.4 329.7 245.6 330.5 247.4 330.9 253.2 331.1 258.0 330.6 259.4 330.2 260.6 329.6 261.4 328.8 262.0 327.8 262.8 324.6 263.4 317.5 264.6 279.9 264.9 276.5 265.2 282.9 265.8 304.9 266.4 319.3 267.0 325.3 267.4 327.1 268.2 328.8 269.2 329.9 270.4 330.6 272.2 331.1 275.0 331.6 283.0 332.3 306.0 333.9" stroke="#ff8d00" stroke-width="0.72"/><path d="M23.6 331.4L29.8 331.9 31.4 331.6 32.8 330.8 34.0 329.3 35.0 327.5 38.8 317.8 39.6 316.7 40.2 316.5 41.0 317.0 41.8 318.5 45.0 327.8 46.8 331.7 47.8 333.1 49.0 334.1 50.4 334.9 52.0 335.3 57.0 336.0 60.8 336.2 62.0 335.9 63.8 334.5 64.3 334.3 65.0 334.6 66.8 336.0 68.8 336.4 105.8 336.5 114.6 336.3 121.2 335.9 124.2 335.5 126.0 334.7 126.8 333.7 127.4 331.5 127.8 324.8 128.5 242.0 129.0 319.3 129.4 330.6 129.8 332.7 130.2 333.6 130.8 334.3 131.6 334.6 133.2 334.7 134.8 334.4 136.2 333.6 137.2 332.5 138.0 330.7 138.4 328.8 138.8 322.2 139.0 306.8 139.6 162.2 140.4 321.3 140.6 326.7 141.0 329.8 141.6 331.7 142.6 333.2 143.8 334.0 145.4 334.6 150.4 335.0 183.6 334.9 193.0 334.5 194.4 334.2 195.2 333.3 195.8 331.7 196.8 326.9 197.1 326.2 197.6 327.3 198.4 331.2 199.0 333.1 199.8 334.1 201.0 334.4 205.6 334.6 217.6 334.4 224.4 334.1 227.2 333.7 228.2 333.2 228.8 332.2 230.2 325.6 230.4 326.1 231.2 330.5 231.8 332.1 232.2 332.3 233.0 332.2 233.6 331.9 234.2 331.3 235.0 328.8 236.4 319.9 236.6 320.0 236.8 320.7 237.6 324.1 237.8 324.3 238.0 323.8 238.4 319.9 238.6 313.8 239.0 267.9 239.5 163.2 240.2 299.8 240.6 319.8 241.0 324.1 241.4 325.8 243.2 328.8 244.2 330.0 245.6 330.8 247.4 331.2 253.4 331.4 258.0 330.9 259.4 330.5 260.6 329.8 261.4 329.1 262.0 328.1 262.8 325.1 263.4 318.2 264.6 279.9 264.9 276.3 266.4 320.0 267.0 325.8 267.4 327.5 268.2 329.2 269.2 330.2 270.4 330.8 272.4 331.4 275.0 331.9 282.8 332.6 306.0 334.0" stroke="#ff7700" stroke-width="0.72"/><path d="M23.6 331.7L27.8 332.2 30.0 332.3 31.6 331.9 32.8 331.3 34.0 329.9 35.0 328.2 38.8 319.1 39.6 318.0 40.2 317.8 41.0 318.4 41.8 319.8 45.0 328.6 46.8 332.2 47.8 333.4 49.0 334.4 50.4 335.0 52.0 335.4 57.2 336.1 60.8 336.2 62.0 335.9 63.8 334.5 64.3 334.3 65.0 334.6 66.8 336.0 68.8 336.5 106.6 336.5 115.6 336.3 121.8 336.0 124.6 335.5 126.2 334.6 127.0 333.3 127.4 331.4 127.8 324.3 128.5 234.6 129.0 318.3 129.4 330.5 130.0 333.4 130.6 334.2 131.4 334.7 133.0 334.9 134.8 334.5 136.2 333.8 137.2 332.8 138.0 331.1 138.4 329.2 138.8 322.7 139.2 268.4 139.6 162.6 140.4 321.5 140.8 329.0 141.2 330.9 141.8 332.4 142.8 333.6 144.2 334.4 146.2 334.9 149.0 335.1 182.4 335.0 192.8 334.7 194.6 334.3 195.4 333.3 196.0 331.5 196.8 327.7 197.2 326.7 197.6 327.5 198.4 331.3 199.0 333.2 199.6 334.0 200.4 334.4 202.6 334.7 207.4 334.7 224.4 334.3 227.2 333.9 228.4 333.2 229.0 331.8 230.2 326.2 231.6 332.0 232.0 332.5 232.4 332.6 233.2 332.4 233.8 332.0 234.4 331.2 235.0 329.2 236.4 320.8 236.6 320.9 236.8 321.5 237.4 324.2 237.6 324.7 237.8 324.8 238.2 323.0 238.4 320.3 238.8 299.3 239.5 163.2 240.2 300.2 240.6 320.4 241.0 324.8 241.4 326.5 242.8 328.9 244.0 330.3 245.4 331.1 247.4 331.5 253.4 331.6 258.0 331.1 259.4 330.7 260.6 330.1 261.4 329.4 262.0 328.4 262.8 325.6 263.4 319.0 264.6 280.0 264.9 276.3 266.4 320.7 267.0 326.3 267.4 327.9 268.2 329.5 269.2 330.5 270.4 331.1 272.4 331.7 275.0 332.1 282.6 332.8 306.0 334.2" stroke="#ff5f00" stroke-width="0.72"/><path d="M23.6 332.0L30.0 332.6 31.6 332.4 33.0 331.6 34.2 330.3 35.2 328.6 38.8 320.3 39.6 319.3 40.2 319.1 41.0 319.7 41.8 321.1 45.0 329.4 46.6 332.4 47.6 333.6 48.8 334.5 50.2 335.1 51.8 335.5 57.4 336.2 60.8 336.3 62.0 335.9 63.8 334.5 64.3 334.3 65.0 334.6 66.8 336.1 68.8 336.5 106.6 336.6 121.8 336.0 124.6 335.6 126.2 334.8 127.0 333.3 127.4 331.4 127.8 323.7 128.5 227.2 129.0 317.3 129.4 330.4 130.0 333.4 130.6 334.4 131.4 334.9 133.0 335.0 134.8 334.7 136.2 334.0 137.2 333.0 138.0 331.4 138.4 329.6 138.8 323.2 139.2 269.6 139.6 162.9 140.4 321.7 140.8 329.3 141.2 331.3 141.8 332.7 142.8 333.8 144.2 334.5 146.2 335.0 149.0 335.2 182.6 335.1 192.8 334.9 194.6 334.5 195.4 333.7 196.0 332.1 197.0 327.7 197.3 327.2 197.6 327.8 199.0 333.3 199.6 334.2 200.4 334.6 202.6 334.8 207.4 334.8 224.4 334.4 227.2 334.0 228.4 333.4 229.0 332.0 230.2 326.7 231.6 332.3 232.0 332.7 232.4 332.8 233.2 332.7 233.8 332.3 234.4 331.5 235.0 329.6 236.4 321.7 236.6 321.8 236.8 322.3 237.4 324.8 237.6 325.2 237.8 325.2 238.2 323.4 238.4 320.7 238.8 299.6 239.5 163.2 240.2 300.6 240.6 321.0 241.0 325.5 241.6 327.8 243.0 329.9 244.4 331.1 246.2 331.6 249.2 331.9 254.6 331.8 258.8 331.1 260.0 330.7 261.0 330.1 261.6 329.4 262.2 328.3 262.6 327.1 263.0 324.7 263.4 319.7 264.6 280.2 264.9 276.3 266.4 321.4 267.0 326.8 267.4 328.3 268.2 329.9 269.2 330.8 270.6 331.5 272.6 332.0 275.2 332.4 282.4 333.0 306.0 334.4" stroke="#ff4700" stroke-width="0.72"/><path d="M23.6 332.3L30.0 333.0 31.6 332.7 33.0 332.1 34.2 330.9 35.2 329.3 38.8 321.6 39.6 320.7 40.2 320.5 40.8 320.8 41.6 322.0 44.8 329.7 46.6 332.9 47.6 334.0 48.6 334.7 49.8 335.2 51.6 335.6 57.4 336.2 60.8 336.3 62.0 336.0 63.8 334.5 64.3 334.3 65.0 334.6 66.8 336.1 67.6 336.4 68.8 336.6 106.8 336.6 122.0 336.1 124.8 335.7 126.2 334.9 127.0 333.4 127.4 331.3 127.8 323.1 128.5 219.8 129.0 316.3 129.4 330.3 130.0 333.5 130.6 334.5 131.4 335.0 133.0 335.2 135.0 334.8 136.4 334.1 137.4 333.0 138.2 331.0 138.6 328.1 139.0 309.1 139.6 163.3 140.4 321.9 140.8 329.6 141.6 332.6 142.4 333.7 143.8 334.6 145.8 335.1 148.6 335.4 182.6 335.2 192.8 335.0 194.6 334.7 195.4 334.0 196.0 332.6 197.0 328.4 197.3 327.8 197.6 328.1 199.0 333.4 199.6 334.3 200.4 334.7 202.6 334.9 207.0 335.0 224.2 334.6 227.2 334.2 228.4 333.6 229.0 332.3 230.2 327.3 231.6 332.5 232.0 333.0 232.4 333.1 233.8 332.6 234.4 331.8 235.0 330.1 236.4 322.6 236.6 322.6 236.8 323.2 237.4 325.4 237.6 325.7 237.8 325.7 238.2 323.8 238.4 321.1 238.8 299.9 239.5 163.1 240.2 301.1 240.6 321.5 241.0 326.1 241.6 328.5 242.8 330.3 244.4 331.5 246.4 332.0 249.8 332.1 254.8 332.0 258.8 331.3 260.0 330.9 261.0 330.3 261.6 329.7 262.2 328.7 262.6 327.5 263.0 325.2 263.4 320.5 264.9 276.4 266.2 318.8 266.8 326.2 267.2 328.1 268.0 329.9 269.0 331.0 270.4 331.7 272.4 332.3 275.0 332.7 281.8 333.2 306.0 334.6" stroke="#ff3000" stroke-width="0.72"/><path d="M23.6 332.6L30.0 333.3 31.6 333.1 33.0 332.5 34.2 331.5 35.2 330.0 38.8 322.8 39.6 322.0 40.2 321.8 40.8 322.2 41.6 323.2 44.8 330.4 46.4 333.1 47.4 334.1 48.4 334.8 49.6 335.3 51.4 335.7 57.4 336.3 60.8 336.4 62.0 336.0 63.8 334.5 64.3 334.3 65.0 334.5 66.8 336.1 67.6 336.4 68.8 336.6 106.8 336.7 122.2 336.2 124.8 335.8 126.2 335.0 127.0 333.5 127.4 331.4 127.8 322.7 128.5 214.2 129.0 315.5 129.4 330.2 130.0 333.7 130.6 334.7 131.4 335.2 133.0 335.4 135.0 335.0 136.4 334.4 137.4 333.3 138.2 331.3 138.6 328.5 139.0 309.8 139.6 163.7 140.4 322.1 140.8 330.0 141.6 332.9 142.4 333.9 143.8 334.8 145.6 335.2 148.4 335.5 182.8 335.4 192.8 335.1 194.8 334.8 195.6 334.0 196.2 332.5 197.0 329.2 197.4 328.3 197.8 329.1 199.0 333.6 199.6 334.5 200.4 334.8 202.4 335.0 206.8 335.1 224.2 334.7 227.2 334.4 228.4 333.8 229.0 332.6 230.2 327.8 231.6 332.8 232.0 333.2 232.4 333.3 233.8 332.8 234.4 332.1 235.0 330.5 236.4 323.5 236.6 323.5 236.8 324.0 237.4 326.0 237.6 326.3 237.8 326.2 238.2 324.2 238.4 321.4 238.8 300.2 239.5 163.1 240.2 301.5 240.6 322.1 241.0 326.8 241.6 329.3 242.6 330.9 244.2 331.9 246.6 332.3 251.0 332.4 255.4 332.2 259.2 331.4 261.0 330.6 262.2 329.1 262.6 327.9 263.0 325.8 263.6 317.3 264.6 280.6 264.9 276.4 266.2 319.6 266.8 326.7 267.2 328.6 268.0 330.3 269.0 331.3 270.4 332.0 272.4 332.5 275.0 332.9 281.4 333.5 306.0 334.8" stroke="#ff1800" stroke-width="0.72"/><path d="M23.6 332.9L30.0 333.6 31.6 333.5 33.0 333.0 34.2 332.0 35.2 330.7 38.8 324.1 39.4 323.4 40.1 323.2 40.8 323.5 41.6 324.5 44.8 331.2 46.4 333.6 47.4 334.5 48.4 335.1 51.4 335.8 57.8 336.4 60.8 336.4 62.0 336.0 63.8 334.4 64.3 334.2 65.0 334.5 66.8 336.2 67.6 336.5 68.8 336.7 108.2 336.7 123.0 336.2 125.2 335.8 126.4 335.0 127.0 333.6 127.4 331.4 127.8 322.4 128.5 209.2 129.0 314.9 129.4 330.2 130.0 333.8 130.4 334.6 131.2 335.3 132.8 335.5 134.8 335.3 136.4 334.6 137.4 333.6 138.2 331.6 138.6 328.9 139.0 310.6 139.6 164.1 140.4 322.3 140.8 330.3 141.2 332.2 141.6 333.1 142.4 334.2 143.8 335.0 145.6 335.4 148.2 335.6 183.4 335.5 193.0 335.3 194.8 335.0 195.6 334.4 196.2 333.1 197.2 329.3 197.5 328.9 197.8 329.4 199.0 333.7 199.6 334.6 200.4 335.0 202.4 335.2 206.8 335.2 224.2 334.9 227.2 334.5 228.4 334.0 229.0 332.8 230.2 328.4 231.6 333.1 232.0 333.4 232.4 333.5 233.8 333.1 234.4 332.4 235.0 330.9 236.4 324.4 236.6 324.4 236.8 324.8 237.4 326.6 237.6 326.8 237.8 326.6 238.2 324.6 238.4 321.8 238.8 300.5 239.5 163.0 240.2 301.9 240.6 322.6 241.0 327.4 241.6 330.1 242.1 331.0 242.6 331.6 244.2 332.3 247.8 332.6 253.6 332.5 257.4 332.1 260.0 331.4 261.4 330.5 262.4 328.9 262.8 327.5 263.2 324.6 263.6 318.2 264.9 276.4 266.2 320.4 266.8 327.3 267.2 329.0 268.0 330.6 269.0 331.6 270.4 332.3 272.4 332.8 275.0 333.2 306.0 335.0" stroke="#ff0000" stroke-width="0.95"/><path d="M23.6 327.1L27.4 327.4 29.4 327.2 31.0 326.4 32.4 324.8 33.6 322.3 34.8 318.6 38.8 302.3 39.6 300.5 40.0 300.0 40.4 299.9 41.2 300.8 42.2 303.7 45.8 320.5 47.8 327.4 48.8 329.7 50.0 331.5 51.4 332.9 53.0 333.8 56.2 334.7 60.2 335.3 62.0 335.3 64.3 334.6 67.6 335.6 74.8 335.8 108.2 335.7 118.0 335.1 121.2 334.7 123.4 334.2 125.0 333.6 126.4 332.6 127.2 331.4 127.6 330.1 128.0 322.4 128.5 295.0 129.0 325.9 129.4 330.5 129.8 331.5 130.4 332.1 131.4 332.7 132.6 332.8 133.8 332.7 134.8 332.3 135.8 331.5 136.6 330.6 137.8 328.0 138.4 324.8 138.8 314.8 139.5 158.3 140.0 276.6 140.4 320.3 140.6 323.9 141.2 327.6 142.0 329.7 143.2 331.4 144.6 332.4 146.4 333.1 148.8 333.5 152.2 333.8 182.2 333.6 188.8 333.3 192.0 333.0 193.0 332.7 193.6 332.2 194.4 330.8 195.0 328.2 196.2 319.9 196.5 319.1 197.0 320.8 198.0 327.9 198.6 330.6 199.4 332.1 200.6 332.7 205.2 333.0 216.8 332.8 224.0 332.3 225.8 332.0 227.2 331.6 228.2 330.8 228.8 329.3 230.2 319.7 230.4 320.4 231.2 326.7 231.6 328.5 232.0 329.2 232.4 329.3 233.0 329.1 233.6 328.6 234.2 327.5 234.8 325.0 236.4 309.8 236.6 310.0 236.8 311.1 237.8 318.2 238.0 318.3 238.2 317.8 238.4 316.1 238.8 302.6 239.5 216.3 240.0 279.7 240.4 304.6 240.6 307.0 240.8 307.3 241.8 304.4 242.1 304.3 242.4 305.2 244.6 319.7 245.4 322.8 246.2 324.7 247.4 326.2 249.2 327.3 251.6 327.8 254.8 327.9 257.4 327.6 259.2 326.9 260.4 325.9 261.4 324.1 262.0 322.0 262.4 319.6 263.0 313.5 264.4 284.2 264.9 279.2 265.2 282.3 266.2 305.0 267.0 317.0 267.8 322.5 268.4 324.4 269.2 325.8 270.4 327.0 271.8 327.8 273.8 328.4 276.8 329.0 284.6 330.1 306.0 332.2" stroke="#fff" stroke-width="0.6"/></g>
<rect x="23.6" y="198.8" width="282.4" height="140.5" fill="none" stroke="#333" stroke-width="1.2"/>
<g stroke="#333" stroke-width="1"><line x1="23.60" y1="339.3" x2="23.60" y2="343.8"/><line x1="63.94" y1="339.3" x2="63.94" y2="343.8"/><line x1="104.29" y1="339.3" x2="104.29" y2="343.8"/><line x1="144.63" y1="339.3" x2="144.63" y2="343.8"/><line x1="184.97" y1="339.3" x2="184.97" y2="343.8"/><line x1="225.31" y1="339.3" x2="225.31" y2="343.8"/><line x1="265.66" y1="339.3" x2="265.66" y2="343.8"/><line x1="306.00" y1="339.3" x2="306.00" y2="343.8"/><line x1="43.77" y1="339.3" x2="43.77" y2="341.9"/><line x1="84.11" y1="339.3" x2="84.11" y2="341.9"/><line x1="124.46" y1="339.3" x2="124.46" y2="341.9"/><line x1="164.80" y1="339.3" x2="164.80" y2="341.9"/><line x1="205.14" y1="339.3" x2="205.14" y2="341.9"/><line x1="245.49" y1="339.3" x2="245.49" y2="341.9"/><line x1="285.83" y1="339.3" x2="285.83" y2="341.9"/></g>
<g font-size="10.4" text-anchor="middle" fill="#111" stroke="#111" stroke-width="0.25"><text x="23.60" y="354.3" textLength="15.60" lengthAdjust="spacingAndGlyphs">400</text><text x="63.94" y="354.3" textLength="15.60" lengthAdjust="spacingAndGlyphs">600</text><text x="104.29" y="354.3" textLength="15.60" lengthAdjust="spacingAndGlyphs">800</text><text x="144.63" y="354.3" textLength="20.79" lengthAdjust="spacingAndGlyphs">1000</text><text x="184.97" y="354.3" textLength="20.79" lengthAdjust="spacingAndGlyphs">1200</text><text x="225.31" y="354.3" textLength="20.79" lengthAdjust="spacingAndGlyphs">1400</text><text x="265.66" y="354.3" textLength="20.79" lengthAdjust="spacingAndGlyphs">1600</text><text x="306.00" y="354.3" textLength="20.79" lengthAdjust="spacingAndGlyphs">1800</text></g>
<g font-size="11.4" fill="#111" stroke="#111" stroke-width="0.35"><text x="117.1" y="366.7">Raman shift</text><text x="181.0" y="366.7" letter-spacing="0.45">(cm</text><text x="201.7" y="362.1" font-size="7.6" letter-spacing="0.4">-1</text><text x="209.0" y="366.7">)</text></g>
<text transform="translate(12.9,270.0) rotate(-90)" text-anchor="middle" font-size="11.85" fill="#111" stroke="#111" stroke-width="0.35">Intensity (arb. units)</text>
<g font-size="24" fill="#111" stroke="#111" stroke-width="0.25"><text x="268.3" y="228.0">(</text><text x="276.6" y="228.0">b</text><text x="290.7" y="228.0">)</text></g>
<rect x="315.7" y="198.20" width="15.7" height="16.25" fill="#0000ee"/><rect x="315.7" y="214.40" width="15.7" height="16.25" fill="#0a80ff"/><rect x="315.7" y="230.60" width="15.7" height="16.25" fill="#00ffff"/><rect x="315.7" y="246.80" width="15.7" height="16.25" fill="#00f080"/><rect x="315.7" y="263.00" width="15.7" height="16.25" fill="#00f000"/><rect x="315.7" y="279.20" width="15.7" height="16.25" fill="#80f000"/><rect x="315.7" y="295.40" width="15.7" height="16.25" fill="#ffff00"/><rect x="315.7" y="311.60" width="15.7" height="16.25" fill="#ff8000"/><rect x="315.7" y="327.80" width="15.7" height="16.25" fill="#ff0000"/>
<g font-size="6.5" fill="#222"><text x="333.6" y="200.90">30.00</text><text x="333.6" y="217.10">4.889</text><text x="333.6" y="233.30">-20.22</text><text x="333.6" y="249.50">-45.33</text><text x="333.6" y="265.70">-70.44</text><text x="333.6" y="281.90">-95.56</text><text x="333.6" y="298.10">-120.7</text><text x="333.6" y="314.30">-145.8</text><text x="333.6" y="330.50">-170.9</text><text x="333.6" y="346.70">-196.0</text></g>
<g stroke="#d4d4d4" stroke-width="0.6"><line x1="45.32" y1="375.9" x2="45.32" y2="515.6" stroke="#a8a8a8"/><line x1="67.05" y1="375.9" x2="67.05" y2="515.6" stroke="#ececec"/><line x1="88.77" y1="375.9" x2="88.77" y2="515.6" stroke="#d6d6d6"/><line x1="110.49" y1="375.9" x2="110.49" y2="515.6" stroke="#ececec"/><line x1="132.22" y1="375.9" x2="132.22" y2="515.6" stroke="#d6d6d6"/><line x1="153.94" y1="375.9" x2="153.94" y2="515.6" stroke="#ececec"/><line x1="175.66" y1="375.9" x2="175.66" y2="515.6" stroke="#a8a8a8"/><line x1="197.38" y1="375.9" x2="197.38" y2="515.6" stroke="#ececec"/><line x1="219.11" y1="375.9" x2="219.11" y2="515.6" stroke="#a8a8a8"/><line x1="240.83" y1="375.9" x2="240.83" y2="515.6" stroke="#ececec"/><line x1="262.55" y1="375.9" x2="262.55" y2="515.6" stroke="#a8a8a8"/><line x1="284.28" y1="375.9" x2="284.28" y2="515.6" stroke="#ececec"/><line x1="23.6" y1="422.90" x2="306.0" y2="422.90"/><line x1="23.6" y1="469.50" x2="306.0" y2="469.50"/></g>
<clipPath id="clipc"><rect x="23.6" y="375.9" width="282.4" height="139.7"/></clipPath><g clip-path="url(#clipc)" fill="none" stroke-linejoin="round"><clipPath id="arc"><path d="M23.6 370.9L23.6 510.4 45.4 510.1 49.6 509.7 51.8 509.2 52.4 508.8 53.0 508.2 53.8 506.4 54.4 504.0 55.6 497.7 56.0 496.4 56.2 496.2 56.4 496.4 56.8 497.5 58.4 504.6 58.8 505.7 59.4 506.5 60.2 507.0 62.8 507.4 67.0 509.0 69.4 509.5 73.0 509.7 78.6 509.7 81.6 509.4 83.2 509.0 84.0 508.3 84.6 507.2 85.2 505.6 86.4 501.2 87.0 500.2 87.2 500.2 87.6 501.0 88.8 505.3 89.6 507.4 90.4 508.4 91.4 508.8 92.6 508.7 93.8 508.2 94.8 507.4 96.6 505.5 97.5 505.1 98.4 505.5 100.8 507.6 102.2 508.2 104.6 508.3 107.8 507.8 110.0 507.1 111.6 506.1 113.0 504.7 114.0 502.9 115.0 499.7 115.6 495.3 116.2 485.1 116.6 471.3 117.2 433.7 118.4 319.4 118.7 307.5 119.0 313.9 119.2 326.9 120.4 441.5 121.2 481.9 121.6 490.7 122.2 497.1 122.6 499.2 123.2 501.1 123.8 502.3 124.6 503.3 125.6 504.2 127.0 504.9 128.8 505.5 131.0 505.8 134.8 506.0 139.2 506.1 141.6 505.8 143.0 505.4 144.0 504.4 144.8 502.4 145.4 499.8 146.6 492.6 147.0 491.0 147.2 490.7 147.6 491.2 147.8 491.9 149.2 499.6 150.2 502.9 150.8 503.7 151.8 504.2 153.0 504.2 154.6 503.9 158.6 502.3 162.0 500.4 165.4 498.0 170.2 493.6 175.8 489.2 178.2 487.8 179.2 487.5 180.2 487.4 181.6 487.7 183.2 488.4 192.2 494.3 194.0 495.0 197.6 494.9 204.4 493.9 212.6 492.1 214.6 492.0 216.2 492.3 218.6 493.2 226.4 497.2 240.0 504.6 245.2 506.3 251.2 507.7 260.8 509.2 270.4 510.2 291.0 511.6 306.0 512.0 306.0 370.9 Z"/></clipPath><g clip-path="url(#arc)" stroke="none"><path d="M23.6 509.2 36.8 509.0 45.2 508.7 49.6 508.3 52.2 507.4 53.0 506.8 53.6 506.0 54.6 503.4 55.4 499.8 56.8 491.4 57.2 489.8 57.6 489.2 58.2 490.3 60.0 497.8 60.6 499.3 61.2 500.3 65.6 505.0 67.0 506.2 69.2 507.3 71.8 507.8 75.4 507.9 79.0 507.8 81.2 507.4 82.4 506.9 83.2 506.1 84.0 504.8 86.2 498.3 86.6 497.4 87.0 497.0 87.4 497.2 87.8 498.0 90.0 504.4 90.8 505.7 91.8 506.5 92.8 506.7 93.8 506.5 97.5 505.0 101.4 505.8 102.8 505.7 104.4 505.3 106.0 504.6 107.4 503.8 109.6 501.6 111.4 498.5 112.8 494.1 113.8 488.4 114.6 479.0 115.2 464.2 115.8 436.1 116.8 339.9 118.2 136.4 118.7 104.4 119.0 111.5 119.4 148.4 120.8 352.2 121.8 440.6 122.4 465.5 123.2 480.9 124.2 488.7 125.0 491.8 125.8 493.9 126.8 495.7 128.0 497.2 129.4 498.3 131.0 499.1 133.4 499.8 136.6 500.3 139.6 500.6 142.0 500.5 143.0 500.2 143.8 499.8 145.0 498.3 146.0 495.7 147.6 489.7 148.0 488.7 148.4 488.3 149.0 489.0 150.8 494.0 151.8 495.9 152.4 496.5 153.2 497.0 155.2 497.1 157.6 496.6 160.0 495.7 165.2 492.9 170.4 489.7 176.8 487.3 179.0 486.9 181.0 486.9 188.4 488.3 192.8 488.8 195.2 488.8 197.6 488.1 202.8 485.4 209.8 482.4 212.6 481.6 214.8 481.5 216.4 481.8 218.4 482.6 227.8 488.0 232.8 491.4 238.6 496.5 241.2 498.4 247.0 501.4 252.6 503.6 261.8 506.0 270.8 507.5 291.0 509.7 298.8 510.2 306.0 510.4 L306.0 517.6 L23.6 517.6 Z" fill="#0000f0"/><path d="M23.6 509.1 37.0 509.0 45.2 508.7 49.6 508.2 52.2 507.4 53.0 506.8 53.6 505.9 54.6 503.4 55.4 499.7 56.8 491.2 57.2 489.5 57.6 488.9 58.2 490.1 60.0 497.7 60.6 499.2 61.2 500.2 65.6 504.9 67.2 506.3 69.2 507.3 71.8 507.8 75.2 507.9 79.0 507.8 81.2 507.4 82.4 506.9 83.2 506.1 84.0 504.8 86.2 498.2 86.6 497.3 87.0 496.9 87.4 497.2 87.8 498.0 90.0 504.4 90.8 505.7 91.6 506.4 92.6 506.6 93.8 506.5 97.5 504.9 101.4 505.8 102.8 505.7 104.4 505.3 106.0 504.6 107.4 503.8 109.6 501.6 111.4 498.5 112.8 494.1 114.0 486.8 114.8 475.3 115.4 457.1 115.8 436.6 116.8 340.7 118.2 136.5 118.7 104.3 119.0 111.5 119.4 148.5 120.8 352.9 121.8 441.0 122.4 465.7 123.2 481.0 124.2 488.7 125.0 491.8 125.8 493.9 126.8 495.7 128.0 497.1 129.4 498.2 131.0 499.0 133.4 499.7 136.6 500.2 139.6 500.4 142.0 500.3 143.0 500.1 143.8 499.7 145.0 498.1 146.0 495.5 147.6 489.4 148.0 488.4 148.4 488.0 149.0 488.7 150.8 493.9 151.8 495.8 153.0 496.7 155.0 496.9 157.6 496.4 160.0 495.5 165.2 492.7 170.4 489.3 174.6 487.5 177.2 486.7 179.2 486.3 181.2 486.3 191.4 488.5 193.6 488.8 195.2 488.8 197.6 488.1 202.8 485.4 210.0 482.5 212.6 481.7 214.8 481.6 216.4 481.9 218.4 482.7 227.6 488.0 232.8 491.6 238.6 496.6 241.2 498.4 247.0 501.4 252.6 503.6 261.8 506.0 270.8 507.5 291.0 509.7 298.8 510.2 306.0 510.4 L306.0 517.6 L23.6 517.6 Z" fill="#001df3"/><path d="M23.6 509.1 45.2 508.6 49.6 508.2 52.2 507.3 53.0 506.7 53.6 505.9 54.6 503.3 55.4 499.7 56.8 491.0 57.2 489.3 57.6 488.7 58.2 489.9 60.0 497.6 61.0 499.8 65.6 504.8 67.0 506.1 69.0 507.2 71.6 507.7 75.0 507.9 78.8 507.7 81.0 507.4 82.4 506.9 83.2 506.1 84.0 504.8 86.2 498.1 86.6 497.2 87.0 496.8 87.4 497.1 87.8 497.9 90.0 504.4 90.8 505.7 91.6 506.3 92.6 506.6 93.8 506.5 97.5 504.9 101.4 505.7 102.8 505.7 104.4 505.2 106.0 504.6 107.4 503.8 109.6 501.6 111.4 498.5 112.8 494.2 114.0 486.9 114.8 475.5 115.4 457.5 115.8 437.1 116.8 341.4 118.2 136.6 118.7 104.3 119.0 111.4 119.4 148.7 120.8 353.6 121.8 441.5 122.4 466.0 123.0 478.5 124.0 487.6 124.8 491.1 125.8 493.8 126.8 495.6 128.0 497.0 129.4 498.1 131.0 498.9 133.4 499.6 136.6 500.1 139.6 500.3 142.0 500.2 143.0 499.9 143.8 499.5 145.0 498.0 146.0 495.3 147.6 489.1 148.0 488.1 148.4 487.7 149.0 488.4 150.8 493.7 151.8 495.6 153.0 496.6 154.8 496.7 157.4 496.2 160.0 495.3 165.2 492.4 170.6 488.8 175.0 486.9 177.6 486.0 179.6 485.7 181.6 485.8 192.0 488.5 195.0 488.8 197.6 488.0 202.8 485.5 210.0 482.6 212.6 481.8 214.8 481.7 216.4 482.0 218.4 482.8 227.4 488.0 232.8 491.7 238.6 496.6 241.2 498.5 247.0 501.4 252.6 503.6 261.8 506.0 270.8 507.5 291.0 509.7 298.8 510.2 306.0 510.4 L306.0 517.6 L23.6 517.6 Z" fill="#003bf7"/><path d="M23.6 509.0 45.2 508.6 49.6 508.1 52.2 507.3 53.0 506.7 53.6 505.9 54.6 503.3 55.4 499.6 56.8 490.9 57.2 489.1 57.6 488.5 58.2 489.7 60.0 497.5 61.0 499.8 65.6 504.7 67.0 506.0 69.0 507.1 71.6 507.7 75.2 507.8 79.0 507.7 81.2 507.3 82.6 506.7 83.4 505.9 84.2 504.4 86.2 498.1 86.6 497.1 87.0 496.7 87.4 497.0 87.8 497.8 90.0 504.4 90.8 505.7 91.6 506.3 92.6 506.6 93.8 506.5 97.5 504.9 101.4 505.7 102.8 505.6 104.4 505.2 106.0 504.6 107.4 503.7 109.6 501.6 111.4 498.5 112.8 494.2 114.0 487.0 114.8 475.7 115.4 457.9 115.8 437.6 116.8 342.2 118.2 136.8 118.7 104.2 119.2 126.7 120.8 354.4 121.8 441.9 122.4 466.2 123.0 478.6 124.0 487.6 124.8 491.1 125.8 493.8 126.8 495.5 128.0 496.9 129.4 498.0 131.0 498.8 133.4 499.5 136.4 499.9 139.6 500.2 142.0 500.0 143.0 499.8 143.8 499.4 145.0 497.8 146.0 495.1 147.6 488.8 148.0 487.8 148.4 487.4 149.0 488.1 150.6 493.0 151.6 495.2 152.8 496.3 154.6 496.5 157.4 496.0 160.0 495.0 165.2 492.1 170.6 488.4 175.2 486.3 177.8 485.4 179.8 485.1 181.8 485.3 192.4 488.5 195.0 488.7 197.6 488.0 202.8 485.5 210.2 482.6 212.6 481.9 214.8 481.8 216.4 482.1 218.4 482.9 227.2 488.0 232.8 491.8 238.6 496.7 241.2 498.5 247.0 501.4 252.8 503.7 262.0 506.0 270.8 507.5 291.2 509.8 299.0 510.3 306.0 510.4 L306.0 517.6 L23.6 517.6 Z" fill="#0058fa"/><path d="M23.6 509.0 37.4 508.8 45.4 508.5 49.6 508.1 52.2 507.2 53.0 506.6 53.6 505.8 54.6 503.3 55.4 499.5 57.0 489.7 57.6 488.3 58.2 489.5 60.0 497.5 61.0 499.7 65.6 504.7 67.0 505.9 69.0 507.0 71.6 507.6 75.2 507.8 79.0 507.6 81.2 507.3 82.6 506.7 83.4 505.8 84.2 504.4 86.2 498.0 86.6 497.0 87.0 496.6 87.4 496.9 87.8 497.8 90.0 504.4 90.8 505.7 91.6 506.3 92.6 506.6 93.8 506.4 97.5 504.9 101.4 505.7 102.8 505.6 104.4 505.2 106.0 504.6 107.4 503.7 109.6 501.6 111.4 498.5 112.8 494.2 114.0 487.0 114.8 475.9 115.4 458.2 115.8 438.1 116.8 342.9 118.2 136.9 118.7 104.1 119.2 126.8 120.8 355.1 121.8 442.3 122.4 466.5 123.0 478.7 124.0 487.6 124.8 491.0 125.8 493.7 126.8 495.5 128.0 496.9 129.4 497.9 131.0 498.7 133.2 499.3 136.0 499.8 139.2 500.0 141.8 499.9 143.0 499.7 143.8 499.2 145.0 497.7 146.0 495.0 147.6 488.5 148.0 487.5 148.4 487.1 149.0 487.9 150.6 492.9 151.6 495.0 152.2 495.8 152.8 496.2 154.6 496.4 157.4 495.8 160.0 494.8 165.2 491.8 170.6 488.0 175.4 485.7 178.0 484.8 180.0 484.6 182.2 484.8 192.4 488.3 194.8 488.7 197.6 488.0 202.8 485.6 210.2 482.7 212.6 482.1 214.8 481.9 216.4 482.2 218.4 483.1 227.0 488.0 232.8 491.9 238.6 496.7 241.2 498.5 247.2 501.5 252.8 503.7 262.0 506.0 270.8 507.5 291.2 509.8 299.0 510.3 306.0 510.4 L306.0 517.6 L23.6 517.6 Z" fill="#0075fe"/><path d="M23.6 508.9 37.6 508.8 45.6 508.5 50.0 507.9 52.4 507.1 53.6 505.8 54.6 503.2 55.4 499.5 57.0 489.5 57.4 488.2 57.6 488.0 58.2 489.3 60.0 497.4 61.0 499.6 65.8 504.8 67.2 506.0 69.2 507.0 71.8 507.6 75.4 507.7 79.2 507.6 81.4 507.2 82.6 506.7 83.4 505.8 84.2 504.4 86.2 497.9 86.6 497.0 87.0 496.5 87.4 496.8 87.8 497.7 90.0 504.4 90.8 505.7 91.6 506.3 92.6 506.6 93.8 506.4 97.5 504.9 101.4 505.7 102.8 505.6 104.6 505.1 106.2 504.4 107.6 503.6 109.8 501.3 111.6 498.0 113.0 493.4 114.0 487.1 114.8 476.1 115.4 458.6 116.0 425.2 116.8 343.7 118.2 137.0 118.7 104.0 119.2 126.8 120.8 355.8 121.8 442.8 122.4 466.7 123.0 478.8 124.0 487.6 124.8 491.0 125.8 493.7 126.8 495.4 128.0 496.8 129.4 497.8 131.0 498.6 133.2 499.2 136.0 499.6 139.2 499.9 141.8 499.8 143.0 499.5 143.8 499.1 145.0 497.6 146.0 494.8 147.6 488.3 148.0 487.2 148.4 486.8 149.0 487.6 150.6 492.7 151.6 494.9 152.2 495.6 152.8 496.0 154.4 496.2 157.4 495.6 160.2 494.4 165.2 491.5 170.8 487.5 175.6 485.1 178.2 484.2 180.2 484.0 182.4 484.3 192.6 488.3 194.8 488.6 197.6 487.9 202.8 485.6 210.4 482.7 212.8 482.1 214.8 482.0 216.4 482.3 218.4 483.2 226.8 488.0 232.6 491.9 238.6 496.8 241.2 498.5 247.2 501.5 252.8 503.7 262.0 506.0 270.8 507.5 291.2 509.8 299.0 510.3 306.0 510.4 L306.0 517.6 L23.6 517.6 Z" fill="#008ffd"/><path d="M23.6 508.8 37.6 508.7 45.6 508.4 50.0 507.9 52.4 507.0 53.6 505.8 54.6 503.2 55.4 499.4 57.0 489.3 57.4 488.0 57.6 487.8 58.2 489.1 59.8 496.6 60.4 498.4 61.0 499.5 63.2 501.7 65.8 504.7 67.2 505.9 69.2 507.0 71.8 507.5 75.2 507.7 79.0 507.5 81.2 507.2 82.6 506.6 83.4 505.8 84.2 504.4 86.4 497.3 87.0 496.4 87.4 496.7 87.8 497.6 89.2 502.4 90.0 504.4 90.8 505.7 91.6 506.3 92.6 506.6 93.8 506.4 97.5 504.8 101.4 505.7 102.8 505.6 104.6 505.1 106.2 504.4 107.6 503.6 109.8 501.3 111.6 498.0 113.0 493.4 114.0 487.2 114.8 476.3 115.4 459.0 116.0 425.8 116.8 344.4 118.2 137.1 118.7 104.0 119.2 126.9 120.8 356.5 121.8 443.2 122.4 466.9 123.0 478.9 124.0 487.6 124.8 491.0 125.6 493.2 126.6 495.0 127.8 496.5 129.2 497.6 130.8 498.4 133.0 499.1 135.8 499.5 139.2 499.7 141.8 499.6 143.0 499.4 143.8 498.9 145.0 497.4 146.0 494.6 147.6 488.0 148.0 486.9 148.4 486.5 149.0 487.3 150.6 492.5 151.6 494.7 152.6 495.7 154.2 496.0 157.2 495.4 160.2 494.2 165.2 491.2 170.8 487.2 175.6 484.6 178.4 483.6 180.4 483.4 182.6 483.9 189.2 486.5 192.6 488.2 194.6 488.6 197.6 487.9 202.8 485.7 210.4 482.8 212.8 482.2 214.8 482.1 216.4 482.5 218.4 483.3 226.6 487.9 232.6 492.0 238.6 496.8 241.2 498.6 247.2 501.6 252.8 503.7 262.0 506.0 270.8 507.5 291.2 509.8 299.0 510.3 306.0 510.5 L306.0 517.6 L23.6 517.6 Z" fill="#00a6f9"/><path d="M23.6 508.8 37.8 508.6 45.6 508.4 49.8 507.9 51.4 507.5 52.4 507.0 53.6 505.7 54.6 503.2 55.4 499.4 57.0 489.1 57.4 487.8 57.6 487.6 58.2 488.9 59.8 496.5 60.4 498.3 61.0 499.4 63.2 501.6 65.8 504.6 67.2 505.9 69.2 506.9 71.8 507.5 75.2 507.6 79.0 507.5 81.2 507.2 82.6 506.6 83.4 505.8 84.2 504.4 86.4 497.2 87.0 496.4 87.4 496.6 87.8 497.6 89.2 502.4 90.0 504.5 90.8 505.7 91.6 506.3 92.6 506.5 93.8 506.4 97.5 504.8 101.4 505.6 102.8 505.5 104.6 505.1 106.2 504.4 107.6 503.6 109.8 501.3 111.6 498.0 113.0 493.4 114.0 487.3 114.8 476.5 115.4 459.3 116.0 426.4 116.8 345.2 118.2 137.3 118.7 103.9 119.2 127.0 120.8 357.3 121.8 443.7 122.4 467.2 123.0 479.0 124.0 487.6 124.8 490.9 125.6 493.1 126.6 495.0 127.8 496.4 129.2 497.5 130.8 498.3 133.0 499.0 135.6 499.4 139.2 499.6 141.8 499.5 143.0 499.2 143.8 498.8 145.0 497.3 146.0 494.5 147.6 487.7 148.0 486.6 148.4 486.2 149.0 487.0 150.6 492.4 151.4 494.3 152.0 495.1 152.6 495.6 154.2 495.8 157.4 495.2 160.4 493.9 165.2 490.9 170.8 486.8 175.8 484.0 178.4 483.0 180.4 482.9 182.8 483.4 189.2 486.2 192.6 488.1 193.6 488.4 194.6 488.5 196.2 488.3 197.8 487.8 202.8 485.7 210.6 482.9 212.8 482.4 214.8 482.3 216.4 482.6 218.2 483.3 226.4 487.9 232.6 492.1 238.6 496.9 241.2 498.6 247.2 501.6 252.8 503.7 262.0 506.0 271.0 507.5 291.2 509.8 299.0 510.3 306.0 510.5 L306.0 517.6 L23.6 517.6 Z" fill="#00bdf6"/><path d="M23.6 508.7 45.6 508.3 49.8 507.9 51.4 507.4 52.4 506.9 53.6 505.7 54.6 503.1 55.4 499.3 57.0 488.9 57.4 487.6 57.6 487.4 58.2 488.8 59.8 496.4 60.4 498.2 61.0 499.3 63.2 501.5 65.8 504.5 67.2 505.8 69.2 506.9 71.8 507.4 75.2 507.6 79.0 507.5 81.2 507.2 82.6 506.6 83.4 505.8 84.2 504.4 86.4 497.2 87.0 496.3 87.4 496.6 87.8 497.5 89.8 504.0 90.6 505.5 91.6 506.3 92.6 506.5 93.8 506.4 97.5 504.8 101.4 505.6 102.8 505.5 104.6 505.1 106.2 504.4 107.6 503.5 109.8 501.3 111.6 498.0 113.0 493.5 114.0 487.4 114.8 476.7 115.4 459.7 116.0 427.0 116.8 345.9 118.2 137.4 118.7 103.8 119.2 127.0 120.8 358.0 121.8 444.1 122.4 467.4 123.0 479.1 124.0 487.6 124.8 490.9 125.6 493.1 126.6 494.9 127.8 496.3 129.2 497.4 130.8 498.2 133.0 498.8 135.6 499.2 139.2 499.4 141.8 499.3 143.0 499.1 143.8 498.7 145.0 497.1 146.0 494.3 147.6 487.4 148.3 485.9 148.6 486.0 149.0 486.7 150.6 492.2 151.4 494.1 152.4 495.3 153.2 495.6 154.0 495.7 157.2 495.0 160.4 493.6 165.2 490.6 170.8 486.4 175.8 483.5 178.6 482.4 180.6 482.3 183.0 482.9 189.2 485.9 192.6 488.0 194.4 488.4 196.0 488.3 197.8 487.8 202.8 485.8 210.6 483.0 212.8 482.5 214.8 482.4 216.4 482.7 218.2 483.4 226.2 487.9 232.6 492.2 238.6 496.9 241.2 498.6 247.2 501.6 252.8 503.7 262.0 506.0 271.0 507.5 291.2 509.8 299.0 510.3 306.0 510.5 L306.0 517.6 L23.6 517.6 Z" fill="#00d5f3"/><path d="M23.6 508.7 45.6 508.3 49.8 507.8 51.4 507.4 52.4 506.9 53.6 505.7 54.6 503.1 55.4 499.3 57.0 488.7 57.4 487.3 57.6 487.2 58.2 488.6 59.8 496.4 60.4 498.2 61.0 499.2 63.2 501.4 65.8 504.5 67.2 505.7 69.2 506.8 71.6 507.3 75.0 507.5 78.8 507.4 81.2 507.1 82.6 506.6 83.4 505.8 84.2 504.4 86.4 497.1 87.0 496.2 87.4 496.5 87.8 497.4 89.8 504.0 90.6 505.5 91.4 506.2 92.4 506.5 93.6 506.4 97.5 504.8 101.4 505.6 102.8 505.5 104.6 505.0 106.2 504.4 107.6 503.5 109.8 501.3 111.6 498.0 113.0 493.5 114.0 487.4 114.8 476.9 115.4 460.0 116.0 427.6 116.8 346.7 118.2 137.5 118.7 103.8 119.2 127.1 120.8 358.7 121.8 444.6 122.4 467.6 123.0 479.2 124.0 487.6 124.8 490.9 125.6 493.0 126.6 494.8 127.8 496.3 129.2 497.4 130.8 498.1 132.8 498.7 135.4 499.1 138.8 499.3 141.6 499.2 143.6 498.7 144.4 498.0 145.0 497.0 146.0 494.2 147.6 487.2 148.3 485.6 148.6 485.7 149.0 486.5 150.6 492.1 151.4 494.0 152.4 495.2 153.0 495.4 154.0 495.5 157.2 494.8 160.4 493.4 165.2 490.4 171.0 485.9 176.0 482.9 178.8 481.9 180.8 481.8 183.2 482.5 189.2 485.6 192.6 487.9 193.6 488.3 194.4 488.4 196.0 488.2 197.8 487.8 210.8 483.0 213.0 482.6 215.0 482.5 216.6 482.9 218.4 483.6 226.4 488.2 232.6 492.3 238.4 496.8 241.0 498.5 247.0 501.5 252.8 503.7 262.0 506.0 271.0 507.6 291.2 509.8 299.0 510.3 306.0 510.5 L306.0 517.6 L23.6 517.6 Z" fill="#00e7ea"/><path d="M23.6 508.6 45.6 508.3 49.8 507.8 51.4 507.3 52.4 506.9 53.6 505.6 54.6 503.1 55.4 499.3 57.0 488.5 57.4 487.1 57.6 487.0 58.2 488.4 59.8 496.3 60.8 498.9 63.2 501.3 65.8 504.4 67.2 505.7 69.2 506.8 71.6 507.3 75.2 507.5 79.2 507.4 81.4 507.1 82.8 506.4 83.6 505.5 84.2 504.4 86.4 497.0 87.0 496.1 87.4 496.4 87.8 497.4 89.8 504.1 90.6 505.5 91.4 506.2 92.4 506.5 93.6 506.4 97.5 504.7 101.4 505.6 102.8 505.5 104.6 505.0 106.2 504.4 107.6 503.5 109.8 501.3 111.6 498.0 113.0 493.5 113.6 490.4 114.2 485.6 115.0 472.8 115.6 451.8 116.0 428.1 116.8 347.4 118.2 137.7 118.7 103.7 119.2 127.2 120.8 359.5 121.8 445.0 122.4 467.9 123.0 479.3 124.0 487.6 124.8 490.9 125.6 493.0 126.6 494.8 127.8 496.2 129.2 497.3 130.8 498.1 132.8 498.7 135.4 499.1 138.8 499.3 141.6 499.2 143.6 498.6 144.4 497.9 145.0 497.0 146.0 494.2 147.8 486.3 148.4 485.3 149.0 486.3 150.4 491.4 151.4 493.9 152.4 495.1 153.8 495.4 157.2 494.7 160.4 493.3 165.2 490.2 171.0 485.6 176.0 482.5 178.8 481.4 181.0 481.4 183.4 482.2 189.2 485.3 192.6 487.8 194.2 488.4 195.8 488.2 197.8 487.8 210.8 483.2 213.0 482.7 214.8 482.7 216.4 483.0 218.2 483.7 226.4 488.3 232.6 492.4 238.6 497.1 241.2 498.8 247.2 501.7 252.8 503.7 262.0 506.0 271.0 507.6 291.2 509.8 299.0 510.3 306.0 510.5 L306.0 517.6 L23.6 517.6 Z" fill="#00e9d0"/><path d="M23.6 508.6 45.6 508.2 49.8 507.7 52.4 506.8 53.6 505.6 54.6 503.1 55.4 499.2 57.0 488.3 57.4 486.9 57.6 486.8 58.2 488.3 59.8 496.3 60.8 498.8 63.2 501.2 65.8 504.3 67.2 505.6 69.2 506.7 71.6 507.3 75.2 507.5 79.2 507.4 81.4 507.1 82.8 506.4 83.6 505.5 84.2 504.4 86.4 497.0 87.0 496.0 87.4 496.3 87.8 497.3 89.8 504.1 90.6 505.5 91.4 506.2 92.4 506.5 93.6 506.4 97.5 504.7 101.4 505.6 102.8 505.5 104.6 505.0 106.2 504.3 107.6 503.5 109.8 501.3 111.6 498.1 113.0 493.6 113.6 490.5 114.2 485.8 115.0 473.0 115.6 452.3 116.0 428.7 116.8 348.2 118.2 137.8 118.7 103.7 119.0 111.2 119.4 150.5 121.0 383.2 121.8 445.5 122.4 468.2 123.0 479.5 124.0 487.7 124.8 490.9 125.6 493.0 126.6 494.8 127.8 496.2 129.2 497.3 130.8 498.1 132.8 498.6 135.4 499.0 138.8 499.2 141.6 499.1 142.8 498.9 143.8 498.5 145.0 497.0 146.0 494.1 147.8 486.1 148.4 485.1 149.0 486.1 150.4 491.3 151.4 493.8 152.4 495.0 153.8 495.3 157.2 494.6 160.6 493.0 165.2 490.0 171.0 485.3 176.0 482.2 178.8 481.0 181.0 481.0 183.6 481.9 189.2 485.0 192.8 487.8 194.2 488.3 196.0 488.2 198.0 487.7 211.0 483.3 213.0 482.9 214.8 482.8 216.4 483.2 218.2 483.9 226.6 488.6 232.6 492.5 238.4 497.0 241.0 498.8 246.8 501.6 252.6 503.7 261.8 506.0 270.8 507.6 291.2 509.8 299.0 510.3 306.0 510.5 L306.0 517.6 L23.6 517.6 Z" fill="#00ebb6"/><path d="M23.6 508.6 45.6 508.2 49.8 507.7 52.4 506.8 53.6 505.6 54.6 503.1 55.4 499.2 57.0 488.2 57.4 486.7 57.6 486.6 58.2 488.1 59.8 496.2 60.8 498.8 63.0 500.9 65.6 504.1 67.2 505.6 69.2 506.7 71.6 507.2 75.2 507.4 79.2 507.3 81.4 507.0 82.8 506.4 83.6 505.5 84.4 503.9 86.4 496.9 87.0 495.9 87.4 496.2 87.8 497.3 89.8 504.1 90.6 505.5 91.4 506.2 92.4 506.4 93.6 506.3 97.5 504.7 101.4 505.5 102.8 505.4 104.6 505.0 106.2 504.3 107.6 503.5 109.8 501.3 111.6 498.1 113.0 493.6 113.6 490.5 114.2 485.9 115.0 473.3 115.6 452.7 116.0 429.3 116.8 349.0 118.2 138.0 118.7 103.6 119.0 111.3 119.4 150.7 121.0 383.9 121.8 445.9 122.4 468.4 123.0 479.6 124.0 487.7 124.8 490.9 125.6 493.0 126.6 494.8 127.8 496.2 129.2 497.3 130.8 498.0 132.8 498.6 135.4 499.0 138.8 499.2 141.6 499.1 142.8 498.9 143.8 498.4 144.4 497.9 145.0 497.0 146.0 494.1 147.8 485.9 148.4 484.9 149.0 485.9 150.4 491.2 151.4 493.8 152.4 494.9 153.8 495.2 157.2 494.5 160.6 492.9 165.2 489.8 171.0 485.1 176.2 481.7 177.6 481.0 179.0 480.6 181.2 480.6 183.8 481.6 189.2 484.8 192.8 487.8 194.2 488.3 196.0 488.2 198.0 487.7 211.2 483.4 213.2 483.1 214.8 483.0 216.4 483.3 218.2 484.1 226.8 488.9 232.6 492.6 238.6 497.3 241.0 498.9 246.8 501.7 252.6 503.8 262.0 506.1 271.0 507.6 291.2 509.8 299.0 510.3 306.0 510.5 L306.0 517.6 L23.6 517.6 Z" fill="#00ed9d"/><path d="M23.6 508.5 45.6 508.2 49.8 507.7 52.4 506.8 53.6 505.6 54.6 503.1 55.4 499.2 57.0 488.0 57.4 486.5 57.6 486.4 58.2 487.9 59.8 496.2 60.8 498.7 63.0 500.8 65.6 504.0 67.2 505.5 69.0 506.6 71.4 507.2 74.8 507.4 79.0 507.3 81.4 507.0 82.8 506.4 83.6 505.6 84.4 503.9 86.4 496.8 87.0 495.8 87.4 496.2 87.8 497.2 89.8 504.1 90.6 505.5 91.4 506.2 92.4 506.4 93.6 506.3 97.5 504.7 101.4 505.5 102.8 505.4 104.4 505.0 106.0 504.4 107.4 503.6 108.6 502.6 109.8 501.3 111.6 498.1 113.0 493.6 113.6 490.6 114.2 486.0 115.0 473.5 115.6 453.1 116.0 429.9 116.8 349.8 118.2 138.2 118.7 103.6 119.0 111.3 119.4 151.0 121.0 384.7 121.8 446.4 122.4 468.7 123.0 479.7 124.0 487.8 124.8 490.9 125.6 493.0 126.6 494.8 127.8 496.2 129.2 497.2 130.8 498.0 132.8 498.5 135.4 498.9 138.8 499.1 141.6 499.0 142.8 498.8 143.8 498.4 144.6 497.6 145.2 496.5 146.2 493.2 147.8 485.7 148.2 484.8 148.4 484.7 149.0 485.7 150.4 491.1 151.2 493.3 152.2 494.7 152.8 495.0 153.8 495.1 157.2 494.4 160.6 492.8 165.2 489.7 170.2 485.4 174.4 482.4 177.0 480.9 179.0 480.2 180.2 480.1 181.4 480.2 184.0 481.3 189.2 484.5 192.8 487.7 194.2 488.3 196.0 488.1 198.2 487.7 211.2 483.6 213.2 483.2 214.8 483.2 216.4 483.5 218.2 484.2 227.2 489.3 232.8 492.9 238.6 497.4 241.0 499.0 246.8 501.8 252.6 503.9 261.8 506.1 271.0 507.6 291.2 509.8 299.0 510.4 306.0 510.5 L306.0 517.6 L23.6 517.6 Z" fill="#00f083"/><path d="M23.6 508.5 38.0 508.4 45.8 508.1 50.2 507.6 51.6 507.1 52.6 506.6 53.8 505.2 54.8 502.3 55.6 497.9 57.0 487.8 57.4 486.3 57.6 486.2 58.2 487.8 59.8 496.1 60.8 498.6 63.0 500.8 65.6 503.9 67.2 505.5 69.0 506.5 71.4 507.1 74.8 507.4 79.0 507.3 81.4 507.0 82.8 506.4 83.6 505.6 84.4 504.0 86.4 496.8 87.0 495.7 87.6 496.5 89.8 504.1 90.6 505.5 91.4 506.2 92.4 506.4 93.6 506.3 97.5 504.6 101.4 505.5 102.8 505.4 104.4 505.0 106.0 504.4 107.4 503.6 108.6 502.6 109.8 501.3 111.6 498.1 113.0 493.7 113.6 490.7 114.2 486.1 115.0 473.8 115.6 453.6 116.0 430.5 116.8 350.6 118.2 138.3 118.7 103.5 119.2 127.6 120.8 362.6 121.6 435.6 122.2 463.2 122.8 477.0 123.2 482.1 123.8 486.7 124.6 490.3 125.6 493.0 126.6 494.8 127.8 496.1 129.2 497.2 131.0 498.0 133.4 498.6 136.4 499.0 140.0 499.1 142.6 498.8 143.6 498.5 144.2 498.0 144.8 497.3 145.4 496.0 146.2 493.2 147.6 486.3 148.3 484.5 148.6 484.6 149.0 485.5 150.4 491.0 151.4 493.6 152.0 494.4 152.6 494.8 153.4 495.0 154.6 494.9 157.6 494.1 160.4 492.8 165.0 489.6 170.2 485.1 175.4 481.4 178.2 480.0 180.4 479.7 182.4 480.1 185.0 481.5 189.2 484.2 192.8 487.6 194.2 488.2 196.2 488.1 198.4 487.6 212.0 483.6 214.6 483.3 216.6 483.8 219.2 484.9 229.2 490.7 233.0 493.2 238.6 497.5 241.2 499.2 245.0 501.1 248.8 502.6 252.4 503.9 256.8 505.0 267.2 507.1 280.6 508.8 294.4 510.1 306.0 510.5 L306.0 517.6 L23.6 517.6 Z" fill="#00ef66"/><path d="M23.6 508.5 38.0 508.3 45.8 508.1 50.0 507.6 51.6 507.1 52.6 506.6 53.8 505.2 54.8 502.3 55.6 497.8 57.0 487.6 57.4 486.1 57.6 486.0 58.2 487.6 59.8 496.1 60.8 498.6 63.0 500.7 65.6 503.9 67.2 505.4 69.0 506.5 71.4 507.1 74.8 507.3 79.0 507.3 81.4 507.0 82.8 506.4 83.6 505.6 84.4 504.0 86.4 496.7 87.0 495.6 87.6 496.5 89.8 504.1 90.6 505.5 91.4 506.1 92.4 506.4 93.6 506.3 97.5 504.6 101.4 505.5 102.8 505.4 104.4 505.0 107.4 503.6 108.6 502.6 109.8 501.3 111.6 498.1 113.0 493.7 113.6 490.7 114.2 486.2 115.0 474.0 115.6 454.0 116.0 431.1 116.8 351.4 118.2 138.5 118.7 103.5 119.2 127.7 120.8 363.3 121.6 436.1 122.2 463.5 122.8 477.2 123.2 482.2 123.8 486.8 124.6 490.3 125.6 493.0 126.6 494.7 127.8 496.1 129.2 497.2 131.0 498.0 133.4 498.6 136.6 498.9 140.4 499.0 142.8 498.8 143.8 498.3 144.4 497.8 145.4 496.0 146.2 493.2 147.6 486.1 148.3 484.3 148.6 484.4 149.0 485.4 150.4 490.9 151.4 493.5 152.0 494.3 152.6 494.7 153.4 494.9 154.8 494.8 157.8 494.0 160.6 492.5 165.2 489.3 170.2 484.8 175.4 481.0 178.2 479.5 180.4 479.2 182.6 479.8 185.2 481.3 189.2 484.0 192.8 487.5 194.2 488.2 196.2 488.1 198.6 487.6 212.0 483.8 214.6 483.5 216.6 483.9 219.2 485.1 229.6 491.0 233.0 493.3 238.6 497.7 241.2 499.3 244.8 501.1 248.6 502.7 256.0 504.9 266.6 507.1 279.4 508.7 294.0 510.1 306.0 510.6 L306.0 517.6 L23.6 517.6 Z" fill="#00ee49"/><path d="M23.6 508.4 38.0 508.3 45.8 508.0 50.0 507.5 51.6 507.1 52.6 506.6 53.8 505.2 54.8 502.2 55.6 497.8 57.0 487.5 57.4 485.9 57.6 485.8 58.2 487.4 59.8 496.0 60.8 498.5 63.0 500.6 65.8 504.0 67.2 505.4 69.0 506.5 71.4 507.1 74.8 507.3 78.8 507.2 81.4 506.9 82.8 506.4 83.6 505.6 84.4 504.0 86.4 496.6 87.0 495.5 87.6 496.4 89.6 503.7 90.4 505.3 91.2 506.0 92.2 506.3 93.6 506.2 97.5 504.6 101.4 505.4 102.8 505.4 104.4 505.0 107.4 503.6 108.6 502.6 109.8 501.3 111.6 498.1 113.0 493.7 113.6 490.8 114.2 486.3 115.0 474.2 115.6 454.4 116.0 431.7 116.8 352.2 118.2 138.7 118.7 103.4 119.2 127.8 120.8 364.1 121.6 436.7 122.2 463.8 122.8 477.3 123.2 482.3 123.8 486.8 124.6 490.3 125.6 493.0 126.6 494.7 127.8 496.1 129.2 497.1 131.0 497.9 133.4 498.5 136.6 498.9 140.4 499.0 142.8 498.7 143.8 498.3 144.4 497.8 145.4 496.0 146.2 493.1 147.6 485.9 148.3 484.0 148.6 484.2 149.0 485.2 150.4 490.9 151.4 493.5 152.0 494.3 152.6 494.6 153.4 494.8 154.8 494.7 157.8 493.8 160.6 492.4 165.2 489.1 170.4 484.4 175.6 480.5 178.2 479.1 179.4 478.8 180.4 478.8 182.6 479.4 185.4 481.0 189.2 483.7 192.8 487.5 194.2 488.2 196.2 488.0 198.8 487.6 205.0 486.0 212.2 483.9 214.6 483.7 216.6 484.1 219.2 485.3 230.0 491.4 233.0 493.4 238.6 497.8 241.2 499.5 248.2 502.6 255.2 504.7 265.8 507.0 277.8 508.5 293.4 510.0 306.0 510.6 L306.0 517.6 L23.6 517.6 Z" fill="#00ed2c"/><path d="M23.6 508.4 38.0 508.3 45.8 508.0 50.0 507.5 51.6 507.0 52.6 506.5 53.8 505.2 54.8 502.2 55.6 497.8 57.0 487.3 57.4 485.7 57.6 485.6 58.2 487.3 59.8 496.0 60.8 498.5 63.0 500.5 65.8 504.0 67.2 505.3 69.0 506.4 71.2 507.0 74.6 507.3 78.8 507.2 81.4 506.9 82.8 506.4 83.6 505.6 84.4 504.0 86.4 496.6 87.0 495.5 87.6 496.3 89.6 503.7 90.4 505.3 91.2 506.0 92.2 506.3 93.6 506.2 97.5 504.6 101.4 505.4 102.8 505.3 104.4 504.9 107.4 503.6 108.6 502.6 109.8 501.3 111.6 498.1 113.0 493.8 113.6 490.8 114.2 486.4 115.0 474.5 115.6 454.9 116.0 432.3 116.8 353.0 118.2 138.8 118.7 103.4 119.2 127.9 120.8 364.9 121.6 437.2 122.2 464.1 122.8 477.5 123.2 482.4 123.8 486.9 124.6 490.3 125.6 493.0 126.6 494.7 127.8 496.1 129.2 497.1 131.0 497.9 133.4 498.5 136.6 498.8 140.4 498.9 142.8 498.7 143.8 498.3 144.4 497.8 145.4 496.0 146.2 493.1 147.6 485.8 148.3 483.8 148.6 484.0 149.0 485.0 150.4 490.8 151.4 493.4 152.0 494.2 152.6 494.5 153.4 494.7 154.8 494.5 157.8 493.7 160.6 492.3 165.2 489.0 170.4 484.2 175.6 480.2 178.2 478.7 179.4 478.4 180.4 478.4 182.8 479.1 185.6 480.8 189.2 483.4 192.8 487.4 194.2 488.1 196.4 488.0 199.2 487.5 205.0 486.1 212.4 484.0 214.8 483.9 216.8 484.3 219.2 485.5 230.6 491.9 233.2 493.6 238.6 497.9 241.0 499.5 247.6 502.4 254.4 504.6 264.8 506.8 276.0 508.3 292.8 510.0 306.0 510.6 L306.0 517.6 L23.6 517.6 Z" fill="#00ec0f"/><path d="M23.6 508.5 38.0 508.3 45.8 508.1 50.2 507.5 52.6 506.6 53.8 505.2 54.8 502.2 55.6 497.7 56.8 488.6 57.4 486.1 57.6 486.0 57.8 486.4 58.0 487.1 59.6 495.9 60.6 498.6 61.2 499.3 63.0 500.8 65.8 504.2 67.2 505.5 69.0 506.5 71.2 507.1 74.8 507.3 79.2 507.3 81.6 506.9 83.0 506.3 83.8 505.4 84.4 504.2 86.4 496.7 86.8 495.8 87.0 495.6 87.6 496.5 89.6 503.8 90.4 505.4 91.2 506.1 92.2 506.4 93.6 506.3 97.5 504.5 98.2 504.6 101.4 505.4 102.8 505.4 104.4 505.0 107.4 503.6 108.6 502.7 109.8 501.4 111.6 498.2 113.0 493.9 113.6 491.0 114.2 486.6 115.0 474.8 115.6 455.4 116.0 433.0 116.8 353.9 118.2 139.2 118.7 103.5 119.2 128.2 120.8 365.9 121.6 437.9 122.2 464.7 122.8 477.9 123.2 482.7 123.8 487.1 124.6 490.6 125.6 493.2 126.6 494.9 127.8 496.3 129.2 497.3 131.0 498.1 133.6 498.7 136.8 499.1 140.4 499.2 142.8 498.9 143.8 498.5 144.4 498.0 145.4 496.1 146.2 493.2 147.6 485.7 148.2 484.0 148.6 484.2 148.8 484.7 150.4 491.3 151.4 493.8 152.0 494.6 152.6 494.9 153.4 495.0 154.8 494.8 158.0 493.9 160.8 492.4 165.2 489.2 170.4 484.3 175.6 480.3 178.2 478.9 179.4 478.6 180.4 478.5 182.6 479.2 185.4 480.8 189.2 483.6 192.8 487.6 194.2 488.3 196.6 488.2 199.4 487.7 205.0 486.4 212.4 484.4 214.8 484.3 216.8 484.7 219.2 485.8 230.8 492.4 233.6 494.2 238.8 498.3 241.0 499.7 247.2 502.5 253.8 504.6 264.0 506.8 274.2 508.2 292.2 510.0 306.0 510.6 L306.0 517.6 L23.6 517.6 Z" fill="#0fec00"/><path d="M23.6 508.6 45.6 508.2 49.8 507.8 52.4 506.9 53.6 505.7 54.6 503.0 55.4 498.9 56.8 488.8 57.2 487.3 57.4 487.1 58.0 488.8 59.6 497.3 60.6 499.6 63.0 501.4 65.8 504.6 67.2 505.8 69.0 506.8 71.4 507.3 75.0 507.5 79.2 507.4 81.6 507.1 83.0 506.5 83.8 505.7 84.4 504.4 86.4 497.1 87.0 496.0 87.6 496.9 89.6 504.1 90.4 505.6 91.2 506.3 92.2 506.6 93.6 506.4 96.6 504.7 97.5 504.5 98.2 504.5 100.2 505.3 101.4 505.6 102.8 505.5 104.6 505.1 106.2 504.5 107.6 503.7 109.8 501.6 111.6 498.5 113.0 494.2 114.2 487.0 115.0 475.4 115.6 456.1 116.0 433.9 116.8 355.0 118.2 139.7 118.7 103.8 119.2 128.7 120.8 367.1 121.6 438.9 122.2 465.4 122.8 478.5 123.2 483.3 123.8 487.6 124.6 491.1 125.6 493.7 126.6 495.4 127.8 496.8 129.2 497.8 131.0 498.6 133.6 499.3 136.8 499.6 140.4 499.7 142.8 499.4 143.8 499.0 144.4 498.4 145.4 496.5 146.2 493.3 147.6 485.9 148.1 484.6 148.4 484.7 148.8 485.7 150.2 491.7 151.2 494.5 151.8 495.2 152.4 495.6 153.2 495.7 154.4 495.6 157.6 494.7 160.6 493.2 165.2 489.8 170.2 485.1 175.4 481.1 178.2 479.6 179.4 479.3 180.4 479.2 182.6 479.9 185.4 481.6 189.2 484.3 192.4 487.8 193.2 488.4 194.0 488.8 196.2 488.7 199.0 488.3 205.0 487.0 212.4 485.0 214.6 484.8 216.6 485.2 219.0 486.3 230.6 492.8 233.6 494.7 238.8 498.7 241.0 500.1 247.2 502.8 253.8 504.9 263.8 507.0 273.8 508.4 292.0 510.2 306.0 510.8 L306.0 517.6 L23.6 517.6 Z" fill="#2ced00"/><path d="M23.6 508.8 45.6 508.4 50.0 507.9 52.4 507.0 53.6 505.8 54.6 503.0 55.4 498.7 56.6 490.2 57.2 488.2 57.4 488.3 57.8 489.5 59.4 497.9 60.4 500.3 61.0 500.9 62.8 501.9 65.8 505.0 67.4 506.2 69.4 507.1 71.8 507.5 75.4 507.7 79.4 507.6 81.8 507.3 83.0 506.7 83.8 505.9 84.4 504.7 86.4 497.5 87.0 496.4 87.6 497.2 89.6 504.4 90.4 505.8 91.2 506.5 92.2 506.7 93.6 506.5 96.6 504.7 97.5 504.4 98.2 504.5 100.4 505.4 101.6 505.7 103.0 505.6 104.8 505.2 106.4 504.5 107.8 503.7 110.0 501.5 111.8 498.3 113.2 493.7 114.2 487.3 115.0 475.9 115.6 456.9 116.0 434.8 116.8 356.2 118.2 140.2 118.7 104.1 119.2 129.2 120.6 342.4 121.6 439.8 122.2 466.1 122.8 479.1 123.2 483.8 123.8 488.1 124.6 491.6 125.6 494.2 126.6 495.9 128.0 497.5 129.4 498.4 131.2 499.2 133.8 499.8 137.2 500.2 140.6 500.2 142.8 499.9 144.2 499.1 145.2 497.4 146.0 494.4 147.4 486.9 148.0 485.1 148.4 485.4 148.6 485.9 150.2 492.9 151.0 495.1 151.6 495.9 152.2 496.3 154.0 496.4 157.4 495.4 160.4 493.9 165.0 490.6 170.4 485.6 175.4 481.8 178.2 480.3 179.4 480.0 180.4 480.0 182.4 480.5 185.0 482.0 189.0 484.8 192.4 488.3 194.0 489.3 196.2 489.2 199.0 488.8 205.0 487.5 212.4 485.5 214.6 485.4 216.6 485.8 219.0 486.9 230.8 493.4 233.6 495.2 238.8 499.1 241.0 500.5 247.2 503.1 253.8 505.1 263.6 507.2 273.4 508.5 291.8 510.3 306.0 510.9 L306.0 517.6 L23.6 517.6 Z" fill="#49ee00"/><path d="M23.6 508.9 45.8 508.5 50.0 508.0 52.4 507.2 53.6 505.9 54.4 503.8 55.2 499.8 56.4 491.6 57.1 489.2 57.4 489.6 57.6 490.2 59.2 498.5 60.2 501.0 60.8 501.6 62.8 502.6 65.8 505.4 67.4 506.5 69.4 507.4 71.8 507.7 75.4 507.9 79.4 507.8 81.8 507.4 83.0 507.0 83.8 506.1 84.6 504.5 86.4 497.9 87.0 496.7 87.6 497.6 89.6 504.7 90.4 506.1 91.2 506.7 92.4 506.9 93.6 506.6 94.8 506.0 96.6 504.6 97.5 504.3 98.2 504.4 100.4 505.5 101.6 505.8 103.2 505.7 105.0 505.3 106.6 504.6 108.0 503.7 109.2 502.7 110.2 501.4 111.2 499.8 112.0 498.0 113.2 493.9 114.2 487.7 115.0 476.4 115.6 457.6 116.0 435.6 116.8 357.3 118.2 140.8 118.7 104.4 119.2 129.7 120.6 343.6 121.6 440.8 122.2 466.9 122.8 479.6 123.2 484.3 123.8 488.6 124.6 492.1 125.6 494.7 126.6 496.4 127.8 497.8 129.2 498.8 131.0 499.6 133.6 500.3 136.8 500.7 140.2 500.8 142.6 500.5 143.6 500.1 144.2 499.6 145.2 497.7 146.0 494.6 147.4 487.0 147.9 485.7 148.2 485.8 148.6 486.9 150.0 493.3 150.8 495.6 151.4 496.6 152.0 497.0 152.8 497.2 153.8 497.1 157.2 496.2 160.4 494.6 165.0 491.3 170.2 486.4 175.2 482.6 178.0 481.0 179.2 480.7 180.4 480.7 182.4 481.2 184.8 482.6 189.0 485.5 192.4 488.9 194.0 489.8 196.2 489.7 199.0 489.3 205.0 488.0 212.4 486.1 214.6 486.0 216.6 486.4 218.8 487.3 230.8 494.0 233.6 495.7 238.8 499.5 240.8 500.8 247.0 503.4 253.6 505.3 262.8 507.3 271.4 508.5 291.2 510.4 299.0 510.8 306.0 511.0 L306.0 517.6 L23.6 517.6 Z" fill="#66ef00"/><path d="M23.6 509.1 45.6 508.7 49.8 508.2 52.2 507.5 53.4 506.3 54.4 503.7 55.2 499.7 56.4 491.9 56.8 490.4 57.0 490.2 57.6 491.8 59.2 499.8 59.6 501.0 60.2 502.0 60.8 502.4 62.8 503.2 66.0 505.9 67.6 506.9 69.6 507.6 72.0 507.9 76.0 508.0 79.8 507.9 82.0 507.6 83.2 507.0 84.0 506.1 84.6 504.8 86.4 498.2 87.0 497.1 87.6 498.0 89.6 505.0 90.4 506.3 91.2 506.9 92.4 507.0 93.6 506.7 94.8 506.0 96.6 504.6 97.5 504.3 98.2 504.4 100.4 505.5 101.6 505.9 103.2 505.9 105.0 505.4 106.6 504.8 108.0 503.9 109.2 502.9 110.2 501.7 111.2 500.0 112.0 498.3 113.2 494.2 114.2 488.1 115.0 476.9 115.6 458.3 116.0 436.5 116.8 358.4 118.2 141.3 118.7 104.8 119.2 130.2 120.6 344.8 121.6 441.7 122.2 467.6 122.8 480.2 123.8 489.1 124.6 492.5 125.6 495.2 126.6 496.9 127.8 498.3 129.2 499.3 131.0 500.1 133.6 500.8 136.8 501.2 140.2 501.3 142.6 501.0 144.0 500.3 145.0 498.6 145.8 495.7 147.2 488.0 147.8 486.2 148.2 486.5 148.4 487.1 149.8 493.6 150.8 496.6 151.8 497.7 152.6 497.9 153.6 497.9 157.2 496.8 160.4 495.2 165.0 491.9 170.4 486.8 175.2 483.3 178.0 481.7 179.2 481.4 180.4 481.4 182.4 481.9 184.6 483.1 189.2 486.3 192.6 489.6 194.0 490.3 196.2 490.2 199.0 489.8 205.0 488.5 212.4 486.7 214.6 486.5 216.6 486.9 218.8 487.9 231.0 494.6 233.6 496.2 238.6 499.8 240.8 501.1 247.0 503.7 253.6 505.6 262.6 507.4 271.2 508.6 291.2 510.5 299.0 510.9 306.0 511.1 L306.0 517.6 L23.6 517.6 Z" fill="#84f000"/><path d="M23.6 509.2 45.6 508.8 49.8 508.4 52.2 507.6 53.4 506.4 54.2 504.5 55.0 500.8 56.2 493.2 56.8 491.2 57.0 491.3 57.4 492.5 59.0 500.4 59.4 501.6 60.0 502.6 60.6 503.1 62.8 503.8 66.0 506.3 67.6 507.2 69.6 507.8 72.2 508.2 79.8 508.1 82.0 507.8 83.2 507.2 84.0 506.3 84.6 505.1 86.4 498.6 87.0 497.5 87.6 498.4 89.6 505.2 90.2 506.3 91.0 506.9 92.2 507.2 93.6 506.8 94.6 506.2 96.6 504.6 97.5 504.2 98.2 504.3 100.4 505.6 101.6 506.0 103.2 506.0 105.0 505.6 106.6 504.9 108.0 504.1 109.2 503.0 110.2 501.9 111.2 500.3 112.0 498.5 113.2 494.5 114.2 488.4 115.0 477.4 115.6 459.0 116.0 437.4 116.8 359.6 118.2 141.8 118.7 105.1 119.2 130.6 120.6 346.0 121.6 442.7 122.2 468.3 122.8 480.8 123.8 489.6 124.6 493.0 125.6 495.7 126.6 497.4 127.8 498.7 129.2 499.8 131.0 500.6 133.6 501.3 137.0 501.7 140.4 501.8 142.6 501.6 143.4 501.2 144.0 500.7 145.0 498.9 145.8 495.8 147.2 488.1 147.7 486.7 148.0 486.9 148.4 488.1 149.8 494.8 150.6 497.2 151.6 498.4 152.4 498.7 153.4 498.6 156.8 497.6 160.2 495.9 165.0 492.5 170.2 487.6 175.0 484.1 178.0 482.4 179.2 482.1 180.4 482.1 182.2 482.5 184.4 483.7 189.2 487.0 192.6 490.1 194.0 490.8 196.0 490.7 198.8 490.3 205.0 489.0 212.2 487.3 214.6 487.1 216.4 487.4 218.6 488.4 231.0 495.1 233.6 496.7 238.6 500.2 240.8 501.5 247.0 504.0 253.6 505.9 262.6 507.7 271.2 508.8 291.2 510.6 299.0 511.1 306.0 511.2 L306.0 517.6 L23.6 517.6 Z" fill="#a1f000"/><path d="M23.6 509.4 45.4 509.0 49.6 508.6 52.0 507.9 53.2 506.9 54.2 504.5 56.2 493.5 56.7 492.2 57.0 492.5 57.2 493.1 58.8 500.9 59.4 502.6 60.0 503.5 60.6 503.8 62.8 504.5 66.0 506.7 67.6 507.5 69.6 508.1 72.4 508.3 80.0 508.2 82.0 507.9 83.2 507.4 84.0 506.6 84.6 505.4 86.4 499.0 87.0 497.9 87.6 498.8 89.4 505.0 90.2 506.5 91.0 507.1 92.2 507.3 93.6 506.9 94.6 506.3 96.6 504.5 97.5 504.1 98.2 504.2 100.4 505.7 101.6 506.1 103.2 506.1 105.2 505.7 108.0 504.3 109.2 503.2 110.2 502.1 111.2 500.5 112.0 498.7 113.2 494.8 114.2 488.8 115.0 477.9 115.6 459.7 116.0 438.3 116.8 360.7 118.2 142.4 118.7 105.4 119.2 131.1 120.6 347.2 121.6 443.6 122.2 469.0 122.8 481.4 123.8 490.1 124.6 493.5 125.6 496.1 126.6 497.9 127.8 499.2 129.2 500.3 131.0 501.1 133.6 501.8 136.8 502.2 140.0 502.4 142.4 502.1 143.4 501.7 144.0 501.2 145.0 499.2 145.8 496.0 147.0 489.1 147.6 487.3 148.0 487.6 148.2 488.3 149.6 495.1 150.4 497.7 151.4 499.1 152.2 499.4 153.2 499.4 156.8 498.3 160.2 496.6 165.0 493.2 170.2 488.3 174.8 484.9 177.8 483.2 179.2 482.8 180.4 482.8 182.2 483.3 184.2 484.3 189.2 487.7 192.6 490.6 194.0 491.3 196.0 491.2 198.8 490.8 212.2 487.8 214.6 487.7 216.4 488.0 218.6 489.0 231.0 495.7 233.6 497.2 238.6 500.7 240.8 501.9 246.8 504.2 253.4 506.1 262.6 507.9 271.2 509.0 291.2 510.8 306.0 511.3 L306.0 517.6 L23.6 517.6 Z" fill="#bef000"/><path d="M23.6 509.5 45.4 509.1 49.6 508.7 52.0 508.1 53.2 507.0 54.0 505.2 54.8 501.8 56.0 494.7 56.6 493.2 57.2 494.6 58.8 502.2 59.2 503.2 59.8 504.2 60.4 504.5 62.8 505.1 66.0 507.1 67.6 507.8 69.4 508.3 71.6 508.5 79.6 508.5 82.0 508.2 83.2 507.7 84.0 506.9 84.6 505.7 86.4 499.4 87.0 498.3 87.6 499.2 89.4 505.4 90.2 506.8 91.0 507.4 92.2 507.5 93.6 507.1 94.6 506.4 96.6 504.6 97.5 504.2 98.2 504.3 100.4 505.9 101.6 506.4 103.2 506.5 105.0 506.1 106.6 505.6 108.0 504.8 110.2 502.9 111.8 500.4 113.2 496.5 113.8 493.8 114.4 489.7 115.2 478.3 115.8 458.6 116.2 435.3 117.0 352.8 118.2 170.5 118.7 134.3 119.0 142.5 119.4 184.0 120.8 389.6 121.6 452.8 122.2 474.6 122.8 485.0 123.8 492.3 124.6 495.2 125.4 497.2 126.4 498.8 127.8 500.3 129.4 501.3 131.2 502.0 134.2 502.6 138.0 503.0 141.0 502.9 143.0 502.5 143.6 502.2 144.2 501.5 145.0 499.6 145.8 496.1 147.0 489.2 147.4 488.0 147.6 487.8 148.2 489.3 149.6 496.3 150.4 498.8 151.0 499.7 151.6 500.1 152.6 500.2 154.0 499.9 158.0 498.4 161.8 496.2 165.4 493.5 170.6 488.6 175.6 485.1 178.2 483.8 180.4 483.5 182.0 483.9 184.0 484.9 189.2 488.4 192.4 491.0 194.0 491.8 196.0 491.7 198.8 491.3 212.2 488.4 214.6 488.2 216.4 488.6 218.6 489.5 231.2 496.3 240.6 502.2 246.8 504.6 253.4 506.3 262.6 508.1 271.0 509.2 291.2 510.9 306.0 511.4 L306.0 517.6 L23.6 517.6 Z" fill="#dbf000"/><path d="M23.6 509.7 45.4 509.3 49.6 508.9 52.0 508.3 53.2 507.1 54.0 505.2 55.8 496.0 56.4 494.2 56.8 494.6 57.0 495.3 58.6 502.7 59.6 504.8 60.4 505.3 62.8 505.8 67.2 508.0 68.8 508.4 70.8 508.7 79.4 508.7 81.8 508.4 83.2 508.0 84.0 507.2 84.6 506.1 86.4 499.9 87.0 498.8 87.6 499.6 89.4 505.7 90.2 507.1 91.0 507.7 92.2 507.8 93.6 507.3 94.6 506.6 96.6 504.7 97.5 504.3 98.2 504.4 100.4 506.2 101.6 506.8 103.2 507.0 105.4 506.6 108.2 505.6 110.4 504.0 112.2 501.5 113.4 498.6 114.4 494.2 115.2 486.4 115.8 472.5 116.2 455.1 117.0 388.4 118.2 225.9 118.7 191.7 119.2 215.7 120.6 399.3 121.4 459.5 122.0 479.7 122.6 488.8 123.6 495.0 124.4 497.5 125.2 499.1 126.2 500.4 127.6 501.6 129.2 502.4 131.0 503.0 134.2 503.5 138.2 503.7 141.2 503.6 143.0 503.2 143.6 502.8 144.2 502.0 145.0 500.0 146.8 490.4 147.2 488.8 147.4 488.4 147.8 488.9 148.0 489.6 149.4 496.8 150.4 499.8 151.0 500.6 151.6 500.9 152.4 501.0 153.8 500.8 157.8 499.2 161.8 496.9 165.4 494.1 170.4 489.4 175.4 485.9 178.2 484.5 180.4 484.2 182.0 484.6 183.8 485.5 189.2 489.1 192.4 491.6 194.0 492.3 196.0 492.2 198.6 491.9 212.2 489.0 214.6 488.8 216.2 489.1 218.4 490.0 222.6 492.4 231.2 496.8 240.6 502.6 246.6 504.8 253.4 506.6 262.6 508.3 271.0 509.4 291.2 511.1 306.0 511.6 L306.0 517.6 L23.6 517.6 Z" fill="#f8f000"/><path d="M23.6 509.9 45.2 509.6 49.4 509.2 51.8 508.7 53.0 507.7 53.8 506.0 54.6 502.8 55.8 496.3 56.3 495.1 56.8 496.0 58.4 503.2 59.0 504.8 59.6 505.7 60.2 506.0 62.8 506.5 67.2 508.4 70.2 509.0 74.2 509.2 79.2 509.1 81.8 508.8 83.2 508.3 84.0 507.6 84.6 506.5 86.4 500.4 87.0 499.4 87.2 499.4 87.6 500.2 88.8 504.5 89.6 506.6 90.4 507.7 91.6 508.2 92.8 508.1 93.8 507.6 96.6 505.0 97.5 504.6 98.4 504.9 100.8 506.9 102.2 507.4 104.6 507.5 107.8 506.7 110.0 505.6 111.6 504.3 112.8 502.6 113.8 500.4 114.8 496.2 115.4 490.7 116.0 478.5 116.4 462.8 117.2 400.7 118.2 280.8 118.7 249.5 119.2 271.5 120.4 411.0 121.2 466.9 121.8 485.0 122.4 492.8 123.4 498.0 124.0 499.5 124.8 501.0 125.8 502.1 127.2 503.1 128.8 503.8 130.8 504.2 134.2 504.6 138.6 504.8 141.4 504.6 143.0 504.1 144.0 503.2 144.8 501.4 145.6 497.9 146.8 490.9 147.2 489.5 147.4 489.4 148.0 491.0 149.4 498.5 150.4 501.4 151.0 502.1 151.8 502.4 152.8 502.4 154.2 502.1 158.6 500.3 162.6 497.9 165.6 495.6 170.6 491.0 176.0 487.1 178.2 486.0 180.2 485.6 181.6 485.9 183.4 486.7 189.4 490.6 192.2 492.7 194.0 493.5 196.4 493.4 199.4 493.0 205.0 492.0 212.4 490.3 214.6 490.2 216.2 490.5 218.6 491.4 229.8 497.3 240.4 503.4 246.0 505.4 252.4 507.0 262.0 508.7 270.8 509.7 291.0 511.2 306.0 511.7 L306.0 517.6 L23.6 517.6 Z" fill="#ffdd00"/></g><path d="M23.6 510.2L45.4 509.9 49.6 509.5 51.8 509.0 53.0 508.0 53.8 506.2 55.6 497.5 56.2 496.0 56.4 496.2 56.8 497.3 58.4 504.4 58.8 505.5 59.4 506.3 60.2 506.8 62.8 507.2 67.0 508.8 69.4 509.3 73.0 509.5 78.6 509.5 81.6 509.2 83.2 508.8 84.0 508.1 84.6 507.0 86.4 501.0 87.0 500.0 87.2 500.0 87.6 500.8 88.8 505.1 89.6 507.2 90.4 508.2 91.4 508.6 92.6 508.5 93.8 508.0 96.6 505.3 97.5 504.9 98.4 505.3 100.8 507.4 102.2 508.0 104.6 508.1 107.8 507.6 110.0 506.9 111.6 505.9 113.0 504.5 114.0 502.7 115.0 499.5 115.6 495.1 116.2 484.9 116.6 471.1 117.2 433.5 118.4 319.2 118.7 307.3 119.2 326.7 120.4 441.3 121.2 481.7 121.6 490.5 122.2 496.9 122.6 499.0 123.2 500.9 123.8 502.1 124.6 503.1 125.6 504.0 127.0 504.7 128.8 505.3 131.0 505.6 134.8 505.8 139.2 505.9 141.6 505.6 143.0 505.2 144.0 504.2 144.8 502.2 146.6 492.4 147.0 490.8 147.2 490.5 147.8 491.7 149.2 499.4 150.2 502.7 150.8 503.5 151.8 504.0 153.0 504.0 154.6 503.7 158.6 502.1 162.0 500.2 165.4 497.8 170.2 493.4 175.8 489.0 178.2 487.6 180.2 487.2 181.6 487.5 183.2 488.2 192.2 494.1 194.0 494.8 197.6 494.7 204.4 493.7 212.6 491.9 214.6 491.8 216.2 492.1 218.6 493.0 226.4 497.0 240.0 504.4 245.2 506.1 251.2 507.5 260.8 509.0 270.4 510.0 291.0 511.4 306.0 511.8" stroke="#ffc300" stroke-width="0.8"/><path d="M23.6 510.5L45.2 510.2 49.4 509.9 51.6 509.4 52.8 508.5 53.6 506.9 54.2 504.8 55.6 497.9 56.1 496.9 56.6 497.9 58.2 505.0 59.2 507.0 60.0 507.4 62.4 507.7 66.6 509.2 69.2 509.7 73.0 509.9 78.6 509.8 81.6 509.6 83.2 509.1 84.0 508.5 84.6 507.5 86.4 501.6 87.0 500.5 87.2 500.6 87.6 501.4 88.8 505.6 89.6 507.6 90.4 508.6 91.4 509.0 92.6 508.9 93.8 508.3 96.6 505.6 97.5 505.2 98.4 505.5 100.8 507.7 102.2 508.4 104.6 508.5 108.0 508.0 110.2 507.3 111.8 506.3 113.0 505.1 114.0 503.4 115.0 500.3 115.6 496.2 116.2 486.3 116.6 473.0 117.2 436.3 118.4 324.0 118.7 312.3 119.2 331.5 120.2 428.2 121.0 476.8 121.4 488.2 122.0 496.5 122.4 499.1 123.0 501.4 123.8 503.1 124.6 504.1 125.6 505.0 127.0 505.7 128.8 506.2 131.0 506.6 134.8 506.8 139.2 506.8 141.6 506.6 143.0 506.2 144.0 505.1 144.8 502.9 146.6 492.9 147.1 491.5 147.4 491.7 147.8 493.3 149.2 501.2 150.2 504.3 150.8 505.1 151.8 505.6 153.0 505.6 154.6 505.3 159.0 503.6 163.0 501.4 166.0 499.3 170.2 495.5 176.4 490.3 178.4 489.2 180.2 488.8 181.6 489.1 183.0 489.7 192.0 495.5 194.0 496.2 197.8 496.1 204.4 495.3 212.8 493.5 214.6 493.4 216.2 493.6 219.2 494.9 239.4 505.3 243.8 506.7 249.6 508.0 259.2 509.4 269.8 510.3 290.8 511.5 306.0 511.8" stroke="#ffaa00" stroke-width="0.6" stroke-dasharray="1.2 0.6"/><path d="M23.6 510.8L45.2 510.5 49.4 510.2 51.6 509.7 52.8 508.8 53.6 507.1 55.4 499.0 55.9 497.8 56.4 498.6 58.0 505.5 58.6 507.0 59.2 507.8 60.0 508.2 62.6 508.5 66.4 509.6 68.8 510.0 72.6 510.2 78.4 510.2 81.6 509.9 83.2 509.5 84.0 508.9 84.8 507.5 86.4 502.2 87.0 501.1 87.2 501.1 87.6 501.9 88.8 506.1 89.6 508.0 90.4 508.9 91.4 509.3 92.6 509.2 93.8 508.6 96.6 505.8 97.5 505.4 98.4 505.8 100.8 508.0 102.2 508.7 104.6 508.9 108.0 508.5 110.2 507.8 111.8 506.9 113.0 505.7 114.0 504.2 115.0 501.2 115.6 497.2 116.2 487.7 116.6 474.9 117.2 439.1 118.4 328.9 118.7 317.3 119.2 336.2 120.2 431.3 121.0 478.7 121.4 489.7 122.0 497.7 122.4 500.2 123.0 502.4 123.8 504.1 124.6 505.1 125.6 505.9 127.0 506.6 128.6 507.1 130.8 507.5 134.6 507.8 139.0 507.8 141.4 507.7 142.8 507.2 143.8 506.3 144.6 504.4 145.2 501.7 146.4 494.4 146.8 492.8 147.0 492.4 147.6 493.8 149.2 503.0 150.2 505.9 151.0 506.8 152.0 507.1 153.2 507.2 154.8 506.9 159.8 505.0 164.2 502.6 166.8 500.6 176.6 491.9 178.6 490.7 180.2 490.4 181.4 490.7 182.8 491.2 187.6 494.4 191.6 496.7 193.0 497.3 194.0 497.6 198.0 497.5 204.4 496.9 213.0 495.1 214.6 495.0 216.2 495.2 219.2 496.4 231.2 502.6 238.6 506.2 242.0 507.3 248.0 508.5 257.2 509.7 268.8 510.6 290.4 511.6 306.0 511.9" stroke="#ff9000" stroke-width="0.6" stroke-dasharray="1.2 0.6"/><path d="M23.6 511.1L45.0 510.8 49.2 510.6 51.4 510.1 52.6 509.3 53.4 507.8 54.0 505.7 55.2 500.0 55.8 498.5 56.4 499.7 58.0 506.5 59.0 508.4 60.0 508.9 62.6 509.1 68.4 510.3 72.2 510.5 78.2 510.5 81.6 510.3 83.2 509.9 84.0 509.3 84.8 507.9 86.4 502.7 87.0 501.6 87.6 502.5 89.4 508.1 90.2 509.2 91.2 509.6 92.4 509.6 93.6 509.1 94.6 508.3 96.6 506.1 97.5 505.6 98.4 506.0 100.8 508.4 102.2 509.1 104.6 509.3 108.0 508.9 110.2 508.2 111.8 507.4 113.0 506.3 114.0 504.8 114.6 503.4 115.2 501.0 115.8 496.0 116.6 476.6 117.2 441.9 118.4 333.6 118.7 322.2 119.2 340.9 120.2 434.3 121.0 480.4 121.4 491.1 122.0 498.7 122.4 501.2 123.0 503.3 123.8 504.9 124.6 505.9 125.6 506.7 127.0 507.4 128.8 507.9 131.0 508.3 134.8 508.6 139.2 508.6 141.4 508.4 142.8 508.0 143.8 507.0 144.6 504.9 146.4 494.6 146.9 493.1 147.2 493.5 147.6 495.2 149.0 503.6 150.0 506.8 150.8 507.8 151.8 508.3 153.2 508.4 154.8 508.1 160.0 506.3 164.8 503.6 166.8 502.1 172.0 497.6 176.8 493.1 178.6 492.0 180.2 491.7 181.4 491.9 182.8 492.5 188.0 495.9 192.0 498.1 193.8 498.7 198.0 498.7 204.2 498.3 212.6 496.4 214.6 496.3 216.2 496.5 219.2 497.7 231.2 503.8 237.6 506.7 241.0 507.9 246.4 508.9 255.0 510.0 267.6 510.9 289.8 511.8 306.0 512.1" stroke="#ff7500" stroke-width="0.6" stroke-dasharray="1.2 0.6"/><path d="M23.6 511.4L45.2 511.1 49.2 510.9 51.4 510.4 52.4 509.7 53.2 508.4 54.0 505.6 55.2 499.9 55.7 498.9 56.2 499.9 57.8 506.8 58.8 508.9 60.0 509.5 67.6 510.6 71.4 510.8 77.8 510.8 81.4 510.6 83.2 510.2 84.0 509.6 84.8 508.4 86.4 503.2 87.0 502.1 87.6 503.0 89.4 508.5 90.2 509.5 91.2 509.9 92.4 509.9 93.6 509.3 94.6 508.5 96.6 506.3 97.4 505.9 98.4 506.3 100.2 508.2 101.4 509.1 102.8 509.5 104.6 509.6 108.0 509.3 110.8 508.4 112.6 507.2 114.0 505.3 114.6 503.9 115.2 501.7 115.8 496.8 116.6 478.2 117.2 444.4 118.4 338.1 118.7 326.9 119.2 345.3 120.2 437.0 121.0 481.8 121.4 492.1 122.0 499.5 122.4 501.8 123.0 503.9 123.8 505.4 124.6 506.4 125.8 507.3 127.2 508.0 131.2 508.7 135.0 509.0 139.4 509.0 141.6 508.8 142.8 508.4 143.6 507.6 144.4 505.7 145.0 503.1 146.4 494.5 146.9 493.5 147.4 495.0 149.0 504.6 149.8 507.1 150.6 508.3 151.6 508.8 153.0 509.0 154.8 508.7 160.2 506.8 165.0 504.2 172.0 498.4 177.0 493.7 178.6 492.7 180.2 492.4 181.4 492.6 182.8 493.2 188.0 496.7 192.0 499.0 193.8 499.6 198.0 499.6 204.2 499.1 212.6 497.2 214.6 497.1 216.2 497.4 219.0 498.4 231.0 504.4 237.0 507.0 240.6 508.2 245.6 509.2 254.4 510.2 267.6 511.1 289.8 512.0 306.0 512.2" stroke="#ff5800" stroke-width="0.6" stroke-dasharray="1.2 0.6"/><path d="M23.6 511.7L45.0 511.4 49.0 511.2 51.2 510.8 52.4 510.0 53.2 508.4 53.8 506.4 55.0 500.6 55.6 499.3 55.8 499.5 56.2 500.8 57.6 507.1 58.2 508.7 58.8 509.6 60.0 510.1 66.2 510.9 70.4 511.2 77.0 511.1 81.2 510.9 83.2 510.5 84.0 510.0 84.8 508.8 86.4 503.7 87.0 502.7 87.6 503.5 89.4 508.9 90.2 509.9 91.2 510.3 92.4 510.2 93.6 509.6 94.6 508.8 96.6 506.5 97.4 506.1 98.4 506.5 100.2 508.4 101.4 509.4 102.8 509.9 104.4 510.0 107.8 509.7 110.6 508.9 112.6 507.7 114.0 505.9 114.6 504.5 115.2 502.3 115.8 497.7 116.6 479.7 117.2 446.9 118.4 342.6 118.7 331.6 119.2 349.7 120.2 439.6 121.0 483.2 121.4 493.2 122.0 500.3 122.4 502.5 123.0 504.5 123.8 506.0 124.6 506.9 125.8 507.8 127.2 508.4 131.2 509.2 135.0 509.4 139.4 509.4 141.6 509.2 142.8 508.7 143.6 507.9 144.4 505.8 146.2 495.4 146.8 493.8 147.0 494.1 147.4 495.9 148.8 504.7 149.8 507.9 150.6 508.9 151.6 509.4 153.0 509.5 154.8 509.3 160.2 507.4 165.0 504.9 167.0 503.4 171.8 499.4 177.0 494.4 178.6 493.4 180.2 493.1 181.4 493.3 182.8 493.9 188.0 497.5 192.0 499.8 193.8 500.5 198.0 500.4 204.2 500.0 212.6 498.1 214.6 497.9 216.2 498.2 218.8 499.1 230.6 504.9 235.8 507.1 240.0 508.5 244.4 509.4 253.4 510.4 267.4 511.4 289.8 512.2 306.0 512.4" stroke="#ff3b00" stroke-width="0.6" stroke-dasharray="1.2 0.6"/><path d="M23.6 512.0L45.2 511.7 49.0 511.5 51.2 511.1 52.2 510.4 53.0 509.0 53.8 506.2 55.0 500.5 55.4 499.7 56.0 500.9 57.2 506.6 58.0 509.1 59.0 510.4 60.8 510.9 66.6 511.4 71.2 511.5 79.2 511.4 82.8 511.0 83.8 510.5 84.6 509.6 85.2 508.2 86.6 503.7 87.0 503.2 87.6 504.0 88.8 507.9 89.4 509.3 90.2 510.3 91.2 510.6 92.4 510.5 93.6 509.9 94.6 509.1 96.6 506.7 97.4 506.3 98.4 506.7 100.2 508.7 101.4 509.7 102.6 510.2 104.2 510.3 107.8 510.1 110.6 509.3 112.6 508.1 114.0 506.4 114.6 505.1 115.2 503.0 115.8 498.5 116.6 481.2 117.2 449.3 118.4 347.1 118.7 336.2 119.2 354.1 120.2 442.3 121.0 484.6 121.4 494.2 122.0 501.0 122.4 503.2 123.0 505.0 123.8 506.5 124.6 507.4 125.8 508.3 127.2 508.9 131.2 509.6 139.0 509.8 141.2 509.6 142.6 509.2 143.6 508.2 144.4 505.9 146.2 495.2 146.7 494.1 147.2 495.7 148.6 504.7 149.6 508.2 150.4 509.3 151.4 509.9 153.0 510.1 154.8 509.8 160.4 507.9 165.2 505.5 171.8 500.2 177.2 495.0 178.8 494.0 180.2 493.8 181.4 494.0 182.8 494.6 187.8 498.1 191.8 500.6 193.4 501.3 197.0 501.4 204.2 500.9 206.4 500.5 212.2 499.0 214.0 498.8 215.6 498.9 218.6 499.9 230.2 505.5 233.8 506.9 239.0 508.7 243.4 509.6 252.6 510.6 267.4 511.6 289.8 512.4 306.0 512.6" stroke="#ff1d00" stroke-width="0.6" stroke-dasharray="1.2 0.6"/><path d="M23.6 512.3L45.2 512.0 49.2 511.8 51.2 511.3 52.2 510.6 53.0 509.1 54.8 501.1 55.3 500.0 55.8 501.0 57.2 507.6 58.0 509.9 59.0 511.0 61.0 511.6 65.8 511.8 75.2 511.8 80.4 511.6 83.0 511.3 84.0 510.7 84.8 509.6 86.6 504.3 87.0 503.7 87.6 504.6 88.8 508.4 89.4 509.7 90.2 510.6 91.0 510.9 92.4 510.8 93.6 510.2 94.6 509.3 96.6 507.0 97.4 506.5 98.4 507.0 100.2 509.0 101.4 510.0 102.6 510.5 104.2 510.7 107.8 510.4 110.6 509.7 112.6 508.6 114.0 506.9 114.6 505.7 115.2 503.6 115.8 499.4 116.6 482.7 117.2 451.8 118.4 351.7 118.7 340.9 119.2 358.5 120.2 444.9 121.0 486.0 121.4 495.2 122.0 501.8 122.4 503.8 123.0 505.6 123.8 507.0 124.6 507.9 125.8 508.8 127.2 509.3 131.2 510.1 139.0 510.2 141.2 510.0 142.6 509.6 143.4 508.8 144.2 506.8 144.8 504.0 146.0 496.1 146.6 494.4 147.0 495.6 148.6 505.8 149.6 509.0 150.4 510.0 151.6 510.5 153.0 510.7 154.8 510.4 160.6 508.4 165.4 506.0 171.8 501.0 177.2 495.7 178.6 494.8 180.0 494.5 181.4 494.7 182.8 495.4 188.0 499.1 192.0 501.5 193.6 502.2 197.4 502.2 204.2 501.7 206.4 501.3 212.2 499.8 214.0 499.6 215.4 499.7 218.6 500.7 231.8 506.9 237.8 508.9 242.2 509.8 251.2 510.8 267.4 511.8 289.8 512.6 306.0 512.8" stroke="#ff0000" stroke-width="0.9"/></g>
<rect x="23.6" y="375.9" width="282.4" height="139.7" fill="none" stroke="#333" stroke-width="1.2"/>
<g stroke="#333" stroke-width="1"><line x1="45.32" y1="515.6" x2="45.32" y2="520.1"/><line x1="88.77" y1="515.6" x2="88.77" y2="520.1"/><line x1="132.22" y1="515.6" x2="132.22" y2="520.1"/><line x1="175.66" y1="515.6" x2="175.66" y2="520.1"/><line x1="219.11" y1="515.6" x2="219.11" y2="520.1"/><line x1="262.55" y1="515.6" x2="262.55" y2="520.1"/><line x1="306.00" y1="515.6" x2="306.00" y2="520.1"/><line x1="67.05" y1="515.6" x2="67.05" y2="518.2"/><line x1="110.49" y1="515.6" x2="110.49" y2="518.2"/><line x1="153.94" y1="515.6" x2="153.94" y2="518.2"/><line x1="197.38" y1="515.6" x2="197.38" y2="518.2"/><line x1="240.83" y1="515.6" x2="240.83" y2="518.2"/><line x1="284.28" y1="515.6" x2="284.28" y2="518.2"/></g>
<g font-size="10.4" text-anchor="middle" fill="#111" stroke="#111" stroke-width="0.25"><text x="45.32" y="531.3" textLength="20.79" lengthAdjust="spacingAndGlyphs">2800</text><text x="88.77" y="531.3" textLength="20.79" lengthAdjust="spacingAndGlyphs">2900</text><text x="132.22" y="531.3" textLength="20.79" lengthAdjust="spacingAndGlyphs">3000</text><text x="175.66" y="531.3" textLength="20.79" lengthAdjust="spacingAndGlyphs">3100</text><text x="219.11" y="531.3" textLength="20.79" lengthAdjust="spacingAndGlyphs">3200</text><text x="262.55" y="531.3" textLength="20.79" lengthAdjust="spacingAndGlyphs">3300</text><text x="306.00" y="531.3" textLength="20.79" lengthAdjust="spacingAndGlyphs">3400</text></g>
<g font-size="11.4" fill="#111" stroke="#111" stroke-width="0.35"><text x="117.1" y="543.7">Raman shift</text><text x="181.0" y="543.7" letter-spacing="0.45">(cm</text><text x="201.7" y="539.1" font-size="7.6" letter-spacing="0.4">-1</text><text x="209.0" y="543.7">)</text></g>
<text transform="translate(12.9,444.6) rotate(-90)" text-anchor="middle" font-size="11.85" fill="#111" stroke="#111" stroke-width="0.35">Intensity (arb. units)</text>
<g font-size="24" fill="#111" stroke="#111" stroke-width="0.25"><text x="268.3" y="403.8">(</text><text x="276.6" y="403.8">c</text><text x="289.7" y="403.8">)</text></g>
<rect x="315.7" y="375.30" width="15.7" height="16.25" fill="#0000ee"/><rect x="315.7" y="391.50" width="15.7" height="16.25" fill="#0a80ff"/><rect x="315.7" y="407.70" width="15.7" height="16.25" fill="#00ffff"/><rect x="315.7" y="423.90" width="15.7" height="16.25" fill="#00f080"/><rect x="315.7" y="440.10" width="15.7" height="16.25" fill="#00f000"/><rect x="315.7" y="456.30" width="15.7" height="16.25" fill="#80f000"/><rect x="315.7" y="472.50" width="15.7" height="16.25" fill="#ffff00"/><rect x="315.7" y="488.70" width="15.7" height="16.25" fill="#ff8000"/><rect x="315.7" y="504.90" width="15.7" height="16.25" fill="#ff0000"/>
<g font-size="6.5" fill="#222"><text x="333.6" y="378.00">30.00</text><text x="333.6" y="394.20">4.889</text><text x="333.6" y="410.40">-20.22</text><text x="333.6" y="426.60">-45.33</text><text x="333.6" y="442.80">-70.44</text><text x="333.6" y="459.00">-95.56</text><text x="333.6" y="475.20">-120.7</text><text x="333.6" y="491.40">-145.8</text><text x="333.6" y="507.60">-170.9</text><text x="333.6" y="523.80">-196.0</text></g>
</svg>
</body></html>
